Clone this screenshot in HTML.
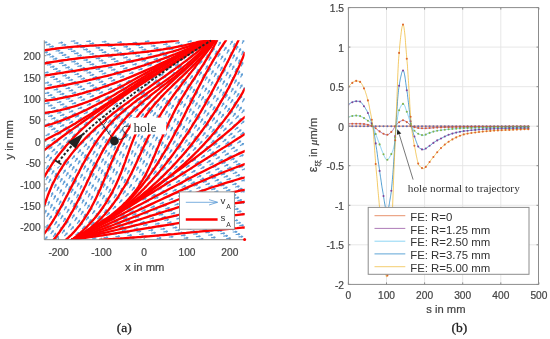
<!DOCTYPE html>
<html><head><meta charset="utf-8"><title>figure</title>
<style>html,body{margin:0;padding:0;background:#fff;}body{width:550px;height:339px;overflow:hidden;}svg{display:block;}</style>
</head><body>
<svg width="550" height="339" viewBox="0 0 550 339">
<rect width="550" height="339" fill="#fff"/>
<clipPath id="cl"><rect x="44.3" y="40.3" width="200.39999999999998" height="199.39999999999998"/></clipPath>
<g clip-path="url(#cl)">
<path d="M44.9,239.7L47,236.8M47,236.8L45.9,237.3M47,236.8L46.8,238M46,228L48,225M48,225L46.9,225.5M48,225L47.9,226.2M48.5,230.8L50.6,227.8M50.6,227.8L49.5,228.4M50.6,227.8L50.4,229M51,233.6L53.1,230.7M53.1,230.7L52.1,231.2M53.1,230.7L53,231.9M53.5,236.4L55.7,233.5M55.7,233.5L54.6,234M55.7,233.5L55.5,234.7M56,239.2L58.3,236.4M58.3,236.4L57.2,236.8M58.3,236.4L58.1,237.6M44.5,213.7L46,210.5M46,210.5L45.1,211.2M46,210.5L46.1,211.6M47,216.4L48.8,213.3M48.8,213.3L47.8,213.9M48.8,213.3L48.8,214.5M49.5,219.2L51.4,216.1M51.4,216.1L50.4,216.7M51.4,216.1L51.4,217.3M52.1,221.9L54,218.9M54,218.9L53,219.5M54,218.9L54,220.1M54.7,224.7L56.6,221.7M56.6,221.7L55.6,222.3M56.6,221.7L56.5,222.9M57.2,227.5L59.2,224.5M59.2,224.5L58.2,225.1M59.2,224.5L59.1,225.7M59.8,230.3L61.8,227.3M61.8,227.3L60.8,227.8M61.8,227.3L61.7,228.5M62.3,233L64.4,230.1M64.4,230.1L63.4,230.6M64.4,230.1L64.3,231.3M64.7,235.7L67.2,233.1M67.2,233.1L66,233.4M67.2,233.1L66.9,234.2M67.2,238.4L69.9,236M69.9,236L68.7,236.3M69.9,236L69.5,237.1M45.4,202.4L46.6,198.9M46.6,198.9L45.7,199.8M46.6,198.9L46.8,200.1M48.1,205.1L49.2,201.7M49.2,201.7L48.3,202.5M49.2,201.7L49.4,202.9M50.6,207.8L52,204.4M52,204.4L51,205.2M52,204.4L52.1,205.6M53.1,210.4L54.8,207.3M54.8,207.3L53.8,207.9M54.8,207.3L54.8,208.5M55.7,213.1L57.4,210M57.4,210L56.4,210.6M57.4,210L57.4,211.2M58.3,215.9L60.1,212.8M60.1,212.8L59,213.4M60.1,212.8L60,214M60.9,218.6L62.7,215.5M62.7,215.5L61.7,216.2M62.7,215.5L62.7,216.7M63.5,221.4L65.3,218.3M65.3,218.3L64.3,218.9M65.3,218.3L65.3,219.5M66.1,224.1L68,221.1M68,221.1L66.9,221.7M68,221.1L67.9,222.3M68.6,226.9L70.6,223.9M70.6,223.9L69.6,224.4M70.6,223.9L70.5,225.1M71,229.5L73.4,226.8M73.4,226.8L72.3,227.2M73.4,226.8L73.1,228M73.6,232.2L76,229.6M76,229.6L74.9,230M76,229.6L75.7,230.8M75.9,234.7L78.9,232.7M78.9,232.7L77.7,232.8M78.9,232.7L78.3,233.8M78.4,237.3L81.6,235.7M81.6,235.7L80.4,235.6M81.6,235.7L80.9,236.7M45.9,191L47.2,187.7M47.2,187.7L46.3,188.4M47.2,187.7L47.4,188.9M48.6,193.7L49.9,190.4M49.9,190.4L49,191.1M49.9,190.4L50.1,191.6M51.3,196.4L52.6,193M52.6,193L51.7,193.8M52.6,193L52.7,194.2M53.9,199.1L55.3,195.7M55.3,195.7L54.4,196.5M55.3,195.7L55.4,196.9M56.5,201.7L58.1,198.5M58.1,198.5L57.1,199.2M58.1,198.5L58.1,199.7M59.1,204.4L60.8,201.2M60.8,201.2L59.8,201.9M60.8,201.2L60.8,202.4M61.8,207.1L63.5,203.9M63.5,203.9L62.5,204.6M63.5,203.9L63.5,205.1M64.4,209.8L66.1,206.7M66.1,206.7L65.1,207.3M66.1,206.7L66.1,207.9M67,212.5L68.8,209.4M68.8,209.4L67.8,210M68.8,209.4L68.8,210.6M69.7,215.3L71.4,212.1M71.4,212.1L70.4,212.8M71.4,212.1L71.4,213.3M72.3,218L74.1,214.9M74.1,214.9L73.1,215.5M74.1,214.9L74.1,216.1M74.9,220.7L76.8,217.7M76.8,217.7L75.8,218.2M76.8,217.7L76.7,218.9M77.4,223.3L79.6,220.5M79.6,220.5L78.5,221M79.6,220.5L79.4,221.7M80,226.1L82.2,223.2M82.2,223.2L81.1,223.7M82.2,223.2L82,224.4M82.4,228.6L85,226.2M85,226.2L83.9,226.5M85,226.2L84.7,227.3M84.8,231.1L87.9,229.2M87.9,229.2L86.7,229.3M87.9,229.2L87.3,230.2M87.3,233.7L90.6,232.1M90.6,232.1L89.4,232.1M90.6,232.1L89.9,233.1M89.8,236.1L93.3,235.3M93.3,235.3L92.2,235M93.3,235.3L92.4,236.1M92.4,238.8L95.9,238.1M95.9,238.1L94.8,237.7M95.9,238.1L95,238.9M46.1,179.8L47.9,176.6M47.9,176.6L46.9,177.3M47.9,176.6L47.9,177.8M48.9,182.4L50.5,179.2M50.5,179.2L49.6,179.9M50.5,179.2L50.6,180.4M51.7,185.1L53.2,181.8M53.2,181.8L52.3,182.5M53.2,181.8L53.3,183M54.4,187.7L56,184.5M56,184.5L55,185.2M56,184.5L56,185.7M57.1,190.4L58.7,187.1M58.7,187.1L57.7,187.9M58.7,187.1L58.7,188.3M59.8,193L61.4,189.8M61.4,189.8L60.4,190.5M61.4,189.8L61.5,191M62.5,195.7L64.1,192.5M64.1,192.5L63.1,193.2M64.1,192.5L64.2,193.7M65.2,198.4L66.8,195.2M66.8,195.2L65.8,195.9M66.8,195.2L66.9,196.4M67.9,201.1L69.5,197.9M69.5,197.9L68.5,198.5M69.5,197.9L69.5,199.1M70.5,203.8L72.2,200.6M72.2,200.6L71.2,201.2M72.2,200.6L72.2,201.8M73.2,206.5L74.9,203.3M74.9,203.3L73.9,203.9M74.9,203.3L74.9,204.5M75.9,209.2L77.6,206M77.6,206L76.6,206.6M77.6,206L77.6,207.2M78.5,211.8L80.3,208.7M80.3,208.7L79.3,209.3M80.3,208.7L80.3,209.9M81.1,214.5L83,211.4M83,211.4L82,212M83,211.4L82.9,212.6M83.7,217.2L85.7,214.2M85.7,214.2L84.6,214.7M85.7,214.2L85.6,215.4M86.3,219.9L88.4,216.9M88.4,216.9L87.3,217.5M88.4,216.9L88.3,218.1M88.8,222.5L91.2,219.8M91.2,219.8L90.1,220.2M91.2,219.8L91,221M91.3,225L94.1,222.7M94.1,222.7L92.9,222.9M94.1,222.7L93.6,223.8M93.8,227.5L96.9,225.7M96.9,225.7L95.7,225.7M96.9,225.7L96.3,226.7M96.4,230.1L99.6,228.5M99.6,228.5L98.4,228.5M99.6,228.5L98.9,229.5M98.9,232.5L102.3,231.5M102.3,231.5L101.2,231.3M102.3,231.5L101.5,232.4M101.5,235.1L105,234.4M105,234.4L103.9,234.1M105,234.4L104.1,235.2M104.1,237.7L107.7,237.3M107.7,237.3L106.6,236.9M107.7,237.3L106.7,238M46.3,168.7L48.3,165.6M48.3,165.6L47.2,166.2M48.3,165.6L48.2,166.8M49.1,171.3L51,168.2M51,168.2L50,168.8M51,168.2L51,169.4M51.9,173.9L53.8,170.8M53.8,170.8L52.7,171.4M53.8,170.8L53.7,172M54.8,176.5L56.5,173.4M56.5,173.4L55.5,174M56.5,173.4L56.5,174.6M57.5,179.1L59.2,176M59.2,176L58.2,176.6M59.2,176L59.2,177.2M60.3,181.8L62,178.6M62,178.6L61,179.3M62,178.6L62,179.8M63,184.4L64.7,181.2M64.7,181.2L63.7,181.9M64.7,181.2L64.7,182.4M65.8,187.1L67.4,183.9M67.4,183.9L66.4,184.5M67.4,183.9L67.5,185.1M68.5,189.7L70.1,186.5M70.1,186.5L69.2,187.2M70.1,186.5L70.2,187.7M71.2,192.4L72.9,189.2M72.9,189.2L71.9,189.8M72.9,189.2L72.9,190.3M74,195L75.6,191.8M75.6,191.8L74.6,192.5M75.6,191.8L75.6,193M76.7,197.7L78.3,194.5M78.3,194.5L77.3,195.2M78.3,194.5L78.3,195.7M79.4,200.4L81,197.1M81,197.1L80,197.8M81,197.1L81,198.3M82.1,203L83.7,199.8M83.7,199.8L82.7,200.5M83.7,199.8L83.7,201M84.7,205.7L86.4,202.5M86.4,202.5L85.4,203.2M86.4,202.5L86.4,203.7M87.4,208.3L89.2,205.2M89.2,205.2L88.1,205.8M89.2,205.2L89.1,206.4M90.1,211L91.9,207.9M91.9,207.9L90.8,208.5M91.9,207.9L91.8,209.1M92.6,213.6L94.7,210.7M94.7,210.7L93.6,211.2M94.7,210.7L94.5,211.9M95.2,216.2L97.5,213.4M97.5,213.4L96.4,213.9M97.5,213.4L97.3,214.6M97.8,218.8L100.3,216.2M100.3,216.2L99.1,216.6M100.3,216.2L99.9,217.4M100.2,221.3L103.2,219.2M103.2,219.2L102,219.3M103.2,219.2L102.6,220.3M102.8,223.9L105.9,222M105.9,222L104.7,222.1M105.9,222L105.3,223M105.4,226.4L108.7,224.9M108.7,224.9L107.5,224.8M108.7,224.9L107.9,225.9M108,228.9L111.4,227.8M111.4,227.8L110.2,227.6M111.4,227.8L110.6,228.7M110.6,231.5L114.1,230.6M114.1,230.6L113,230.3M114.1,230.6L113.2,231.4M113.2,234.1L116.8,233.5M116.8,233.5L115.7,233.1M116.8,233.5L115.9,234.2M115.9,236.6L119.5,236.3M119.5,236.3L118.4,235.8M119.5,236.3L118.5,237M118.6,239.3L122.1,239.1M122.1,239.1L121.1,238.6M122.1,239.1L121.1,239.7M46.3,157.6L48.7,154.9M48.7,154.9L47.6,155.3M48.7,154.9L48.5,156.1M49.3,160.3L51.4,157.3M51.4,157.3L50.3,157.8M51.4,157.3L51.2,158.5M52.1,162.8L54.2,159.9M54.2,159.9L53.1,160.4M54.2,159.9L54.1,161.1M54.9,165.4L57,162.4M57,162.4L55.9,163M57,162.4L56.9,163.6M57.8,168L59.7,165M59.7,165L58.7,165.5M59.7,165L59.6,166.2M60.6,170.6L62.5,167.5M62.5,167.5L61.4,168.1M62.5,167.5L62.4,168.7M63.4,173.2L65.3,170.1M65.3,170.1L64.2,170.7M65.3,170.1L65.2,171.3M66.2,175.8L68,172.7M68,172.7L67,173.3M68,172.7L68,173.9M69,178.5L70.7,175.3M70.7,175.3L69.7,175.9M70.7,175.3L70.7,176.5M71.8,181.1L73.4,177.9M73.4,177.9L72.4,178.5M73.4,177.9L73.5,179.1M74.6,183.7L76.2,180.5M76.2,180.5L75.2,181.2M76.2,180.5L76.2,181.7M77.3,186.3L78.9,183.1M78.9,183.1L77.9,183.8M78.9,183.1L79,184.3M80.1,189L81.6,185.7M81.6,185.7L80.7,186.4M81.6,185.7L81.7,186.9M82.8,191.6L84.4,188.4M84.4,188.4L83.4,189.1M84.4,188.4L84.4,189.6M85.5,194.2L87.1,191M87.1,191L86.1,191.7M87.1,191L87.2,192.2M88.3,196.9L89.8,193.7M89.8,193.7L88.9,194.4M89.8,193.7L89.9,194.9M91,199.5L92.6,196.3M92.6,196.3L91.6,197M92.6,196.3L92.6,197.5M93.7,202.2L95.3,199M95.3,199L94.3,199.7M95.3,199L95.3,200.2M96.3,204.8L98.1,201.7M98.1,201.7L97.1,202.3M98.1,201.7L98.1,202.9M98.9,207.4L100.9,204.4M100.9,204.4L99.8,205M100.9,204.4L100.8,205.6M101.6,210L103.7,207.1M103.7,207.1L102.6,207.6M103.7,207.1L103.5,208.3M104.2,212.6L106.5,209.8M106.5,209.8L105.4,210.3M106.5,209.8L106.2,211M106.7,215.1L109.4,212.7M109.4,212.7L108.2,213M109.4,212.7L109,213.8M109.3,217.6L112.2,215.6M112.2,215.6L111,215.7M112.2,215.6L111.7,216.6M111.9,220.2L115,218.4M115,218.4L113.8,218.4M115,218.4L114.4,219.4M114.5,222.7L117.8,221.2M117.8,221.2L116.6,221.1M117.8,221.2L117,222.2M117.1,225.2L120.5,224M120.5,224L119.3,223.8M120.5,224L119.7,224.9M119.8,227.8L123.2,226.8M123.2,226.8L122.1,226.6M123.2,226.8L122.4,227.7M122.4,230.4L125.9,229.6M125.9,229.6L124.8,229.3M125.9,229.6L125,230.4M125.1,233L128.7,232.4M128.7,232.4L127.5,232M128.7,232.4L127.7,233.1M127.8,235.5L131.4,235.2M131.4,235.2L130.3,234.7M131.4,235.2L130.4,235.9M130.5,238.2L134,237.9M134,237.9L133,237.4M134,237.9L133,238.6M46.2,146.5L49.1,144.4M49.1,144.4L47.9,144.5M49.1,144.4L48.6,145.5M49.1,149L51.9,146.9M51.9,146.9L50.8,147M51.9,146.9L51.4,148M52,151.7L54.7,149.2M54.7,149.2L53.5,149.5M54.7,149.2L54.3,150.4M55.1,154.4L57.3,151.6M57.3,151.6L56.2,152M57.3,151.6L57.1,152.7M57.9,156.9L60.1,154.1M60.1,154.1L59,154.6M60.1,154.1L59.9,155.3M60.8,159.5L62.9,156.6M62.9,156.6L61.8,157.1M62.9,156.6L62.8,157.8M63.6,162.1L65.7,159.1M65.7,159.1L64.6,159.7M65.7,159.1L65.6,160.3M66.4,164.6L68.5,161.7M68.5,161.7L67.4,162.2M68.5,161.7L68.4,162.9M69.3,167.2L71.3,164.2M71.3,164.2L70.2,164.8M71.3,164.2L71.2,165.4M72.2,169.9L73.9,166.7M73.9,166.7L72.9,167.4M73.9,166.7L73.9,167.9M75,172.5L76.7,169.3M76.7,169.3L75.7,170M76.7,169.3L76.7,170.5M77.8,175.1L79.5,171.9M79.5,171.9L78.5,172.5M79.5,171.9L79.5,173.1M80.6,177.7L82.2,174.5M82.2,174.5L81.2,175.1M82.2,174.5L82.3,175.7M83.4,180.3L85,177.1M85,177.1L84,177.7M85,177.1L85,178.2M86.2,182.9L87.7,179.7M87.7,179.7L86.8,180.4M87.7,179.7L87.8,180.9M88.9,185.5L90.5,182.3M90.5,182.3L89.5,183M90.5,182.3L90.5,183.5M91.7,188.1L93.2,184.9M93.2,184.9L92.3,185.6M93.2,184.9L93.3,186.1M94.5,190.8L95.9,187.5M95.9,187.5L95,188.2M95.9,187.5L96,188.7M97.2,193.4L98.7,190.1M98.7,190.1L97.7,190.8M98.7,190.1L98.8,191.3M99.9,196L101.5,192.8M101.5,192.8L100.5,193.5M101.5,192.8L101.5,194M102.6,198.6L104.3,195.5M104.3,195.5L103.3,196.1M104.3,195.5L104.3,196.7M105.2,201.2L107.1,198.1M107.1,198.1L106.1,198.7M107.1,198.1L107.1,199.3M107.9,203.8L109.9,200.8M109.9,200.8L108.8,201.4M109.9,200.8L109.8,202M110.6,206.4L112.7,203.5M112.7,203.5L111.6,204M112.7,203.5L112.5,204.7M113.1,208.9L115.6,206.3M115.6,206.3L114.5,206.7M115.6,206.3L115.3,207.5M115.7,211.4L118.5,209.1M118.5,209.1L117.3,209.3M118.5,209.1L118,210.2M118.3,213.9L121.3,211.9M121.3,211.9L120.1,212M121.3,211.9L120.7,213M120.9,216.4L124.1,214.7M124.1,214.7L122.9,214.7M124.1,214.7L123.4,215.7M123.6,218.9L126.9,217.5M126.9,217.5L125.7,217.4M126.9,217.5L126.1,218.5M126.3,221.5L129.6,220.2M129.6,220.2L128.4,220.1M129.6,220.2L128.8,221.2M128.9,224.1L132.4,223M132.4,223L131.2,222.8M132.4,223L131.5,223.9M131.6,226.6L135.1,225.8M135.1,225.8L134,225.5M135.1,225.8L134.2,226.6M134.3,229.2L137.9,228.5M137.9,228.5L136.7,228.2M137.9,228.5L136.9,229.3M137,231.8L140.6,231.3M140.6,231.3L139.5,230.8M140.6,231.3L139.6,232M139.7,234.4L143.3,234M143.3,234L142.2,233.5M143.3,234L142.3,234.7M142.4,237L146,236.7M146,236.7L144.9,236.2M146,236.7L145,237.4M46,135.6L49.3,134M49.3,134L48.1,133.9M49.3,134L48.6,134.9M49,138.1L52.2,136.4M52.2,136.4L51,136.4M52.2,136.4L51.5,137.4M51.9,140.7L55,138.7M55,138.7L53.8,138.8M55,138.7L54.4,139.8M54.9,143.2L57.8,141.1M57.8,141.1L56.6,141.3M57.8,141.1L57.3,142.2M57.8,145.8L60.6,143.5M60.6,143.5L59.4,143.7M60.6,143.5L60.1,144.6M60.9,148.5L63.2,145.8M63.2,145.8L62.1,146.2M63.2,145.8L63,147M63.8,151L66.1,148.3M66.1,148.3L64.9,148.7M66.1,148.3L65.8,149.5M66.6,153.6L68.9,150.8M68.9,150.8L67.8,151.2M68.9,150.8L68.7,152M69.5,156.1L71.7,153.3M71.7,153.3L70.6,153.8M71.7,153.3L71.5,154.5M72.3,158.7L74.5,155.8M74.5,155.8L73.4,156.3M74.5,155.8L74.3,157M75.2,161.3L77.3,158.3M77.3,158.3L76.2,158.8M77.3,158.3L77.1,159.5M78.2,163.9L79.9,160.8M79.9,160.8L78.9,161.4M79.9,160.8L79.9,162M81,166.5L82.7,163.3M82.7,163.3L81.7,164M82.7,163.3L82.7,164.5M83.8,169.1L85.5,165.9M85.5,165.9L84.5,166.5M85.5,165.9L85.5,167.1M86.7,171.6L88.3,168.4M88.3,168.4L87.3,169.1M88.3,168.4L88.3,169.6M89.5,174.2L91,171M91,171L90.1,171.7M91,171L91.1,172.2M92.3,176.8L93.8,173.6M93.8,173.6L92.9,174.3M93.8,173.6L93.9,174.8M95.1,179.4L96.6,176.2M96.6,176.2L95.6,176.9M96.6,176.2L96.7,177.4M97.9,182L99.3,178.7M99.3,178.7L98.4,179.5M99.3,178.7L99.4,179.9M100.7,184.7L102.1,181.3M102.1,181.3L101.1,182.1M102.1,181.3L102.2,182.5M103.4,187.3L104.8,183.9M104.8,183.9L103.9,184.7M104.8,183.9L105,185.1M106.1,189.8L107.7,186.6M107.7,186.6L106.7,187.3M107.7,186.6L107.7,187.8M108.8,192.4L110.5,189.2M110.5,189.2L109.5,189.9M110.5,189.2L110.5,190.4M111.6,195L113.3,191.9M113.3,191.9L112.3,192.5M113.3,191.9L113.3,193.1M114.2,197.6L116.1,194.5M116.1,194.5L115.1,195.1M116.1,194.5L116.1,195.7M116.9,200.2L118.9,197.2M118.9,197.2L117.9,197.7M118.9,197.2L118.8,198.4M119.5,202.6L121.9,200M121.9,200L120.7,200.4M121.9,200L121.6,201.1M122.1,205.2L124.7,202.7M124.7,202.7L123.6,203M124.7,202.7L124.4,203.8M124.7,207.6L127.6,205.5M127.6,205.5L126.4,205.7M127.6,205.5L127.1,206.6M127.4,210.1L130.4,208.2M130.4,208.2L129.2,208.3M130.4,208.2L129.8,209.3M130,212.6L133.2,211M133.2,211L132.1,211M133.2,211L132.6,212M132.7,215.2L136,213.8M136,213.8L134.8,213.6M136,213.8L135.3,214.7M135.4,217.7L138.8,216.5M138.8,216.5L137.6,216.3M138.8,216.5L138,217.4M138.1,220.3L141.6,219.2M141.6,219.2L140.4,219M141.6,219.2L140.7,220.1M140.8,222.8L144.3,221.9M144.3,221.9L143.2,221.6M144.3,221.9L143.4,222.7M143.6,225.4L147.1,224.6M147.1,224.6L145.9,224.3M147.1,224.6L146.2,225.4M146.3,228L149.8,227.3M149.8,227.3L148.7,227M149.8,227.3L148.9,228.1M149,230.5L152.6,230M152.6,230L151.5,229.6M152.6,230L151.6,230.8M151.7,233.1L155.3,232.7M155.3,232.7L154.2,232.3M155.3,232.7L154.3,233.4M154.5,235.7L158.1,235.4M158.1,235.4L157,234.9M158.1,235.4L157.1,236.1M157.2,238.3L160.8,238M160.8,238L159.7,237.6M160.8,238L159.8,238.7M45.9,124.7L49.3,123.7M49.3,123.7L48.2,123.4M49.3,123.7L48.5,124.5M48.8,127.1L52.3,126M52.3,126L51.1,125.8M52.3,126L51.4,126.9M51.8,129.7L55.1,128.3M55.1,128.3L53.9,128.2M55.1,128.3L54.4,129.3M54.8,132.3L58,130.6M58,130.6L56.8,130.6M58,130.6L57.3,131.6M57.7,134.8L60.8,133M60.8,133L59.7,133M60.8,133L60.2,134M60.7,137.4L63.7,135.3M63.7,135.3L62.5,135.5M63.7,135.3L63.1,136.4M63.7,140L66.5,137.7M66.5,137.7L65.3,137.9M66.5,137.7L66,138.8M66.7,142.6L69.2,140M69.2,140L68,140.4M69.2,140L68.9,141.1M69.6,145.1L72,142.5M72,142.5L70.9,142.9M72,142.5L71.8,143.6M72.5,147.7L74.9,144.9M74.9,144.9L73.7,145.3M74.9,144.9L74.6,146.1M75.4,150.2L77.7,147.4M77.7,147.4L76.6,147.9M77.7,147.4L77.5,148.6M78.2,152.7L80.5,149.9M80.5,149.9L79.4,150.4M80.5,149.9L80.3,151.1M81.3,155.4L83.2,152.3M83.2,152.3L82.2,152.9M83.2,152.3L83.1,153.5M84.2,157.9L86,154.8M86,154.8L84.9,155.4M86,154.8L85.9,156M87,160.5L88.8,157.3M88.8,157.3L87.8,158M88.8,157.3L88.8,158.5M89.9,163L91.6,159.9M91.6,159.9L90.6,160.5M91.6,159.9L91.6,161.1M92.7,165.6L94.3,162.4M94.3,162.4L93.4,163.1M94.3,162.4L94.4,163.6M95.5,168.2L97.2,164.9M97.2,164.9L96.2,165.6M97.2,164.9L97.2,166.1M98.4,170.7L99.9,167.5M99.9,167.5L99,168.2M99.9,167.5L100,168.7M101.2,173.4L102.7,170M102.7,170L101.7,170.8M102.7,170L102.8,171.2M104.1,175.9L105.4,172.6M105.4,172.6L104.5,173.4M105.4,172.6L105.6,173.8M106.8,178.5L108.2,175.2M108.2,175.2L107.3,175.9M108.2,175.2L108.3,176.4M109.6,181.1L111,177.8M111,177.8L110.1,178.5M111,177.8L111.1,179M112.3,183.7L113.9,180.4M113.9,180.4L112.9,181.1M113.9,180.4L113.9,181.6M115.1,186.2L116.7,183M116.7,183L115.7,183.7M116.7,183L116.7,184.2M117.8,188.8L119.5,185.6M119.5,185.6L118.5,186.3M119.5,185.6L119.5,186.8M120.5,191.4L122.3,188.3M122.3,188.3L121.3,188.9M122.3,188.3L122.3,189.5M123.2,193.9L125.2,190.9M125.2,190.9L124.1,191.5M125.2,190.9L125.1,192.1M125.8,196.3L128.2,193.7M128.2,193.7L127,194.1M128.2,193.7L127.9,194.8M128.5,199L130.9,196.3M130.9,196.3L129.8,196.7M130.9,196.3L130.7,197.5M131.1,201.4L133.8,199M133.8,199L132.7,199.3M133.8,199L133.4,200.2M133.8,203.9L136.7,201.8M136.7,201.8L135.5,201.9M136.7,201.8L136.2,202.9M136.5,206.3L139.6,204.6M139.6,204.6L138.4,204.6M139.6,204.6L138.9,205.6M139.1,208.8L142.4,207.3M142.4,207.3L141.2,207.2M142.4,207.3L141.7,208.3M141.9,211.4L145.2,210M145.2,210L144,209.9M145.2,210L144.4,210.9M144.6,213.9L148,212.7M148,212.7L146.8,212.5M148,212.7L147.2,213.6M147.3,216.5L150.8,215.4M150.8,215.4L149.6,215.1M150.8,215.4L149.9,216.2M150.1,219L153.5,218M153.5,218L152.4,217.8M153.5,218L152.7,218.9M152.8,221.6L156.3,220.7M156.3,220.7L155.1,220.4M156.3,220.7L155.4,221.5M155.5,224.1L159.1,223.4M159.1,223.4L157.9,223.1M159.1,223.4L158.2,224.2M158.3,226.7L161.8,226.1M161.8,226.1L160.7,225.7M161.8,226.1L160.9,226.8M161,229.2L164.6,228.8M164.6,228.8L163.5,228.3M164.6,228.8L163.6,229.5M163.8,231.8L167.4,231.4M167.4,231.4L166.3,231M167.4,231.4L166.4,232.1M166.6,234.4L170.1,234M170.1,234L169,233.6M170.1,234L169.1,234.7M169.3,237L172.9,236.7M172.9,236.7L171.8,236.2M172.9,236.7L171.9,237.3M45.7,114L49.3,113.4M49.3,113.4L48.1,113M49.3,113.4L48.3,114.1M48.7,116.4L52.2,115.7M52.2,115.7L51.1,115.3M52.2,115.7L51.3,116.5M51.7,119L55.1,117.9M55.1,117.9L54,117.7M55.1,117.9L54.3,118.8M54.7,121.4L58.1,120.2M58.1,120.2L56.9,120M58.1,120.2L57.3,121.1M57.6,123.9L61,122.6M61,122.6L59.8,122.4M61,122.6L60.2,123.5M60.6,126.4L63.9,124.9M63.9,124.9L62.7,124.8M63.9,124.9L63.2,125.9M63.6,129L66.7,127.2M66.7,127.2L65.5,127.2M66.7,127.2L66.1,128.2M66.6,131.5L69.6,129.5M69.6,129.5L68.4,129.6M69.6,129.5L69,130.6M69.5,134.1L72.4,131.9M72.4,131.9L71.2,132.1M72.4,131.9L71.9,133M72.6,136.7L75.1,134.2M75.1,134.2L74,134.5M75.1,134.2L74.8,135.3M75.5,139.2L78,136.6M78,136.6L76.9,137M78,136.6L77.7,137.8M78.4,141.7L80.9,139.1M80.9,139.1L79.7,139.4M80.9,139.1L80.6,140.2M81.3,144.2L83.7,141.5M83.7,141.5L82.6,141.9M83.7,141.5L83.5,142.7M84.2,146.7L86.5,144M86.5,144L85.4,144.4M86.5,144L86.3,145.2M87.3,149.4L89.2,146.3M89.2,146.3L88.2,146.9M89.2,146.3L89.1,147.5M90.2,151.9L92,148.8M92,148.8L91,149.4M92,148.8L92,150M93,154.5L94.8,151.3M94.8,151.3L93.8,152M94.8,151.3L94.8,152.5M95.9,157L97.6,153.8M97.6,153.8L96.6,154.5M97.6,153.8L97.6,155M98.8,159.5L100.4,156.4M100.4,156.4L99.4,157M100.4,156.4L100.5,157.6M101.6,162.1L103.3,158.9M103.3,158.9L102.3,159.6M103.3,158.9L103.3,160.1M104.5,164.7L106,161.4M106,161.4L105,162.1M106,161.4L106.1,162.6M107.4,167.3L108.8,163.9M108.8,163.9L107.8,164.7M108.8,163.9L108.9,165.1M110.2,169.8L111.6,166.5M111.6,166.5L110.6,167.2M111.6,166.5L111.7,167.7M113,172.4L114.4,169M114.4,169L113.4,169.8M114.4,169L114.5,170.2M115.8,174.9L117.2,171.6M117.2,171.6L116.2,172.4M117.2,171.6L117.3,172.8M118.6,177.5L120,174.2M120,174.2L119.1,174.9M120,174.2L120.1,175.4M121.4,180.1L122.8,176.8M122.8,176.8L121.9,177.5M122.8,176.8L122.9,178M124.1,182.6L125.7,179.4M125.7,179.4L124.7,180.1M125.7,179.4L125.7,180.6M126.8,185.1L128.5,182M128.5,182L127.5,182.6M128.5,182L128.5,183.2M129.5,187.7L131.4,184.6M131.4,184.6L130.4,185.2M131.4,184.6L131.4,185.8M132.2,190.2L134.4,187.3M134.4,187.3L133.3,187.8M134.4,187.3L134.2,188.5M134.9,192.7L137.2,189.9M137.2,189.9L136.1,190.4M137.2,189.9L137,191.1M137.5,195.1L140.1,192.7M140.1,192.7L139,193M140.1,192.7L139.8,193.8M140.1,197.6L143,195.4M143,195.4L141.9,195.6M143,195.4L142.5,196.5M142.9,200.1L145.9,198.1M145.9,198.1L144.7,198.2M145.9,198.1L145.3,199.2M145.6,202.6L148.7,200.8M148.7,200.8L147.5,200.8M148.7,200.8L148.1,201.8M148.3,205.1L151.6,203.5M151.6,203.5L150.4,203.5M151.6,203.5L150.8,204.5M151,207.6L154.4,206.2M154.4,206.2L153.2,206.1M154.4,206.2L153.6,207.1M153.8,210.1L157.2,208.8M157.2,208.8L156,208.7M157.2,208.8L156.4,209.8M156.5,212.6L160,211.5M160,211.5L158.8,211.3M160,211.5L159.1,212.4M159.3,215.2L162.7,214.2M162.7,214.2L161.6,213.9M162.7,214.2L161.9,215M162.1,217.7L165.5,216.8M165.5,216.8L164.4,216.5M165.5,216.8L164.7,217.7M164.8,220.3L168.3,219.5M168.3,219.5L167.2,219.1M168.3,219.5L167.4,220.3M167.6,222.8L171.1,222.1M171.1,222.1L170,221.8M171.1,222.1L170.2,222.9M170.4,225.3L173.9,224.8M173.9,224.8L172.8,224.4M173.9,224.8L173,225.5M173.1,227.9L176.7,227.4M176.7,227.4L175.6,227M176.7,227.4L175.7,228.1M175.9,230.4L179.5,230M179.5,230L178.4,229.6M179.5,230L178.5,230.7M178.7,233L182.3,232.6M182.3,232.6L181.2,232.2M182.3,232.6L181.3,233.3M181.5,235.6L185.1,235.2M185.1,235.2L184,234.8M185.1,235.2L184.1,235.9M184.3,238.1L187.9,237.8M187.9,237.8L186.8,237.3M187.9,237.8L186.9,238.5M45.5,103.6L49.1,103M49.1,103L47.9,102.6M49.1,103L48.1,103.8M48.5,105.9L52.1,105.3M52.1,105.3L50.9,104.9M52.1,105.3L51.1,106.1M51.5,108.3L55.1,107.6M55.1,107.6L53.9,107.3M55.1,107.6L54.1,108.4M54.5,110.7L58,109.9M58,109.9L56.9,109.6M58,109.9L57.1,110.7M57.5,113.1L61,112.3M61,112.3L59.8,111.9M61,112.3L60.1,113.1M60.5,115.6L63.9,114.5M63.9,114.5L62.8,114.3M63.9,114.5L63.1,115.4M63.5,118.1L66.9,116.8M66.9,116.8L65.7,116.6M66.9,116.8L66.1,117.7M66.5,120.5L69.8,119.1M69.8,119.1L68.6,119M69.8,119.1L69,120.1M69.5,123.1L72.6,121.4M72.6,121.4L71.4,121.4M72.6,121.4L72,122.4M72.5,125.6L75.5,123.7M75.5,123.7L74.3,123.8M75.5,123.7L74.9,124.8M75.4,128.1L78.4,126.1M78.4,126.1L77.2,126.2M78.4,126.1L77.9,127.1M78.5,130.8L81.1,128.3M81.1,128.3L80,128.6M81.1,128.3L80.8,129.5M81.4,133.2L84,130.7M84,130.7L82.9,131.1M84,130.7L83.7,131.9M84.3,135.7L86.9,133.2M86.9,133.2L85.7,133.5M86.9,133.2L86.6,134.3M87.2,138.2L89.8,135.6M89.8,135.6L88.6,136M89.8,135.6L89.4,136.8M90.2,140.8L92.5,138M92.5,138L91.4,138.5M92.5,138L92.3,139.2M93.3,143.4L95.3,140.4M95.3,140.4L94.2,140.9M95.3,140.4L95.2,141.6M96.2,145.9L98.1,142.9M98.1,142.9L97.1,143.4M98.1,142.9L98,144.1M99.1,148.4L100.9,145.3M100.9,145.3L99.9,145.9M100.9,145.3L100.9,146.5M102,151L103.7,147.8M103.7,147.8L102.7,148.5M103.7,147.8L103.7,149M104.8,153.5L106.6,150.3M106.6,150.3L105.6,151M106.6,150.3L106.6,151.5M107.7,156L109.3,152.8M109.3,152.8L108.3,153.5M109.3,152.8L109.4,154M110.7,158.6L112.1,155.3M112.1,155.3L111.1,156M112.1,155.3L112.2,156.5M113.5,161.1L114.9,157.8M114.9,157.8L114,158.6M114.9,157.8L115,159M116.3,163.7L117.7,160.4M117.7,160.4L116.8,161.1M117.7,160.4L117.8,161.6M119.2,166.3L120.5,162.9M120.5,162.9L119.6,163.7M120.5,162.9L120.7,164.1M122,168.8L123.3,165.4M123.3,165.4L122.4,166.2M123.3,165.4L123.5,166.6M124.8,171.3L126.1,168M126.1,168L125.2,168.8M126.1,168L126.3,169.2M127.5,173.8L129.1,170.6M129.1,170.6L128.1,171.3M129.1,170.6L129.1,171.8M130.3,176.4L131.9,173.2M131.9,173.2L130.9,173.9M131.9,173.2L132,174.4M133.1,178.9L134.8,175.7M134.8,175.7L133.8,176.4M134.8,175.7L134.8,176.9M135.8,181.4L137.7,178.4M137.7,178.4L136.6,179M137.7,178.4L137.6,179.6M138.5,184L140.5,181M140.5,181L139.5,181.5M140.5,181L140.4,182.2M141.2,186.5L143.4,183.6M143.4,183.6L142.3,184.1M143.4,183.6L143.2,184.8M143.9,188.9L146.4,186.3M146.4,186.3L145.2,186.7M146.4,186.3L146.1,187.5M146.5,191.3L149.3,189.1M149.3,189.1L148.1,189.3M149.3,189.1L148.9,190.2M149.2,193.8L152.2,191.7M152.2,191.7L151,191.9M152.2,191.7L151.7,192.8M152,196.3L155.1,194.4M155.1,194.4L153.9,194.5M155.1,194.4L154.4,195.5M154.7,198.8L157.9,197.1M157.9,197.1L156.7,197.1M157.9,197.1L157.2,198.1M157.5,201.3L160.7,199.7M160.7,199.7L159.5,199.7M160.7,199.7L160,200.7M160.2,203.8L163.5,202.4M163.5,202.4L162.3,202.3M163.5,202.4L162.8,203.3M163,206.3L166.3,205M166.3,205L165.2,204.9M166.3,205L165.6,205.9M165.7,208.8L169.2,207.7M169.2,207.7L168,207.5M169.2,207.7L168.3,208.5M168.5,211.3L172,210.3M172,210.3L170.8,210.1M172,210.3L171.1,211.2M171.3,213.9L174.8,212.9M174.8,212.9L173.6,212.6M174.8,212.9L173.9,213.8M174.1,216.4L177.6,215.6M177.6,215.6L176.4,215.2M177.6,215.6L176.7,216.4M176.9,218.9L180.4,218.2M180.4,218.2L179.2,217.8M180.4,218.2L179.5,219M179.7,221.4L183.2,220.8M183.2,220.8L182.1,220.4M183.2,220.8L182.3,221.6M182.4,224L186,223.4M186,223.4L184.9,223M186,223.4L185.1,224.1M185.2,226.5L188.8,226M188.8,226L187.7,225.6M188.8,226L187.8,226.7M188,229L191.6,228.6M191.6,228.6L190.5,228.2M191.6,228.6L190.6,229.3M190.9,231.5L194.4,231.2M194.4,231.2L193.3,230.7M194.4,231.2L193.4,231.9M193.7,234.1L197.3,233.8M197.3,233.8L196.1,233.3M197.3,233.8L196.3,234.4M196.5,236.6L200.1,236.3M200.1,236.3L199,235.8M200.1,236.3L199.1,237M199.3,239.2L202.9,238.9M202.9,238.9L201.8,238.4M202.9,238.9L201.9,239.5M45.3,93.3L48.8,92.7M48.8,92.7L47.7,92.3M48.8,92.7L47.9,93.4M48.3,95.6L51.9,95M51.9,95L50.7,94.6M51.9,95L50.9,95.7M51.3,97.9L54.9,97.3M54.9,97.3L53.7,96.9M54.9,97.3L53.9,98M54.4,100.2L57.9,99.6M57.9,99.6L56.8,99.2M57.9,99.6L57,100.3M57.4,102.5L60.9,101.8M60.9,101.8L59.8,101.5M60.9,101.8L60,102.6M60.4,104.9L63.9,104.1M63.9,104.1L62.7,103.8M63.9,104.1L63,104.9M63.4,107.3L66.9,106.4M66.9,106.4L65.7,106.1M66.9,106.4L66,107.2M66.4,109.7L69.8,108.7M69.8,108.7L68.7,108.5M69.8,108.7L69,109.6M69.4,112.2L72.8,111M72.8,111L71.6,110.8M72.8,111L72,111.9M72.4,114.7L75.7,113.3M75.7,113.3L74.5,113.2M75.7,113.3L74.9,114.2M75.4,117.1L78.6,115.6M78.6,115.6L77.4,115.5M78.6,115.6L77.9,116.6M78.4,119.7L81.5,117.8M81.5,117.8L80.3,117.9M81.5,117.8L80.9,118.9M81.4,122.2L84.4,120.2M84.4,120.2L83.2,120.3M84.4,120.2L83.8,121.3M84.4,124.8L87.2,122.5M87.2,122.5L86,122.7M87.2,122.5L86.7,123.6M87.4,127.3L90,124.9M90,124.9L88.9,125.1M90,124.9L89.6,126M90.3,129.7L92.9,127.3M92.9,127.3L91.8,127.6M92.9,127.3L92.6,128.4M93.2,132.2L95.8,129.7M95.8,129.7L94.7,130M95.8,129.7L95.5,130.9M96.2,134.8L98.6,132M98.6,132L97.5,132.5M98.6,132L98.3,133.2M99.2,137.3L101.4,134.4M101.4,134.4L100.3,134.9M101.4,134.4L101.2,135.6M102.2,139.8L104.2,136.9M104.2,136.9L103.1,137.4M104.2,136.9L104.1,138.1M105.1,142.4L107,139.3M107,139.3L106,139.9M107,139.3L106.9,140.5M108,144.9L109.9,141.8M109.9,141.8L108.8,142.4M109.9,141.8L109.8,143M110.9,147.4L112.7,144.3M112.7,144.3L111.6,144.9M112.7,144.3L112.7,145.5M113.9,150L115.4,146.7M115.4,146.7L114.4,147.4M115.4,146.7L115.5,147.9M116.7,152.5L118.3,149.2M118.3,149.2L117.3,149.9M118.3,149.2L118.3,150.4M119.6,155L121.1,151.7M121.1,151.7L120.1,152.5M121.1,151.7L121.2,152.9M122.6,157.6L123.8,154.2M123.8,154.2L122.9,155M123.8,154.2L124,155.4M125.4,160.1L126.6,156.7M126.6,156.7L125.7,157.5M126.6,156.7L126.8,157.9M128.2,162.6L129.5,159.3M129.5,159.3L128.6,160.1M129.5,159.3L129.6,160.5M131,165.1L132.4,161.8M132.4,161.8L131.5,162.6M132.4,161.8L132.5,163M133.7,167.7L135.3,164.4M135.3,164.4L134.3,165.1M135.3,164.4L135.4,165.6M136.6,170.2L138.1,166.9M138.1,166.9L137.1,167.6M138.1,166.9L138.2,168.1M139.4,172.7L141,169.5M141,169.5L140,170.2M141,169.5L141,170.7M142.1,175.2L143.9,172.1M143.9,172.1L142.8,172.7M143.9,172.1L143.8,173.3M144.9,177.8L146.7,174.7M146.7,174.7L145.7,175.3M146.7,174.7L146.7,175.9M147.5,180.2L149.7,177.3M149.7,177.3L148.6,177.8M149.7,177.3L149.5,178.5M150.2,182.7L152.6,180M152.6,180L151.5,180.4M152.6,180L152.3,181.2M152.9,185.1L155.6,182.7M155.6,182.7L154.4,183M155.6,182.7L155.2,183.8M155.6,187.5L158.5,185.4M158.5,185.4L157.3,185.5M158.5,185.4L158,186.5M158.3,190L161.3,188M161.3,188L160.1,188.1M161.3,188L160.8,189.1M161.1,192.4L164.2,190.7M164.2,190.7L163,190.7M164.2,190.7L163.6,191.7M163.8,195L167.1,193.3M167.1,193.3L165.9,193.3M167.1,193.3L166.4,194.3M166.6,197.5L169.9,196M169.9,196L168.7,195.9M169.9,196L169.2,196.9M169.4,200L172.7,198.6M172.7,198.6L171.5,198.5M172.7,198.6L172,199.5M172.2,202.5L175.5,201.2M175.5,201.2L174.4,201M175.5,201.2L174.8,202.1M175,205L178.4,203.8M178.4,203.8L177.2,203.6M178.4,203.8L177.6,204.7M177.7,207.5L181.2,206.4M181.2,206.4L180,206.2M181.2,206.4L180.4,207.3M180.5,210L184,209M184,209L182.8,208.8M184,209L183.2,209.9M183.3,212.5L186.8,211.7M186.8,211.7L185.7,211.3M186.8,211.7L185.9,212.5M186.1,215L189.7,214.3M189.7,214.3L188.5,213.9M189.7,214.3L188.8,215M188.9,217.5L192.5,216.9M192.5,216.9L191.3,216.5M192.5,216.9L191.6,217.6M191.8,220L195.3,219.5M195.3,219.5L194.2,219.1M195.3,219.5L194.4,220.2M194.6,222.5L198.1,222M198.1,222L197,221.6M198.1,222L197.2,222.7M197.4,225L201,224.6M201,224.6L199.8,224.2M201,224.6L200,225.3M200.2,227.5L203.8,227.2M203.8,227.2L202.7,226.7M203.8,227.2L202.8,227.9M203,230.1L206.6,229.7M206.6,229.7L205.5,229.3M206.6,229.7L205.6,230.4M205.9,232.6L209.5,232.3M209.5,232.3L208.4,231.8M209.5,232.3L208.5,232.9M208.7,235.1L212.3,234.8M212.3,234.8L211.2,234.3M212.3,234.8L211.3,235.5M211.6,237.6L215.1,237.3M215.1,237.3L214,236.8M215.1,237.3L214.2,238M45,83.1L48.5,82.5M48.5,82.5L47.4,82.1M48.5,82.5L47.6,83.2M48,85.3L51.6,84.7M51.6,84.7L50.4,84.3M51.6,84.7L50.6,85.4M51.1,87.6L54.6,86.9M54.6,86.9L53.5,86.5M54.6,86.9L53.7,87.7M54.2,89.8L57.7,89.2M57.7,89.2L56.6,88.8M57.7,89.2L56.8,89.9M57.2,92.1L60.7,91.5M60.7,91.5L59.6,91.1M60.7,91.5L59.8,92.2M60.2,94.4L63.8,93.7M63.8,93.7L62.6,93.4M63.8,93.7L62.8,94.5M63.3,96.7L66.8,96M66.8,96L65.6,95.7M66.8,96L65.9,96.8M66.3,99.1L69.8,98.3M69.8,98.3L68.6,98M69.8,98.3L68.9,99.1M69.3,101.5L72.8,100.6M72.8,100.6L71.6,100.3M72.8,100.6L71.9,101.4M72.3,103.9L75.7,102.9M75.7,102.9L74.6,102.6M75.7,102.9L74.9,103.7M75.3,106.3L78.7,105.2M78.7,105.2L77.5,104.9M78.7,105.2L77.9,106M78.3,108.7L81.7,107.4M81.7,107.4L80.5,107.3M81.7,107.4L80.9,108.4M81.3,111.2L84.6,109.7M84.6,109.7L83.4,109.6M84.6,109.7L83.9,110.7M84.3,113.7L87.5,112M87.5,112L86.3,112M87.5,112L86.8,113M87.3,116.2L90.4,114.3M90.4,114.3L89.2,114.4M90.4,114.3L89.8,115.3M90.3,118.7L93.2,116.6M93.2,116.6L92,116.8M93.2,116.6L92.7,117.7M93.3,121.2L96.1,119M96.1,119L94.9,119.2M96.1,119L95.7,120.1M96.3,123.7L99,121.3M99,121.3L97.8,121.6M99,121.3L98.6,122.5M99.2,126.2L101.9,123.8M101.9,123.8L100.7,124M101.9,123.8L101.5,124.9M102.2,128.7L104.7,126.1M104.7,126.1L103.5,126.5M104.7,126.1L104.4,127.2M105.2,131.3L107.5,128.5M107.5,128.5L106.4,128.9M107.5,128.5L107.3,129.6M108.2,133.8L110.3,130.9M110.3,130.9L109.2,131.4M110.3,130.9L110.2,132.1M111.1,136.3L113.1,133.3M113.1,133.3L112.1,133.9M113.1,133.3L113,134.5M114,138.8L116,135.8M116,135.8L114.9,136.3M116,135.8L115.9,137M117,141.3L118.8,138.2M118.8,138.2L117.7,138.8M118.8,138.2L118.8,139.4M119.9,143.9L121.6,140.7M121.6,140.7L120.6,141.3M121.6,140.7L121.6,141.9M122.8,146.4L124.4,143.1M124.4,143.1L123.4,143.8M124.4,143.1L124.5,144.3M125.8,148.9L127.1,145.6M127.1,145.6L126.2,146.4M127.1,145.6L127.3,146.8M128.7,151.5L129.9,148.1M129.9,148.1L129,148.9M129.9,148.1L130.1,149.3M131.6,154L132.8,150.6M132.8,150.6L131.9,151.4M132.8,150.6L133,151.8M134.3,156.5L135.7,153.1M135.7,153.1L134.8,153.9M135.7,153.1L135.8,154.3M137.1,159L138.6,155.7M138.6,155.7L137.7,156.4M138.6,155.7L138.7,156.9M140,161.5L141.5,158.2M141.5,158.2L140.5,158.9M141.5,158.2L141.5,159.4M142.8,164L144.3,160.7M144.3,160.7L143.3,161.5M144.3,160.7L144.4,161.9M145.6,166.5L147.2,163.3M147.2,163.3L146.2,164M147.2,163.3L147.2,164.5M148.4,169.1L150,165.8M150,165.8L149,166.5M150,165.8L150.1,167M151.1,171.5L153,168.5M153,168.5L152,169M153,168.5L152.9,169.7M153.8,174L156,171.1M156,171.1L154.9,171.6M156,171.1L155.8,172.3M156.5,176.4L158.9,173.7M158.9,173.7L157.7,174.1M158.9,173.7L158.6,174.9M159.2,178.8L161.8,176.4M161.8,176.4L160.7,176.7M161.8,176.4L161.4,177.5M161.9,181.3L164.7,179M164.7,179L163.5,179.2M164.7,179L164.3,180.1M164.7,183.7L167.6,181.7M167.6,181.7L166.4,181.8M167.6,181.7L167.1,182.7M167.4,186.2L170.5,184.3M170.5,184.3L169.3,184.4M170.5,184.3L169.9,185.4M170.2,188.7L173.4,187M173.4,187L172.2,186.9M173.4,187L172.7,188M173,191.1L176.2,189.6M176.2,189.6L175,189.5M176.2,189.6L175.5,190.6M175.8,193.7L179.1,192.2M179.1,192.2L177.9,192.1M179.1,192.2L178.3,193.1M178.6,196.1L181.9,194.8M181.9,194.8L180.7,194.6M181.9,194.8L181.1,195.7M181.4,198.6L184.7,197.4M184.7,197.4L183.5,197.2M184.7,197.4L183.9,198.3M184.2,201.1L187.6,200M187.6,200L186.4,199.8M187.6,200L186.8,200.9M187,203.6L190.4,202.6M190.4,202.6L189.2,202.3M190.4,202.6L189.6,203.4M189.8,206.1L193.2,205.2M193.2,205.2L192.1,204.9M193.2,205.2L192.4,206M192.6,208.6L196.1,207.8M196.1,207.8L194.9,207.5M196.1,207.8L195.2,208.6M195.4,211.1L198.9,210.3M198.9,210.3L197.8,210M198.9,210.3L198,211.1M198.2,213.6L201.8,212.9M201.8,212.9L200.6,212.6M201.8,212.9L200.8,213.7M201,216.1L204.6,215.5M204.6,215.5L203.5,215.1M204.6,215.5L203.7,216.2M203.9,218.6L207.4,218.1M207.4,218.1L206.3,217.7M207.4,218.1L206.5,218.8M206.7,221.1L210.3,220.6M210.3,220.6L209.2,220.2M210.3,220.6L209.3,221.3M209.6,223.6L213.1,223.2M213.1,223.2L212,222.7M213.1,223.2L212.1,223.9M212.4,226.1L216,225.7M216,225.7L214.9,225.2M216,225.7L215,226.4M215.2,228.6L218.8,228.2M218.8,228.2L217.7,227.8M218.8,228.2L217.8,228.9M218.1,231.1L221.7,230.7M221.7,230.7L220.6,230.3M221.7,230.7L220.7,231.4M221,233.6L224.5,233.2M224.5,233.2L223.4,232.8M224.5,233.2L223.6,233.9M223.8,236.1L227.4,235.7M227.4,235.7L226.3,235.3M227.4,235.7L226.4,236.4M226.7,238.6L230.3,238.2M230.3,238.2L229.2,237.8M230.3,238.2L229.3,238.9M44.6,72.9L48.2,72.3M48.2,72.3L47,71.9M48.2,72.3L47.2,73.1M47.7,75.1L51.3,74.5M51.3,74.5L50.1,74.1M51.3,74.5L50.3,75.2M50.8,77.3L54.4,76.7M54.4,76.7L53.2,76.3M54.4,76.7L53.4,77.4M53.9,79.5L57.4,78.9M57.4,78.9L56.3,78.5M57.4,78.9L56.5,79.7M57,81.8L60.5,81.1M60.5,81.1L59.4,80.8M60.5,81.1L59.6,81.9M60,84L63.6,83.4M63.6,83.4L62.4,83M63.6,83.4L62.6,84.1M63.1,86.3L66.6,85.6M66.6,85.6L65.5,85.3M66.6,85.6L65.7,86.4M66.1,88.6L69.7,87.9M69.7,87.9L68.5,87.5M69.7,87.9L68.7,88.7M69.2,90.9L72.7,90.2M72.7,90.2L71.5,89.8M72.7,90.2L71.8,90.9M72.2,93.3L75.7,92.4M75.7,92.4L74.6,92.1M75.7,92.4L74.8,93.2M75.2,95.6L78.7,94.7M78.7,94.7L77.6,94.4M78.7,94.7L77.8,95.5M78.2,98L81.7,97M81.7,97L80.5,96.7M81.7,97L80.8,97.8M81.3,100.4L84.7,99.2M84.7,99.2L83.5,99M84.7,99.2L83.9,100.1M84.3,102.8L87.6,101.5M87.6,101.5L86.4,101.4M87.6,101.5L86.8,102.5M87.3,105.3L90.6,103.8M90.6,103.8L89.4,103.7M90.6,103.8L89.8,104.8M90.3,107.7L93.5,106.1M93.5,106.1L92.3,106.1M93.5,106.1L92.8,107.1M93.3,110.3L96.4,108.4M96.4,108.4L95.2,108.4M96.4,108.4L95.8,109.4M96.3,112.7L99.3,110.7M99.3,110.7L98.1,110.8M99.3,110.7L98.7,111.8M99.3,115.2L102.1,113M102.1,113L101,113.2M102.1,113L101.7,114.1M102.3,117.7L105.1,115.4M105.1,115.4L103.9,115.6M105.1,115.4L104.6,116.5M105.2,120.1L108,117.8M108,117.8L106.8,118M108,117.8L107.5,118.9M108.2,122.7L110.8,120.1M110.8,120.1L109.6,120.5M110.8,120.1L110.4,121.3M111.2,125.2L113.6,122.5M113.6,122.5L112.5,122.9M113.6,122.5L113.3,123.7M114.2,127.7L116.4,124.9M116.4,124.9L115.3,125.3M116.4,124.9L116.2,126.1M117.1,130.2L119.3,127.3M119.3,127.3L118.2,127.8M119.3,127.3L119.1,128.5M120.1,132.7L122.1,129.7M122.1,129.7L121,130.3M122.1,129.7L122,130.9M123.1,135.2L124.9,132.1M124.9,132.1L123.9,132.7M124.9,132.1L124.9,133.3M126,137.7L127.8,134.6M127.8,134.6L126.7,135.2M127.8,134.6L127.7,135.8M129,140.3L130.5,137M130.5,137L129.5,137.7M130.5,137L130.6,138.2M132,142.8L133.3,139.5M133.3,139.5L132.4,140.2M133.3,139.5L133.4,140.7M134.8,145.3L136.1,142M136.1,142L135.2,142.7M136.1,142L136.3,143.2M137.6,147.8L139.1,144.5M139.1,144.5L138.1,145.2M139.1,144.5L139.2,145.7M140.4,150.3L141.9,147M141.9,147L141,147.7M141.9,147L142,148.2M143.3,152.8L144.8,149.5M144.8,149.5L143.8,150.2M144.8,149.5L144.9,150.7M146.2,155.3L147.6,152M147.6,152L146.7,152.7M147.6,152L147.7,153.2M149,157.8L150.5,154.5M150.5,154.5L149.5,155.3M150.5,154.5L150.6,155.7M151.9,160.3L153.3,157.1M153.3,157.1L152.4,157.8M153.3,157.1L153.4,158.3M154.6,162.8L156.3,159.6M156.3,159.6L155.3,160.3M156.3,159.6L156.3,160.8M157.3,165.3L159.3,162.2M159.3,162.2L158.2,162.8M159.3,162.2L159.2,163.4M160,167.7L162.2,164.9M162.2,164.9L161.1,165.3M162.2,164.9L162,166M162.8,170.2L165.1,167.4M165.1,167.4L164,167.9M165.1,167.4L164.9,168.6M165.5,172.6L168,170.1M168,170.1L166.9,170.4M168,170.1L167.7,171.2M168.2,175.1L171,172.7M171,172.7L169.8,173M171,172.7L170.5,173.8M171,177.5L173.9,175.3M173.9,175.3L172.7,175.5M173.9,175.3L173.4,176.4M173.8,180L176.8,178M176.8,178L175.6,178.1M176.8,178L176.2,179M176.5,182.4L179.6,180.6M179.6,180.6L178.4,180.6M179.6,180.6L179,181.6M179.3,184.9L182.5,183.2M182.5,183.2L181.3,183.2M182.5,183.2L181.8,184.2M182.1,187.3L185.4,185.8M185.4,185.8L184.2,185.7M185.4,185.8L184.7,186.8M184.9,189.8L188.2,188.4M188.2,188.4L187,188.3M188.2,188.4L187.5,189.3M187.7,192.3L191.1,191M191.1,191L189.9,190.8M191.1,191L190.3,191.9M190.5,194.8L193.9,193.6M193.9,193.6L192.7,193.4M193.9,193.6L193.1,194.5M193.4,197.3L196.8,196.2M196.8,196.2L195.6,195.9M196.8,196.2L195.9,197M196.2,199.8L199.6,198.7M199.6,198.7L198.4,198.5M199.6,198.7L198.8,199.6M199,202.3L202.5,201.3M202.5,201.3L201.3,201M202.5,201.3L201.6,202.1M201.8,204.8L205.3,203.9M205.3,203.9L204.1,203.6M205.3,203.9L204.4,204.7M204.6,207.2L208.2,206.5M208.2,206.5L207,206.1M208.2,206.5L207.3,207.2M207.5,209.7L211,209M211,209L209.9,208.7M211,209L210.1,209.8M210.3,212.2L213.9,211.6M213.9,211.6L212.7,211.2M213.9,211.6L212.9,212.3M213.2,214.7L216.7,214.1M216.7,214.1L215.6,213.7M216.7,214.1L215.8,214.9M216,217.2L219.6,216.7M219.6,216.7L218.5,216.2M219.6,216.7L218.6,217.4M218.9,219.6L222.4,219.2M222.4,219.2L221.3,218.8M222.4,219.2L221.5,219.9M221.7,222.1L225.3,221.7M225.3,221.7L224.2,221.3M225.3,221.7L224.3,222.4M224.6,224.6L228.2,224.2M228.2,224.2L227.1,223.8M228.2,224.2L227.2,224.9M227.5,227.1L231,226.7M231,226.7L229.9,226.3M231,226.7L230,227.4M230.3,229.5L233.9,229.2M233.9,229.2L232.8,228.7M233.9,229.2L232.9,229.9M233.2,232L236.8,231.7M236.8,231.7L235.7,231.2M236.8,231.7L235.8,232.4M236.1,234.5L239.7,234.2M239.7,234.2L238.6,233.7M239.7,234.2L238.7,234.8M239,236.9L242.6,236.6M242.6,236.6L241.5,236.1M242.6,236.6L241.6,237.3M44.2,62.9L47.8,62.2M47.8,62.2L46.6,61.8M47.8,62.2L46.8,62.9M47.4,65L50.9,64.3M50.9,64.3L49.8,64M50.9,64.3L50,65.1M50.5,67.1L54,66.5M54,66.5L52.9,66.1M54,66.5L53.1,67.3M53.6,69.3L57.2,68.7M57.2,68.7L56,68.3M57.2,68.7L56.2,69.4M56.7,71.5L60.3,70.9M60.3,70.9L59.1,70.5M60.3,70.9L59.3,71.6M59.8,73.7L63.4,73.1M63.4,73.1L62.2,72.7M63.4,73.1L62.4,73.8M62.9,75.9L66.4,75.3M66.4,75.3L65.3,74.9M66.4,75.3L65.5,76.1M66,78.2L69.5,77.5M69.5,77.5L68.4,77.2M69.5,77.5L68.6,78.3M69,80.4L72.6,79.8M72.6,79.8L71.4,79.4M72.6,79.8L71.6,80.5M72.1,82.7L75.6,82M75.6,82L74.5,81.7M75.6,82L74.7,82.8M75.1,85L78.7,84.3M78.7,84.3L77.5,83.9M78.7,84.3L77.7,85.1M78.2,87.3L81.7,86.5M81.7,86.5L80.5,86.2M81.7,86.5L80.8,87.3M81.2,89.7L84.7,88.8M84.7,88.8L83.5,88.5M84.7,88.8L83.8,89.6M84.2,92L87.7,91.1M87.7,91.1L86.5,90.8M87.7,91.1L86.8,91.9M87.2,94.4L90.7,93.4M90.7,93.4L89.5,93.1M90.7,93.4L89.8,94.2M90.3,96.9L93.6,95.6M93.6,95.6L92.4,95.4M93.6,95.6L92.8,96.5M93.3,99.3L96.6,97.9M96.6,97.9L95.4,97.8M96.6,97.9L95.8,98.8M96.3,101.7L99.5,100.2M99.5,100.2L98.3,100.1M99.5,100.2L98.8,101.1M99.3,104.2L102.4,102.4M102.4,102.4L101.2,102.5M102.4,102.4L101.8,103.5M102.3,106.7L105.3,104.7M105.3,104.7L104.1,104.8M105.3,104.7L104.8,105.8M105.3,109.2L108.2,107M108.2,107L107,107.2M108.2,107L107.7,108.1M108.3,111.6L111.1,109.4M111.1,109.4L110,109.6M111.1,109.4L110.7,110.5M111.3,114.1L114.1,111.8M114.1,111.8L112.9,112M114.1,111.8L113.6,112.9M114.2,116.5L116.9,114.2M116.9,114.2L115.8,114.4M116.9,114.2L116.5,115.3M117.2,119L119.8,116.5M119.8,116.5L118.6,116.9M119.8,116.5L119.4,117.7M120.2,121.6L122.6,118.9M122.6,118.9L121.5,119.3M122.6,118.9L122.3,120M123.2,124.1L125.5,121.3M125.5,121.3L124.4,121.7M125.5,121.3L125.2,122.5M126.2,126.6L128.3,123.7M128.3,123.7L127.2,124.2M128.3,123.7L128.1,124.9M129.1,129.1L131.1,126.1M131.1,126.1L130,126.7M131.1,126.1L131,127.3M132.1,131.6L133.9,128.5M133.9,128.5L132.9,129.1M133.9,128.5L133.9,129.7M135.1,134.2L136.6,130.9M136.6,130.9L135.7,131.6M136.6,130.9L136.7,132.1M138,136.7L139.5,133.4M139.5,133.4L138.5,134.1M139.5,133.4L139.6,134.6M140.9,139.1L142.4,135.9M142.4,135.9L141.4,136.6M142.4,135.9L142.5,137.1M143.7,141.6L145.3,138.4M145.3,138.4L144.3,139.1M145.3,138.4L145.3,139.6M146.6,144.1L148.1,140.9M148.1,140.9L147.2,141.6M148.1,140.9L148.2,142.1M149.5,146.6L151,143.4M151,143.4L150,144.1M151,143.4L151.1,144.6M152.4,149.1L153.8,145.8M153.8,145.8L152.9,146.6M153.8,145.8L153.9,147M155.2,151.7L156.6,148.3M156.6,148.3L155.7,149.1M156.6,148.3L156.8,149.5M158,154.1L159.6,150.9M159.6,150.9L158.6,151.6M159.6,150.9L159.6,152.1M160.7,156.6L162.6,153.5M162.6,153.5L161.5,154.1M162.6,153.5L162.5,154.7M163.5,159L165.5,156M165.5,156L164.4,156.6M165.5,156L165.4,157.2M166.3,161.5L168.4,158.6M168.4,158.6L167.3,159.1M168.4,158.6L168.3,159.8M169,164L171.3,161.2M171.3,161.2L170.2,161.6M171.3,161.2L171.1,162.4M171.8,166.4L174.3,163.8M174.3,163.8L173.1,164.2M174.3,163.8L174,165M174.5,168.9L177.2,166.4M177.2,166.4L176,166.7M177.2,166.4L176.8,167.5M177.3,171.3L180.1,169.1M180.1,169.1L178.9,169.2M180.1,169.1L179.6,170.2M180.1,173.7L183,171.7M183,171.7L181.8,171.8M183,171.7L182.5,172.7M182.8,176.2L185.9,174.3M185.9,174.3L184.7,174.3M185.9,174.3L185.3,175.3M185.6,178.6L188.8,176.9M188.8,176.9L187.6,176.9M188.8,176.9L188.1,177.9M188.4,181.1L191.6,179.5M191.6,179.5L190.4,179.4M191.6,179.5L191,180.5M191.2,183.6L194.5,182.1M194.5,182.1L193.3,182M194.5,182.1L193.8,183M194.1,186L197.4,184.6M197.4,184.6L196.2,184.5M197.4,184.6L196.6,185.6M196.9,188.5L200.2,187.2M200.2,187.2L199,187.1M200.2,187.2L199.5,188.1M199.7,191L203.1,189.8M203.1,189.8L201.9,189.6M203.1,189.8L202.3,190.7M202.5,193.5L205.9,192.3M205.9,192.3L204.8,192.1M205.9,192.3L205.1,193.2M205.4,195.9L208.8,194.9M208.8,194.9L207.6,194.7M208.8,194.9L208,195.8M208.2,198.4L211.7,197.5M211.7,197.5L210.5,197.2M211.7,197.5L210.8,198.3M211,200.9L214.5,200M214.5,200L213.4,199.7M214.5,200L213.6,200.8M213.9,203.4L217.4,202.6M217.4,202.6L216.2,202.3M217.4,202.6L216.5,203.4M216.7,205.8L220.2,205.1M220.2,205.1L219.1,204.8M220.2,205.1L219.3,205.9M219.6,208.3L223.1,207.7M223.1,207.7L222,207.3M223.1,207.7L222.2,208.4M222.4,210.8L226,210.2M226,210.2L224.8,209.8M226,210.2L225,210.9M225.3,213.2L228.8,212.8M228.8,212.8L227.7,212.3M228.8,212.8L227.9,213.5M228.1,215.7L231.7,215.3M231.7,215.3L230.6,214.8M231.7,215.3L230.7,216M231,218.2L234.6,217.8M234.6,217.8L233.5,217.3M234.6,217.8L233.6,218.5M233.9,220.6L237.5,220.3M237.5,220.3L236.4,219.8M237.5,220.3L236.5,220.9M236.8,223.1L240.4,222.8M240.4,222.8L239.3,222.3M240.4,222.8L239.4,223.4M239.7,225.5L243.2,225.2M243.2,225.2L242.2,224.8M243.2,225.2L242.3,225.9M43.8,52.8L47.4,52.2M47.4,52.2L46.2,51.8M47.4,52.2L46.4,52.9M47,54.9L50.5,54.3M50.5,54.3L49.4,53.9M50.5,54.3L49.6,55M50.1,57L53.7,56.4M53.7,56.4L52.6,56M53.7,56.4L52.7,57.1M53.3,59.1L56.8,58.5M56.8,58.5L55.7,58.1M56.8,58.5L55.9,59.3M56.4,61.3L60,60.7M60,60.7L58.8,60.3M60,60.7L59,61.4M59.5,63.4L63.1,62.9M63.1,62.9L62,62.5M63.1,62.9L62.1,63.6M62.6,65.6L66.2,65.1M66.2,65.1L65.1,64.6M66.2,65.1L65.3,65.8M65.8,67.8L69.3,67.2M69.3,67.2L68.2,66.8M69.3,67.2L68.4,68M68.8,70L72.4,69.4M72.4,69.4L71.3,69M72.4,69.4L71.4,70.2M71.9,72.2L75.5,71.7M75.5,71.7L74.4,71.3M75.5,71.7L74.5,72.4M75,74.5L78.6,73.9M78.6,73.9L77.4,73.5M78.6,73.9L77.6,74.6M78.1,76.8L81.6,76.1M81.6,76.1L80.5,75.7M81.6,76.1L80.7,76.9M81.1,79.1L84.6,78.3M84.6,78.3L83.5,78M84.6,78.3L83.7,79.1M84.2,81.4L87.7,80.6M87.7,80.6L86.5,80.3M87.7,80.6L86.8,81.4M87.2,83.7L90.7,82.9M90.7,82.9L89.5,82.6M90.7,82.9L89.8,83.7M90.2,86.1L93.7,85.1M93.7,85.1L92.5,84.8M93.7,85.1L92.8,86M93.3,88.4L96.7,87.4M96.7,87.4L95.5,87.1M96.7,87.4L95.9,88.2M96.3,90.8L99.7,89.7M99.7,89.7L98.5,89.5M99.7,89.7L98.9,90.6M99.3,93.3L102.6,91.9M102.6,91.9L101.4,91.8M102.6,91.9L101.9,92.9M102.3,95.7L105.6,94.2M105.6,94.2L104.4,94.1M105.6,94.2L104.9,95.2M105.3,98.2L108.5,96.5M108.5,96.5L107.3,96.5M108.5,96.5L107.9,97.5M108.4,100.6L111.4,98.7M111.4,98.7L110.2,98.8M111.4,98.7L110.8,99.8M111.4,103.1L114.3,101.1M114.3,101.1L113.1,101.2M114.3,101.1L113.8,102.1M114.3,105.5L117.3,103.4M117.3,103.4L116.1,103.6M117.3,103.4L116.7,104.5M117.3,108L120.2,105.8M120.2,105.8L119,106M120.2,105.8L119.7,106.9M120.3,110.4L123.1,108.2M123.1,108.2L121.9,108.4M123.1,108.2L122.6,109.3M123.2,112.9L126,110.5M126,110.5L124.8,110.8M126,110.5L125.5,111.7M126.2,115.4L128.8,112.9M128.8,112.9L127.6,113.2M128.8,112.9L128.5,114M129.2,117.9L131.7,115.3M131.7,115.3L130.5,115.7M131.7,115.3L131.4,116.4M132.2,120.5L134.4,117.6M134.4,117.6L133.3,118.1M134.4,117.6L134.2,118.8M135.2,123L137.3,120M137.3,120L136.2,120.5M137.3,120L137.1,121.2M138.2,125.5L140,122.4M140,122.4L139,123M140,122.4L140,123.6M141.2,128L142.9,124.8M142.9,124.8L141.9,125.5M142.9,124.8L142.9,126M144.1,130.5L145.7,127.3M145.7,127.3L144.7,128M145.7,127.3L145.8,128.5M147,133L148.6,129.8M148.6,129.8L147.6,130.4M148.6,129.8L148.6,131M149.9,135.5L151.5,132.2M151.5,132.2L150.5,132.9M151.5,132.2L151.5,133.4M152.7,138L154.3,134.7M154.3,134.7L153.3,135.4M154.3,134.7L154.4,135.9M155.7,140.5L157.1,137.2M157.1,137.2L156.2,137.9M157.1,137.2L157.2,138.4M158.6,143L160,139.7M160,139.7L159,140.4M160,139.7L160.1,140.9M161.4,145.5L162.9,142.2M162.9,142.2L161.9,142.9M162.9,142.2L163,143.4M164.1,147.9L165.9,144.8M165.9,144.8L164.9,145.4M165.9,144.8L165.9,146M166.9,150.4L168.8,147.3M168.8,147.3L167.7,147.9M168.8,147.3L168.7,148.5M169.7,152.8L171.7,149.9M171.7,149.9L170.7,150.4M171.7,149.9L171.6,151M172.5,155.3L174.6,152.4M174.6,152.4L173.5,152.9M174.6,152.4L174.5,153.6M175.3,157.8L177.5,155M177.5,155L176.4,155.4M177.5,155L177.3,156.2M178.1,160.2L180.5,157.5M180.5,157.5L179.3,157.9M180.5,157.5L180.2,158.7M180.8,162.7L183.4,160.1M183.4,160.1L182.2,160.5M183.4,160.1L183,161.3M183.6,165.1L186.3,162.7M186.3,162.7L185.1,163M186.3,162.7L185.9,163.9M186.4,167.5L189.2,165.3M189.2,165.3L188,165.5M189.2,165.3L188.7,166.4M189.1,169.9L192.1,168M192.1,168L190.9,168.1M192.1,168L191.6,169M191.9,172.4L195,170.6M195,170.6L193.8,170.6M195,170.6L194.4,171.6M194.7,174.8L197.9,173.2M197.9,173.2L196.7,173.2M197.9,173.2L197.2,174.2M197.5,177.3L200.8,175.7M200.8,175.7L199.6,175.7M200.8,175.7L200.1,176.7M200.4,179.8L203.6,178.3M203.6,178.3L202.5,178.2M203.6,178.3L202.9,179.3M203.2,182.3L206.5,180.9M206.5,180.9L205.3,180.8M206.5,180.9L205.8,181.8M206,184.7L209.4,183.5M209.4,183.5L208.2,183.3M209.4,183.5L208.6,184.4M208.8,187.2L212.2,186M212.2,186L211.1,185.8M212.2,186L211.4,186.9M211.7,189.7L215.1,188.6M215.1,188.6L213.9,188.3M215.1,188.6L214.3,189.4M214.5,192.1L218,191.1M218,191.1L216.8,190.9M218,191.1L217.1,192M217.4,194.6L220.8,193.7M220.8,193.7L219.7,193.4M220.8,193.7L220,194.5M220.2,197.1L223.7,196.2M223.7,196.2L222.5,195.9M223.7,196.2L222.8,197M223.1,199.5L226.6,198.8M226.6,198.8L225.4,198.4M226.6,198.8L225.7,199.6M225.9,202L229.4,201.3M229.4,201.3L228.3,200.9M229.4,201.3L228.5,202.1M228.8,204.5L232.3,203.8M232.3,203.8L231.2,203.4M232.3,203.8L231.4,204.6M231.6,206.9L235.2,206.3M235.2,206.3L234.1,205.9M235.2,206.3L234.2,207.1M234.5,209.4L238.1,208.9M238.1,208.9L237,208.4M238.1,208.9L237.1,209.6M237.4,211.8L241,211.4M241,211.4L239.8,210.9M241,211.4L240,212.1M240.3,214.3L243.8,213.9M243.8,213.9L242.7,213.4M243.8,213.9L242.9,214.6M43.4,42.8L46.9,42.3M46.9,42.3L45.8,41.8M46.9,42.3L46,43M46.6,44.8L50.1,44.3M50.1,44.3L49,43.9M50.1,44.3L49.2,45M49.7,46.9L53.3,46.4M53.3,46.4L52.2,46M53.3,46.4L52.3,47.1M52.9,49L56.5,48.5M56.5,48.5L55.4,48M56.5,48.5L55.5,49.2M56.1,51L59.7,50.6M59.7,50.6L58.5,50.2M59.7,50.6L58.7,51.3M59.2,53.2L62.8,52.7M62.8,52.7L61.7,52.3M62.8,52.7L61.8,53.4M62.4,55.3L65.9,54.8M65.9,54.8L64.8,54.4M65.9,54.8L65,55.5M65.5,57.5L69.1,57M69.1,57L68,56.6M69.1,57L68.1,57.7M68.6,59.6L72.2,59.2M72.2,59.2L71.1,58.7M72.2,59.2L71.2,59.9M71.7,61.8L75.3,61.4M75.3,61.4L74.2,60.9M75.3,61.4L74.3,62.1M74.8,64L78.4,63.6M78.4,63.6L77.3,63.1M78.4,63.6L77.4,64.3M77.9,66.3L81.5,65.7M81.5,65.7L80.4,65.3M81.5,65.7L80.5,66.5M81,68.5L84.6,68M84.6,68L83.4,67.5M84.6,68L83.6,68.7M84.1,70.8L87.6,70.2M87.6,70.2L86.5,69.8M87.6,70.2L86.7,70.9M87.1,73L90.7,72.4M90.7,72.4L89.5,72M90.7,72.4L89.7,73.2M90.2,75.4L93.7,74.6M93.7,74.6L92.6,74.3M93.7,74.6L92.8,75.4M93.2,77.7L96.7,76.9M96.7,76.9L95.6,76.6M96.7,76.9L95.8,77.7M96.3,80L99.8,79.2M99.8,79.2L98.6,78.9M99.8,79.2L98.9,80M99.3,82.4L102.8,81.4M102.8,81.4L101.6,81.2M102.8,81.4L101.9,82.3M102.3,84.8L105.7,83.7M105.7,83.7L104.6,83.5M105.7,83.7L104.9,84.5M105.3,87.2L108.7,86M108.7,86L107.5,85.8M108.7,86L107.9,86.9M108.4,89.6L111.7,88.2M111.7,88.2L110.5,88.1M111.7,88.2L110.9,89.2M111.4,92.1L114.6,90.5M114.6,90.5L113.4,90.4M114.6,90.5L113.9,91.5M114.4,94.6L117.5,92.7M117.5,92.7L116.3,92.8M117.5,92.7L116.9,93.8M117.4,97L120.4,95M120.4,95L119.2,95.1M120.4,95L119.9,96.1M120.4,99.4L123.4,97.4M123.4,97.4L122.2,97.5M123.4,97.4L122.8,98.5M123.4,101.9L126.3,99.8M126.3,99.8L125.1,99.9M126.3,99.8L125.8,100.8M126.3,104.3L129.2,102.1M129.2,102.1L128,102.3M129.2,102.1L128.7,103.2M129.3,106.7L132.1,104.5M132.1,104.5L130.9,104.7M132.1,104.5L131.6,105.6M132.3,109.3L135,106.9M135,106.9L133.8,107.1M135,106.9L134.6,108M135.3,111.8L137.8,109.2M137.8,109.2L136.7,109.6M137.8,109.2L137.5,110.4M138.3,114.3L140.6,111.6M140.6,111.6L139.5,112M140.6,111.6L140.4,112.7M141.3,116.8L143.5,113.9M143.5,113.9L142.4,114.4M143.5,113.9L143.3,115.1M144.3,119.3L146.3,116.3M146.3,116.3L145.2,116.9M146.3,116.3L146.2,117.5M147.2,121.8L149.1,118.8M149.1,118.8L148.1,119.4M149.1,118.8L149.1,120M150.2,124.3L151.9,121.2M151.9,121.2L150.9,121.8M151.9,121.2L151.9,122.4M153.1,126.8L154.8,123.7M154.8,123.7L153.8,124.3M154.8,123.7L154.8,124.9M156,129.3L157.7,126.1M157.7,126.1L156.7,126.8M157.7,126.1L157.7,127.3M158.9,131.8L160.5,128.6M160.5,128.6L159.5,129.3M160.5,128.6L160.5,129.8M161.8,134.3L163.3,131M163.3,131L162.4,131.8M163.3,131L163.4,132.2M164.7,136.8L166.2,133.5M166.2,133.5L165.2,134.2M166.2,133.5L166.3,134.7M167.5,139.3L169.1,136.1M169.1,136.1L168.2,136.7M169.1,136.1L169.2,137.3M170.3,141.7L172.1,138.6M172.1,138.6L171,139.2M172.1,138.6L172,139.8M173.1,144.2L175,141.1M175,141.1L173.9,141.7M175,141.1L174.9,142.3M175.9,146.6L177.9,143.7M177.9,143.7L176.9,144.2M177.9,143.7L177.8,144.9M178.7,149.1L180.8,146.2M180.8,146.2L179.7,146.7M180.8,146.2L180.7,147.4M181.5,151.6L183.8,148.8M183.8,148.8L182.6,149.2M183.8,148.8L183.5,150M184.3,154L186.6,151.3M186.6,151.3L185.5,151.7M186.6,151.3L186.4,152.5M187.1,156.5L189.6,153.9M189.6,153.9L188.4,154.3M189.6,153.9L189.3,155.1M189.9,158.9L192.5,156.5M192.5,156.5L191.3,156.8M192.5,156.5L192.1,157.6M192.6,161.3L195.4,159.1M195.4,159.1L194.2,159.3M195.4,159.1L195,160.2M195.4,163.8L198.3,161.7M198.3,161.7L197.2,161.8M198.3,161.7L197.8,162.8M198.2,166.2L201.2,164.3M201.2,164.3L200,164.4M201.2,164.3L200.7,165.3M201,168.6L204.1,166.9M204.1,166.9L202.9,166.9M204.1,166.9L203.5,167.9M203.8,171.1L207,169.5M207,169.5L205.8,169.4M207,169.5L206.3,170.5M206.6,173.6L209.9,172M209.9,172L208.7,172M209.9,172L209.2,173M209.5,176L212.8,174.6M212.8,174.6L211.6,174.5M212.8,174.6L212,175.6M212.3,178.5L215.6,177.2M215.6,177.2L214.4,177M215.6,177.2L214.9,178.1M215.1,181L218.5,179.7M218.5,179.7L217.3,179.5M218.5,179.7L217.7,180.6M218,183.4L221.4,182.3M221.4,182.3L220.2,182.1M221.4,182.3L220.6,183.2M220.8,185.9L224.2,184.8M224.2,184.8L223.1,184.6M224.2,184.8L223.4,185.7M223.6,188.4L227.1,187.4M227.1,187.4L225.9,187.1M227.1,187.4L226.3,188.2M226.5,190.8L230,189.9M230,189.9L228.8,189.6M230,189.9L229.1,190.7M229.4,193.3L232.9,192.4M232.9,192.4L231.7,192.1M232.9,192.4L232,193.2M232.2,195.7L235.7,195M235.7,195L234.6,194.6M235.7,195L234.8,195.8M235.1,198.2L238.6,197.5M238.6,197.5L237.5,197.1M238.6,197.5L237.7,198.3M237.9,200.6L241.5,200M241.5,200L240.4,199.6M241.5,200L240.6,200.8M240.8,203.1L244.4,202.5M244.4,202.5L243.3,202.1M244.4,202.5L243.4,203.3M58.9,43L62.5,42.6M62.5,42.6L61.4,42.1M62.5,42.6L61.5,43.3M62.1,45.1L65.7,44.7M65.7,44.7L64.6,44.2M65.7,44.7L64.7,45.4M65.2,47.2L68.8,46.8M68.8,46.8L67.7,46.3M68.8,46.8L67.8,47.5M68.4,49.3L72,49M72,49L70.9,48.5M72,49L71,49.6M71.5,51.4L75.1,51.1M75.1,51.1L74,50.6M75.1,51.1L74.1,51.8M74.7,53.6L78.2,53.2M78.2,53.2L77.1,52.8M78.2,53.2L77.2,53.9M77.8,55.8L81.3,55.4M81.3,55.4L80.2,54.9M81.3,55.4L80.4,56.1M80.9,58L84.5,57.6M84.5,57.6L83.3,57.1M84.5,57.6L83.5,58.3M84,60.2L87.5,59.8M87.5,59.8L86.4,59.4M87.5,59.8L86.6,60.5M87,62.4L90.6,62M90.6,62L89.5,61.6M90.6,62L89.6,62.7M90.1,64.7L93.7,64.2M93.7,64.2L92.6,63.8M93.7,64.2L92.7,64.9M93.2,67L96.7,66.4M96.7,66.4L95.6,66M96.7,66.4L95.8,67.2M96.2,69.3L99.8,68.7M99.8,68.7L98.7,68.3M99.8,68.7L98.8,69.4M99.3,71.6L102.8,70.9M102.8,70.9L101.7,70.6M102.8,70.9L101.9,71.7M102.3,74L105.8,73.1M105.8,73.1L104.7,72.8M105.8,73.1L104.9,73.9M105.4,76.3L108.9,75.4M108.9,75.4L107.7,75.1M108.9,75.4L108,76.2M108.4,78.7L111.9,77.7M111.9,77.7L110.7,77.4M111.9,77.7L111,78.5M111.4,81.1L114.8,79.9M114.8,79.9L113.6,79.7M114.8,79.9L114,80.8M114.4,83.5L117.8,82.2M117.8,82.2L116.6,82.1M117.8,82.2L117,83.1M117.5,86L120.7,84.4M120.7,84.4L119.5,84.4M120.7,84.4L120,85.4M120.5,88.4L123.6,86.7M123.6,86.7L122.4,86.7M123.6,86.7L123,87.7M123.5,90.9L126.6,89M126.6,89L125.4,89.1M126.6,89L126,90M126.5,93.3L129.5,91.3M129.5,91.3L128.3,91.4M129.5,91.3L128.9,92.4M129.5,95.7L132.4,93.7M132.4,93.7L131.2,93.8M132.4,93.7L131.9,94.8M132.4,98.2L135.4,96.1M135.4,96.1L134.2,96.2M135.4,96.1L134.8,97.2M135.4,100.6L138.3,98.5M138.3,98.5L137.1,98.6M138.3,98.5L137.8,99.6M138.4,103.1L141.2,100.8M141.2,100.8L140,101M141.2,100.8L140.7,101.9M141.4,105.6L144,103.2M144,103.2L142.8,103.5M144,103.2L143.6,104.3M144.4,108.1L146.8,105.5M146.8,105.5L145.7,105.9M146.8,105.5L146.5,106.7M147.4,110.7L149.6,107.9M149.6,107.9L148.5,108.3M149.6,107.9L149.4,109M150.3,113.1L152.5,110.3M152.5,110.3L151.4,110.8M152.5,110.3L152.3,111.5M153.3,115.7L155.3,112.7M155.3,112.7L154.3,113.2M155.3,112.7L155.2,113.9M156.3,118.2L158.1,115.1M158.1,115.1L157.1,115.7M158.1,115.1L158.1,116.3M159.2,120.6L161,117.5M161,117.5L160,118.2M161,117.5L161,118.7M162.1,123.2L163.8,120M163.8,120L162.8,120.6M163.8,120L163.8,121.2M165.1,125.7L166.6,122.4M166.6,122.4L165.7,123.1M166.6,122.4L166.7,123.6M168,128.2L169.5,124.9M169.5,124.9L168.5,125.6M169.5,124.9L169.6,126.1M170.8,130.6L172.4,127.4M172.4,127.4L171.4,128.1M172.4,127.4L172.5,128.6M173.7,133.1L175.3,129.9M175.3,129.9L174.3,130.6M175.3,129.9L175.4,131.1M176.5,135.6L178.2,132.4M178.2,132.4L177.2,133.1M178.2,132.4L178.2,133.6M179.3,138L181.2,135M181.2,135L180.1,135.5M181.2,135L181.1,136.2M182.1,140.5L184.1,137.5M184.1,137.5L183,138M184.1,137.5L184,138.7M184.9,143L187,140M187,140L185.9,140.5M187,140L186.9,141.2M187.7,145.4L189.9,142.6M189.9,142.6L188.8,143M189.9,142.6L189.7,143.8M190.5,147.9L192.8,145.1M192.8,145.1L191.7,145.6M192.8,145.1L192.6,146.3M193.3,150.3L195.8,147.7M195.8,147.7L194.6,148.1M195.8,147.7L195.5,148.9M196.1,152.8L198.7,150.2M198.7,150.2L197.5,150.6M198.7,150.2L198.3,151.4M198.8,155.2L201.6,152.9M201.6,152.9L200.4,153.1M201.6,152.9L201.2,154M201.6,157.6L204.5,155.5M204.5,155.5L203.3,155.6M204.5,155.5L204,156.6M204.4,160L207.4,158.1M207.4,158.1L206.2,158.2M207.4,158.1L206.9,159.1M207.2,162.5L210.3,160.6M210.3,160.6L209.1,160.7M210.3,160.6L209.7,161.7M210,164.9L213.2,163.2M213.2,163.2L212,163.2M213.2,163.2L212.6,164.2M212.9,167.4L216.1,165.8M216.1,165.8L214.9,165.7M216.1,165.8L215.4,166.8M215.7,169.8L219,168.4M219,168.4L217.8,168.3M219,168.4L218.3,169.3M218.5,172.3L221.9,170.9M221.9,170.9L220.7,170.8M221.9,170.9L221.1,171.9M221.4,174.8L224.7,173.5M224.7,173.5L223.5,173.3M224.7,173.5L224,174.4M224.2,177.2L227.6,176M227.6,176L226.4,175.8M227.6,176L226.8,176.9M227,179.7L230.5,178.6M230.5,178.6L229.3,178.3M230.5,178.6L229.6,179.4M229.9,182.1L233.4,181.1M233.4,181.1L232.2,180.9M233.4,181.1L232.5,182M232.8,184.6L236.2,183.6M236.2,183.6L235.1,183.4M236.2,183.6L235.4,184.5M235.6,187L239.1,186.2M239.1,186.2L237.9,185.9M239.1,186.2L238.2,187M238.5,189.5L242,188.7M242,188.7L240.8,188.4M242,188.7L241.1,189.5M241.3,192L244.9,191.2M244.9,191.2L243.7,190.9M244.9,191.2L244,192M71.3,41.1L74.9,40.8M74.9,40.8L73.8,40.3M74.9,40.8L73.9,41.5M74.5,43.2L78,43M78,43L77,42.5M78,43L77,43.6M77.6,45.4L81.2,45.1M81.2,45.1L80.1,44.6M81.2,45.1L80.2,45.8M80.7,47.5L84.3,47.3M84.3,47.3L83.2,46.8M84.3,47.3L83.3,47.9M83.8,49.7L87.4,49.5M87.4,49.5L86.3,48.9M87.4,49.5L86.4,50.1M87,51.9L90.5,51.6M90.5,51.6L89.4,51.1M90.5,51.6L89.5,52.3M90,54.1L93.6,53.8M93.6,53.8L92.5,53.3M93.6,53.8L92.6,54.5M93.1,56.3L96.7,56M96.7,56L95.6,55.5M96.7,56L95.7,56.7M96.2,58.6L99.8,58.2M99.8,58.2L98.7,57.8M99.8,58.2L98.8,58.9M99.3,60.9L102.9,60.5M102.9,60.5L101.7,60M102.9,60.5L101.9,61.1M102.3,63.2L105.9,62.7M105.9,62.7L104.8,62.2M105.9,62.7L104.9,63.4M105.4,65.5L108.9,64.9M108.9,64.9L107.8,64.5M108.9,64.9L108,65.6M108.4,67.8L112,67.2M112,67.2L110.8,66.8M112,67.2L111,67.9M111.5,70.2L115,69.4M115,69.4L113.8,69.1M115,69.4L114.1,70.2M114.5,72.6L118,71.6M118,71.6L116.8,71.4M118,71.6L117.1,72.5M117.5,74.9L121,73.9M121,73.9L119.8,73.7M121,73.9L120.1,74.8M120.5,77.4L123.9,76.2M123.9,76.2L122.7,76M123.9,76.2L123.1,77.1M123.5,79.8L126.9,78.4M126.9,78.4L125.7,78.3M126.9,78.4L126.1,79.4M126.6,82.3L129.8,80.7M129.8,80.7L128.6,80.6M129.8,80.7L129.1,81.6M129.6,84.8L132.7,82.9M132.7,82.9L131.5,83M132.7,82.9L132.1,84M132.6,87.2L135.6,85.2M135.6,85.2L134.4,85.3M135.6,85.2L135.1,86.3M135.6,89.6L138.6,87.6M138.6,87.6L137.4,87.7M138.6,87.6L138,88.7M138.6,92L141.5,90M141.5,90L140.3,90.1M141.5,90L141,91.1M141.5,94.5L144.4,92.4M144.4,92.4L143.2,92.5M144.4,92.4L143.9,93.5M144.5,96.9L147.4,94.8M147.4,94.8L146.2,94.9M147.4,94.8L146.8,95.9M147.5,99.4L150.2,97.1M150.2,97.1L149,97.3M150.2,97.1L149.8,98.2M150.5,102L153,99.4M153,99.4L151.9,99.8M153,99.4L152.7,100.6M153.5,104.5L155.9,101.8M155.9,101.8L154.7,102.2M155.9,101.8L155.6,103M156.4,107L158.7,104.2M158.7,104.2L157.6,104.6M158.7,104.2L158.5,105.4M159.5,109.5L161.5,106.5M161.5,106.5L160.4,107.1M161.5,106.5L161.4,107.7M162.4,112L164.3,109M164.3,109L163.3,109.6M164.3,109L164.3,110.2M165.3,114.5L167.2,111.4M167.2,111.4L166.2,112M167.2,111.4L167.1,112.6M168.3,117L170,113.8M170,113.8L169,114.5M170,113.8L170,115M171.2,119.5L172.8,116.3M172.8,116.3L171.8,117M172.8,116.3L172.9,117.5M174.1,122L175.7,118.8M175.7,118.8L174.7,119.5M175.7,118.8L175.8,120M177,124.5L178.6,121.3M178.6,121.3L177.6,121.9M178.6,121.3L178.6,122.5M179.8,126.9L181.5,123.7M181.5,123.7L180.5,124.4M181.5,123.7L181.5,124.9M182.6,129.4L184.4,126.3M184.4,126.3L183.4,126.9M184.4,126.3L184.4,127.5M185.4,131.8L187.4,128.8M187.4,128.8L186.3,129.4M187.4,128.8L187.3,130M188.3,134.3L190.2,131.3M190.2,131.3L189.2,131.9M190.2,131.3L190.2,132.5M191.1,136.8L193.2,133.9M193.2,133.9L192.1,134.4M193.2,133.9L193,135M193.9,139.3L196.1,136.4M196.1,136.4L195,136.9M196.1,136.4L195.9,137.6M196.7,141.7L199,138.9M199,138.9L197.9,139.4M199,138.9L198.8,140.1M199.5,144.2L201.9,141.5M201.9,141.5L200.8,141.9M201.9,141.5L201.6,142.7M202.3,146.6L204.8,144M204.8,144L203.7,144.4M204.8,144L204.5,145.2M205.1,149.1L207.8,146.6M207.8,146.6L206.6,146.9M207.8,146.6L207.4,147.8M207.8,151.5L210.7,149.3M210.7,149.3L209.5,149.5M210.7,149.3L210.2,150.4M210.6,153.9L213.6,151.9M213.6,151.9L212.4,152M213.6,151.9L213.1,152.9M213.4,156.3L216.5,154.4M216.5,154.4L215.3,154.5M216.5,154.4L215.9,155.5M216.3,158.8L219.4,157M219.4,157L218.2,157M219.4,157L218.8,158M219.1,161.2L222.3,159.6M222.3,159.6L221.1,159.6M222.3,159.6L221.6,160.6M221.9,163.7L225.2,162.1M225.2,162.1L224,162.1M225.2,162.1L224.5,163.1M224.7,166.1L228,164.7M228,164.7L226.8,164.6M228,164.7L227.3,165.6M227.6,168.6L230.9,167.3M230.9,167.3L229.7,167.1M230.9,167.3L230.2,168.2M230.4,171.1L233.8,169.8M233.8,169.8L232.6,169.6M233.8,169.8L233,170.7M233.3,173.5L236.7,172.3M236.7,172.3L235.5,172.1M236.7,172.3L235.9,173.2M236.1,176L239.5,174.9M239.5,174.9L238.4,174.7M239.5,174.9L238.7,175.8M239,178.4L242.4,177.4M242.4,177.4L241.3,177.2M242.4,177.4L241.6,178.3M241.8,180.9L245.3,179.9M245.3,179.9L244.1,179.7M245.3,179.9L244.4,180.8M86.8,41.4L90.4,41.2M90.4,41.2L89.4,40.7M90.4,41.2L89.4,41.8M90,43.6L93.6,43.4M93.6,43.4L92.5,42.9M93.6,43.4L92.5,44M93.1,45.7L96.7,45.6M96.7,45.6L95.6,45.1M96.7,45.6L95.6,46.2M96.2,47.9L99.8,47.8M99.8,47.8L98.7,47.3M99.8,47.8L98.7,48.4M99.3,50.2L102.8,50M102.8,50L101.8,49.5M102.8,50L101.8,50.6M102.3,52.5L105.9,52.2M105.9,52.2L104.8,51.7M105.9,52.2L104.9,52.8M105.4,54.7L109,54.4M109,54.4L107.9,53.9M109,54.4L108,55.1M108.5,57L112,56.6M112,56.6L110.9,56.2M112,56.6L111,57.3M111.5,59.3L115.1,58.9M115.1,58.9L114,58.4M115.1,58.9L114.1,59.6M114.6,61.7L118.1,61.1M118.1,61.1L117,60.7M118.1,61.1L117.2,61.8M117.6,64L121.1,63.4M121.1,63.4L120,63M121.1,63.4L120.2,64.1M120.6,66.3L124.1,65.6M124.1,65.6L123,65.3M124.1,65.6L123.2,66.4M123.6,68.8L127.1,67.8M127.1,67.8L126,67.6M127.1,67.8L126.2,68.7M126.6,71.2L130.1,70.1M130.1,70.1L128.9,69.9M130.1,70.1L129.3,71M129.7,73.6L133.1,72.4M133.1,72.4L131.9,72.2M133.1,72.4L132.3,73.3M132.7,76L136,74.6M136,74.6L134.8,74.5M136,74.6L135.3,75.6M135.7,78.6L138.9,76.8M138.9,76.8L137.7,76.9M138.9,76.8L138.2,77.9M138.8,81.1L141.8,79.1M141.8,79.1L140.6,79.2M141.8,79.1L141.2,80.2M141.7,83.5L144.7,81.5M144.7,81.5L143.6,81.6M144.7,81.5L144.2,82.6M144.7,85.9L147.7,83.9M147.7,83.9L146.5,84M147.7,83.9L147.1,84.9M147.6,88.3L150.6,86.3M150.6,86.3L149.4,86.4M150.6,86.3L150.1,87.3M150.6,90.7L153.5,88.7M153.5,88.7L152.3,88.8M153.5,88.7L153,89.7M153.6,93.2L156.4,91M156.4,91L155.2,91.2M156.4,91L155.9,92.1M156.6,95.8L159.2,93.3M159.2,93.3L158,93.6M159.2,93.3L158.8,94.5M159.6,98.3L162.1,95.7M162.1,95.7L160.9,96.1M162.1,95.7L161.8,96.9M162.5,100.8L164.9,98.1M164.9,98.1L163.8,98.5M164.9,98.1L164.7,99.3M165.6,103.4L167.7,100.4M167.7,100.4L166.6,101M167.7,100.4L167.5,101.6M168.5,105.8L170.5,102.9M170.5,102.9L169.5,103.4M170.5,102.9L170.4,104.1M171.5,108.4L173.3,105.3M173.3,105.3L172.3,105.9M173.3,105.3L173.3,106.5M174.5,110.9L176.2,107.7M176.2,107.7L175.2,108.4M176.2,107.7L176.2,108.9M177.4,113.4L179,110.2M179,110.2L178,110.8M179,110.2L179.1,111.4M180.3,115.8L181.9,112.6M181.9,112.6L180.9,113.3M181.9,112.6L181.9,113.8M183.1,118.3L184.8,115.1M184.8,115.1L183.8,115.8M184.8,115.1L184.8,116.3M186,120.8L187.7,117.6M187.7,117.6L186.7,118.3M187.7,117.6L187.7,118.8M188.8,123.2L190.6,120.1M190.6,120.1L189.6,120.8M190.6,120.1L190.6,121.3M191.6,125.7L193.5,122.7M193.5,122.7L192.5,123.2M193.5,122.7L193.5,123.9M194.5,128.2L196.4,125.2M196.4,125.2L195.3,125.7M196.4,125.2L196.3,126.4M197.3,130.6L199.3,127.7M199.3,127.7L198.3,128.2M199.3,127.7L199.2,128.9M200.1,133.1L202.2,130.2M202.2,130.2L201.1,130.7M202.2,130.2L202.1,131.4M202.9,135.6L205.1,132.8M205.1,132.8L204,133.2M205.1,132.8L204.9,133.9M205.7,138L208.1,135.3M208.1,135.3L206.9,135.7M208.1,135.3L207.8,136.5M208.5,140.5L210.9,137.9M210.9,137.9L209.8,138.3M210.9,137.9L210.7,139M211.3,142.9L213.9,140.5M213.9,140.5L212.7,140.8M213.9,140.5L213.5,141.6M214,145.4L216.8,143.1M216.8,143.1L215.6,143.3M216.8,143.1L216.4,144.2M216.8,147.8L219.8,145.7M219.8,145.7L218.6,145.8M219.8,145.7L219.2,146.8M219.6,150.2L222.7,148.3M222.7,148.3L221.5,148.4M222.7,148.3L222.1,149.3M222.4,152.7L225.5,150.8M225.5,150.8L224.3,150.9M225.5,150.8L224.9,151.9M225.3,155.1L228.4,153.4M228.4,153.4L227.2,153.4M228.4,153.4L227.8,154.4M228.1,157.6L231.3,156M231.3,156L230.1,155.9M231.3,156L230.6,157M230.9,160L234.2,158.5M234.2,158.5L233,158.4M234.2,158.5L233.5,159.5M233.8,162.5L237.1,161.1M237.1,161.1L235.9,161M237.1,161.1L236.3,162M236.6,164.9L239.9,163.6M239.9,163.6L238.8,163.5M239.9,163.6L239.2,164.6M239.4,167.4L242.8,166.2M242.8,166.2L241.6,166M242.8,166.2L242,167.1M242.3,169.9L245.7,168.7M245.7,168.7L244.5,168.5M245.7,168.7L244.9,169.6M102.3,41.8L105.9,41.6M105.9,41.6L104.9,41.1M105.9,41.6L104.9,42.3M105.4,44L109,43.9M109,43.9L107.9,43.3M109,43.9L108,44.5M108.5,46.2L112.1,46.1M112.1,46.1L111,45.6M112.1,46.1L111.1,46.7M111.6,48.5L115.2,48.3M115.2,48.3L114.1,47.8M115.2,48.3L114.1,48.9M114.6,50.8L118.2,50.5M118.2,50.5L117.1,50M118.2,50.5L117.2,51.2M117.7,53.1L121.3,52.8M121.3,52.8L120.2,52.3M121.3,52.8L120.3,53.4M120.7,55.4L124.3,55M124.3,55L123.2,54.6M124.3,55L123.3,55.7M123.7,57.8L127.3,57.3M127.3,57.3L126.2,56.9M127.3,57.3L126.3,58M126.8,60.2L130.3,59.5M130.3,59.5L129.2,59.1M130.3,59.5L129.4,60.3M129.8,62.5L133.3,61.8M133.3,61.8L132.2,61.4M133.3,61.8L132.4,62.6M132.8,64.9L136.3,64M136.3,64L135.1,63.7M136.3,64L135.4,64.9M135.8,67.4L139.3,66.3M139.3,66.3L138.1,66.1M139.3,66.3L138.4,67.2M138.8,69.8L142.2,68.6M142.2,68.6L141,68.4M142.2,68.6L141.4,69.5M141.8,72.3L145.1,70.8M145.1,70.8L143.9,70.7M145.1,70.8L144.4,71.8M144.9,74.9L148,73M148,73L146.8,73.1M148,73L147.4,74.1M147.9,77.3L150.9,75.4M150.9,75.4L149.7,75.4M150.9,75.4L150.3,76.4M150.8,79.7L153.9,77.8M153.9,77.8L152.7,77.8M153.9,77.8L153.3,78.8M153.8,82.2L156.8,80.1M156.8,80.1L155.6,80.2M156.8,80.1L156.2,81.2M156.8,84.6L159.7,82.5M159.7,82.5L158.5,82.7M159.7,82.5L159.2,83.6M159.7,87.1L162.6,84.9M162.6,84.9L161.4,85.1M162.6,84.9L162.1,86M162.7,89.6L165.4,87.2M165.4,87.2L164.2,87.5M165.4,87.2L165,88.3M165.7,92.1L168.3,89.6M168.3,89.6L167.1,89.9M168.3,89.6L167.9,90.7M168.7,94.7L171.1,91.9M171.1,91.9L169.9,92.4M171.1,91.9L170.8,93.1M171.7,97.2L173.9,94.3M173.9,94.3L172.8,94.8M173.9,94.3L173.7,95.5M174.7,99.7L176.7,96.7M176.7,96.7L175.6,97.3M176.7,96.7L176.6,97.9M177.7,102.2L179.5,99.1M179.5,99.1L178.5,99.7M179.5,99.1L179.5,100.3M180.6,104.7L182.4,101.6M182.4,101.6L181.3,102.2M182.4,101.6L182.3,102.8M183.5,107.2L185.2,104M185.2,104L184.2,104.7M185.2,104L185.2,105.2M186.4,109.7L188.1,106.5M188.1,106.5L187.1,107.2M188.1,106.5L188.1,107.7M189.3,112.2L190.9,109M190.9,109L189.9,109.7M190.9,109L191,110.2M192.1,114.6L193.9,111.5M193.9,111.5L192.8,112.1M193.9,111.5L193.9,112.7M194.9,117.1L196.8,114M196.8,114L195.7,114.6M196.8,114L196.7,115.2M197.8,119.6L199.7,116.5M199.7,116.5L198.6,117.1M199.7,116.5L199.6,117.7M200.6,122.1L202.6,119M202.6,119L201.5,119.6M202.6,119L202.5,120.2M203.4,124.5L205.5,121.6M205.5,121.6L204.4,122.1M205.5,121.6L205.3,122.8M206.3,127L208.3,124.1M208.3,124.1L207.3,124.6M208.3,124.1L208.2,125.3M209.1,129.5L211.2,126.6M211.2,126.6L210.1,127.1M211.2,126.6L211.1,127.8M211.9,131.9L214.2,129.2M214.2,129.2L213.1,129.6M214.2,129.2L213.9,130.4M214.7,134.4L217,131.7M217,131.7L215.9,132.1M217,131.7L216.8,132.9M217.4,136.8L220,134.3M220,134.3L218.9,134.7M220,134.3L219.7,135.5M220.2,139.2L223,136.9M223,136.9L221.8,137.2M223,136.9L222.5,138.1M223,141.7L225.9,139.5M225.9,139.5L224.7,139.7M225.9,139.5L225.4,140.6M225.8,144.1L228.8,142.1M228.8,142.1L227.6,142.2M228.8,142.1L228.2,143.2M228.6,146.6L231.7,144.7M231.7,144.7L230.5,144.7M231.7,144.7L231.1,145.7M231.4,149L234.5,147.3M234.5,147.3L233.3,147.3M234.5,147.3L233.9,148.3M234.2,151.5L237.4,149.8M237.4,149.8L236.2,149.8M237.4,149.8L236.8,150.8M237.1,153.9L240.3,152.4M240.3,152.4L239.1,152.3M240.3,152.4L239.6,153.4M239.9,156.4L243.2,154.9M243.2,154.9L242,154.8M243.2,154.9L242.5,155.9M117.8,42.3L121.4,42.1M121.4,42.1L120.3,41.6M121.4,42.1L120.3,42.8M120.8,44.5L124.4,44.4M124.4,44.4L123.3,43.9M124.4,44.4L123.4,45M123.9,46.8L127.5,46.7M127.5,46.7L126.4,46.1M127.5,46.7L126.4,47.3M126.9,49.2L130.5,48.9M130.5,48.9L129.4,48.4M130.5,48.9L129.5,49.6M129.9,51.5L133.5,51.2M133.5,51.2L132.4,50.7M133.5,51.2L132.5,51.8M133,53.8L136.5,53.5M136.5,53.5L135.4,53M136.5,53.5L135.5,54.1M136,56.2L139.5,55.7M139.5,55.7L138.4,55.3M139.5,55.7L138.6,56.4M139,58.7L142.5,57.9M142.5,57.9L141.4,57.6M142.5,57.9L141.6,58.7M142,61.1L145.5,60.2M145.5,60.2L144.3,59.9M145.5,60.2L144.6,61M145,63.6L148.4,62.5M148.4,62.5L147.2,62.2M148.4,62.5L147.6,63.3M148,66L151.4,64.7M151.4,64.7L150.2,64.6M151.4,64.7L150.6,65.7M151,68.6L154.2,67M154.2,67L153,66.9M154.2,67L153.6,67.9M154.1,71.1L157.1,69.2M157.1,69.2L155.9,69.3M157.1,69.2L156.5,70.3M157,73.5L160.1,71.6M160.1,71.6L158.9,71.7M160.1,71.6L159.5,72.6M160,76L163,74M163,74L161.8,74.1M163,74L162.4,75M162.9,78.4L165.9,76.4M165.9,76.4L164.7,76.5M165.9,76.4L165.3,77.4M165.9,80.9L168.8,78.8M168.8,78.8L167.6,78.9M168.8,78.8L168.3,79.8M168.9,83.4L171.6,81.1M171.6,81.1L170.4,81.3M171.6,81.1L171.2,82.2M171.9,85.9L174.5,83.5M174.5,83.5L173.3,83.8M174.5,83.5L174.1,84.6M174.9,88.5L177.2,85.8M177.2,85.8L176.1,86.2M177.2,85.8L177,87M177.9,91L180,88.2M180,88.2L178.9,88.7M180,88.2L179.9,89.3M180.9,93.6L182.8,90.6M182.8,90.6L181.8,91.1M182.8,90.6L182.7,91.7M183.8,96.1L185.7,93M185.7,93L184.6,93.6M185.7,93L185.6,94.2M186.7,98.6L188.5,95.4M188.5,95.4L187.5,96.1M188.5,95.4L188.5,96.6M189.7,101.1L191.3,97.9M191.3,97.9L190.3,98.6M191.3,97.9L191.4,99.1M192.6,103.6L194.2,100.4M194.2,100.4L193.2,101M194.2,100.4L194.2,101.6M195.4,106L197.1,102.9M197.1,102.9L196.1,103.5M197.1,102.9L197.1,104.1M198.2,108.5L200,105.4M200,105.4L199,106M200,105.4L200,106.6M201.1,111L202.9,107.9M202.9,107.9L201.9,108.5M202.9,107.9L202.9,109.1M204,113.5L205.8,110.4M205.8,110.4L204.8,111M205.8,110.4L205.7,111.6M206.8,115.9L208.7,112.9M208.7,112.9L207.6,113.5M208.7,112.9L208.6,114.1M209.6,118.4L211.6,115.4M211.6,115.4L210.5,116M211.6,115.4L211.5,116.6M212.5,120.9L214.4,117.9M214.4,117.9L213.4,118.5M214.4,117.9L214.3,119.1M215.2,123.4L217.4,120.5M217.4,120.5L216.3,121M217.4,120.5L217.2,121.7M218,125.9L220.3,123M220.3,123L219.2,123.5M220.3,123L220.1,124.2M220.9,128.4L223.1,125.6M223.1,125.6L222,126M223.1,125.6L222.9,126.8M223.6,130.8L226.1,128.2M226.1,128.2L225,128.6M226.1,128.2L225.8,129.4M226.3,133.2L229.1,130.8M229.1,130.8L227.9,131.1M229.1,130.8L228.6,131.9M229.1,135.6L232,133.4M232,133.4L230.8,133.6M232,133.4L231.5,134.5M231.9,138.1L234.9,136M234.9,136L233.7,136.1M234.9,136L234.3,137.1M234.7,140.5L237.7,138.6M237.7,138.6L236.6,138.7M237.7,138.6L237.2,139.6M237.6,143L240.6,141.1M240.6,141.1L239.4,141.2M240.6,141.1L240,142.2M240.4,145.5L243.5,143.7M243.5,143.7L242.3,143.7M243.5,143.7L242.9,144.7M133.1,42.9L136.7,42.7M136.7,42.7L135.7,42.2M136.7,42.7L135.7,43.3M136.2,45.2L139.8,45M139.8,45L138.7,44.5M139.8,45L138.7,45.6M139.2,47.6L142.8,47.3M142.8,47.3L141.7,46.8M142.8,47.3L141.8,47.9M142.2,49.9L145.8,49.6M145.8,49.6L144.7,49.1M145.8,49.6L144.8,50.2M145.2,52.3L148.7,51.9M148.7,51.9L147.6,51.4M148.7,51.9L147.8,52.6M148.2,54.8L151.7,54.1M151.7,54.1L150.6,53.7M151.7,54.1L150.8,54.9M151.2,57.2L154.7,56.4M154.7,56.4L153.5,56.1M154.7,56.4L153.8,57.2M154.2,59.7L157.6,58.6M157.6,58.6L156.4,58.4M157.6,58.6L156.8,59.5M157.2,62.3L160.5,60.9M160.5,60.9L159.3,60.8M160.5,60.9L159.8,61.8M160.2,64.8L163.4,63.1M163.4,63.1L162.2,63.1M163.4,63.1L162.7,64.1M163.2,67.3L166.3,65.4M166.3,65.4L165.1,65.5M166.3,65.4L165.7,66.5M166.1,69.7L169.2,67.8M169.2,67.8L168,67.9M169.2,67.8L168.6,68.9M169.1,72.3L172.1,70.2M172.1,70.2L170.9,70.3M172.1,70.2L171.5,71.2M172.1,74.7L175,72.6M175,72.6L173.8,72.7M175,72.6L174.5,73.7M175,77.2L177.8,74.9M177.8,74.9L176.6,75.2M177.8,74.9L177.4,76M178,79.8L180.7,77.3M180.7,77.3L179.5,77.6M180.7,77.3L180.3,78.4M181.1,82.4L183.4,79.6M183.4,79.6L182.3,80M183.4,79.6L183.2,80.8M184.1,84.9L186.2,82M186.2,82L185.1,82.5M186.2,82L186,83.2M187,87.4L189,84.4M189,84.4L188,85M189,84.4L188.9,85.6M190,89.9L191.9,86.8M191.9,86.8L190.8,87.4M191.9,86.8L191.8,88M192.9,92.4L194.6,89.3M194.6,89.3L193.6,89.9M194.6,89.3L194.7,90.5M195.9,94.9L197.5,91.7M197.5,91.7L196.5,92.4M197.5,91.7L197.5,92.9M198.7,97.4L200.4,94.2M200.4,94.2L199.4,94.9M200.4,94.2L200.4,95.4M201.5,99.9L203.3,96.7M203.3,96.7L202.3,97.4M203.3,96.7L203.3,97.9M204.4,102.4L206.2,99.2M206.2,99.2L205.1,99.9M206.2,99.2L206.2,100.4M207.3,104.9L209,101.7M209,101.7L208,102.4M209,101.7L209,102.9M210.1,107.4L211.9,104.3M211.9,104.3L210.9,104.9M211.9,104.3L211.9,105.5M212.9,109.8L214.8,106.8M214.8,106.8L213.8,107.4M214.8,106.8L214.7,108M215.8,112.4L217.7,109.3M217.7,109.3L216.6,109.9M217.7,109.3L217.6,110.5M218.6,114.8L220.5,111.8M220.5,111.8L219.5,112.4M220.5,111.8L220.5,113M221.4,117.3L223.5,114.4M223.5,114.4L222.4,114.9M223.5,114.4L223.3,115.6M224.2,119.8L226.3,116.9M226.3,116.9L225.2,117.4M226.3,116.9L226.2,118.1M227,122.3L229.2,119.5M229.2,119.5L228.1,119.9M229.2,119.5L229,120.7M229.7,124.7L232.2,122.1M232.2,122.1L231,122.5M232.2,122.1L231.9,123.3M232.4,127.1L235.1,124.7M235.1,124.7L234,125M235.1,124.7L234.7,125.9M235.2,129.6L238,127.3M238,127.3L236.8,127.5M238,127.3L237.6,128.4M238,132.1L240.9,129.9M240.9,129.9L239.7,130.1M240.9,129.9L240.4,131M240.8,134.5L243.8,132.5M243.8,132.5L242.6,132.6M243.8,132.5L243.3,133.6M145.4,41.3L149,41.1M149,41.1L147.9,40.5M149,41.1L148,41.7M148.4,43.6L152,43.4M152,43.4L150.9,42.9M152,43.4L151,44M151.4,46L155,45.7M155,45.7L153.9,45.2M155,45.7L154,46.4M154.4,48.4L158,48M158,48L156.9,47.5M158,48L157,48.7M157.4,50.9L160.9,50.3M160.9,50.3L159.8,49.9M160.9,50.3L160,51M160.4,53.4L163.9,52.5M163.9,52.5L162.7,52.2M163.9,52.5L163,53.3M163.4,55.9L166.8,54.8M166.8,54.8L165.6,54.6M166.8,54.8L166,55.7M166.4,58.5L169.7,57M169.7,57L168.5,56.9M169.7,57L168.9,58M169.4,61.1L172.5,59.3M172.5,59.3L171.3,59.3M172.5,59.3L171.9,60.3M172.4,63.5L175.4,61.6M175.4,61.6L174.2,61.7M175.4,61.6L174.8,62.7M175.3,66L178.3,64M178.3,64L177.1,64.1M178.3,64L177.7,65.1M178.3,68.5L181.2,66.4M181.2,66.4L180,66.5M181.2,66.4L180.7,67.5M181.2,71L184,68.7M184,68.7L182.8,69M184,68.7L183.6,69.9M184.2,73.6L186.8,71.1M186.8,71.1L185.7,71.4M186.8,71.1L186.5,72.3M187.3,76.2L189.6,73.4M189.6,73.4L188.5,73.9M189.6,73.4L189.3,74.6M190.3,78.7L192.4,75.8M192.4,75.8L191.3,76.3M192.4,75.8L192.2,77M193.2,81.3L195.2,78.2M195.2,78.2L194.1,78.8M195.2,78.2L195.1,79.4M196.2,83.8L198,80.7M198,80.7L197,81.3M198,80.7L198,81.9M199.1,86.3L200.8,83.1M200.8,83.1L199.8,83.8M200.8,83.1L200.8,84.3M202,88.8L203.7,85.6M203.7,85.6L202.7,86.3M203.7,85.6L203.7,86.8M204.8,91.3L206.5,88.1M206.5,88.1L205.5,88.8M206.5,88.1L206.6,89.3M207.7,93.8L209.4,90.6M209.4,90.6L208.4,91.3M209.4,90.6L209.4,91.8M210.6,96.3L212.3,93.1M212.3,93.1L211.3,93.8M212.3,93.1L212.3,94.3M213.4,98.8L215.2,95.6M215.2,95.6L214.1,96.3M215.2,95.6L215.1,96.8M216.2,101.3L218,98.2M218,98.2L217,98.8M218,98.2L218,99.4M219.1,103.8L220.9,100.7M220.9,100.7L219.9,101.3M220.9,100.7L220.9,101.9M221.9,106.3L223.7,103.2M223.7,103.2L222.7,103.8M223.7,103.2L223.7,104.4M224.7,108.8L226.6,105.7M226.6,105.7L225.6,106.3M226.6,105.7L226.6,106.9M227.5,111.3L229.5,108.3M229.5,108.3L228.5,108.8M229.5,108.3L229.4,109.5M230.3,113.8L232.4,110.8M232.4,110.8L231.3,111.4M232.4,110.8L232.3,112M233.1,116.3L235.3,113.4M235.3,113.4L234.2,113.9M235.3,113.4L235.1,114.6M235.8,118.7L238.3,116M238.3,116L237.1,116.4M238.3,116L238,117.2M238.5,121.1L241.2,118.7M241.2,118.7L240,119M241.2,118.7L240.8,119.8M241.4,123.6L244,121.2M244,121.2L242.9,121.5M244,121.2L243.6,122.3M160.7,42.1L164.3,41.8M164.3,41.8L163.1,41.3M164.3,41.8L163.3,42.4M163.6,44.5L167.2,44.1M167.2,44.1L166.1,43.7M167.2,44.1L166.2,44.8M166.6,47L170.2,46.4M170.2,46.4L169,46M170.2,46.4L169.2,47.1M169.6,49.5L173.1,48.7M173.1,48.7L171.9,48.4M173.1,48.7L172.2,49.5M172.5,52L176,51M176,51L174.8,50.7M176,51L175.1,51.8M175.6,54.7L178.8,53.2M178.8,53.2L177.6,53.1M178.8,53.2L178.1,54.1M178.6,57.3L181.7,55.5M181.7,55.5L180.5,55.5M181.7,55.5L181,56.5M181.5,59.8L184.5,57.8M184.5,57.8L183.4,57.9M184.5,57.8L184,58.9M184.5,62.3L187.4,60.2M187.4,60.2L186.2,60.3M187.4,60.2L186.9,61.2M187.5,64.9L190.2,62.5M190.2,62.5L189,62.8M190.2,62.5L189.8,63.6M190.5,67.4L193,64.9M193,64.9L191.9,65.2M193,64.9L192.7,66M193.5,70L195.8,67.2M195.8,67.2L194.6,67.7M195.8,67.2L195.5,68.4M196.5,72.6L198.5,69.6M198.5,69.6L197.4,70.2M198.5,69.6L198.4,70.8M199.4,75.1L201.3,72.1M201.3,72.1L200.3,72.7M201.3,72.1L201.3,73.3M202.4,77.7L204.1,74.5M204.1,74.5L203.1,75.2M204.1,74.5L204.1,75.7M205.3,80.2L207,77M207,77L206,77.6M207,77L207,78.2M208.1,82.7L209.8,79.5M209.8,79.5L208.8,80.1M209.8,79.5L209.8,80.7M211,85.2L212.7,82M212.7,82L211.7,82.6M212.7,82L212.7,83.2M213.8,87.7L215.5,84.5M215.5,84.5L214.5,85.1M215.5,84.5L215.6,85.7M216.7,90.2L218.4,87M218.4,87L217.4,87.7M218.4,87L218.4,88.2M219.5,92.7L221.3,89.5M221.3,89.5L220.3,90.2M221.3,89.5L221.3,90.7M222.4,95.2L224.1,92M224.1,92L223.1,92.7M224.1,92L224.1,93.2M225.2,97.7L227,94.6M227,94.6L225.9,95.2M227,94.6L227,95.8M228,100.2L229.8,97.1M229.8,97.1L228.8,97.7M229.8,97.1L229.8,98.3M230.8,102.7L232.7,99.7M232.7,99.7L231.7,100.3M232.7,99.7L232.7,100.9M233.6,105.2L235.6,102.2M235.6,102.2L234.5,102.8M235.6,102.2L235.5,103.4M236.4,107.8L238.4,104.8M238.4,104.8L237.4,105.3M238.4,104.8L238.3,106M239.2,110.3L241.3,107.3M241.3,107.3L240.2,107.9M241.3,107.3L241.2,108.5M242,112.7L244.2,109.9M244.2,109.9L243.1,110.4M244.2,109.9L244,111.1M175.8,43.1L179.4,42.5M179.4,42.5L178.2,42.1M179.4,42.5L178.4,43.3M178.8,45.7L182.3,44.8M182.3,44.8L181.1,44.5M182.3,44.8L181.4,45.6M181.7,48.2L185.2,47.1M185.2,47.1L184,46.9M185.2,47.1L184.3,48M184.7,50.9L188,49.3M188,49.3L186.8,49.3M188,49.3L187.3,50.3M187.7,53.5L190.8,51.6M190.8,51.6L189.6,51.7M190.8,51.6L190.2,52.7M190.7,56.1L193.6,53.9M193.6,53.9L192.4,54.1M193.6,53.9L193.1,55M193.7,58.7L196.4,56.3M196.4,56.3L195.2,56.6M196.4,56.3L196,57.4M196.7,61.3L199.2,58.7M199.2,58.7L198,59M199.2,58.7L198.9,59.8M199.7,63.9L201.9,61M201.9,61L200.8,61.5M201.9,61L201.7,62.2M202.7,66.4L204.7,63.4M204.7,63.4L203.6,64M204.7,63.4L204.6,64.6M205.7,69L207.5,65.9M207.5,65.9L206.4,66.5M207.5,65.9L207.4,67.1M208.5,71.5L210.3,68.4M210.3,68.4L209.3,69M210.3,68.4L210.3,69.6M211.4,74L213.1,70.9M213.1,70.9L212.1,71.5M213.1,70.9L213.1,72.1M214.3,76.5L216,73.3M216,73.3L215,74M216,73.3L216,74.5M217.1,79L218.8,75.9M218.8,75.9L217.8,76.5M218.8,75.9L218.8,77.1M220,81.6L221.7,78.4M221.7,78.4L220.7,79M221.7,78.4L221.7,79.6M222.8,84.1L224.5,80.9M224.5,80.9L223.5,81.6M224.5,80.9L224.5,82.1M225.7,86.6L227.3,83.4M227.3,83.4L226.4,84.1M227.3,83.4L227.4,84.6M228.5,89.1L230.2,86M230.2,86L229.2,86.6M230.2,86L230.2,87.2M231.3,91.7L233,88.5M233,88.5L232,89.1M233,88.5L233,89.7M234.1,94.2L235.9,91.1M235.9,91.1L234.9,91.7M235.9,91.1L235.9,92.3M236.9,96.7L238.8,93.6M238.8,93.6L237.7,94.2M238.8,93.6L238.7,94.8M239.7,99.2L241.6,96.2M241.6,96.2L240.6,96.8M241.6,96.2L241.5,97.4M242.5,101.8L244.4,98.7M244.4,98.7L243.4,99.3M244.4,98.7L244.4,99.9M188,41.9L191.4,40.9M191.4,40.9L190.3,40.7M191.4,40.9L190.6,41.8M190.9,44.4L194.3,43.3M194.3,43.3L193.1,43.1M194.3,43.3L193.5,44.2M193.9,47.2L197.1,45.5M197.1,45.5L195.9,45.5M197.1,45.5L196.4,46.5M196.9,49.8L199.9,47.8M199.9,47.8L198.7,47.9M199.9,47.8L199.3,48.9M200,52.5L202.6,50M202.6,50L201.4,50.3M202.6,50L202.2,51.2M203,55.1L205.3,52.4M205.3,52.4L204.2,52.8M205.3,52.4L205.1,53.6M206,57.8L208,54.8M208,54.8L207,55.3M208,54.8L207.9,56M209,60.3L210.8,57.2M210.8,57.2L209.8,57.8M210.8,57.2L210.8,58.4M211.8,62.8L213.7,59.7M213.7,59.7L212.6,60.3M213.7,59.7L213.6,60.9M214.7,65.3L216.5,62.2M216.5,62.2L215.5,62.8M216.5,62.2L216.5,63.4M217.6,67.9L219.3,64.7M219.3,64.7L218.3,65.4M219.3,64.7L219.3,65.9M220.5,70.4L222.1,67.2M222.1,67.2L221.1,67.9M222.1,67.2L222.1,68.4M223.3,72.9L225,69.7M225,69.7L224,70.4M225,69.7L225,70.9M226.1,75.5L227.8,72.3M227.8,72.3L226.8,72.9M227.8,72.3L227.8,73.5M229,78L230.6,74.8M230.6,74.8L229.6,75.5M230.6,74.8L230.6,76M231.8,80.5L233.4,77.3M233.4,77.3L232.4,78M233.4,77.3L233.5,78.5M234.6,83.1L236.2,79.9M236.2,79.9L235.3,80.6M236.2,79.9L236.3,81.1M237.4,85.6L239.1,82.4M239.1,82.4L238.1,83.1M239.1,82.4L239.1,83.6M240.2,88.1L242,85M242,85L240.9,85.6M242,85L242,86.2M243,90.7L244.8,87.6M244.8,87.6L243.8,88.2M244.8,87.6L244.8,88.8M203.1,43.4L206.2,41.7M206.2,41.7L205,41.7M206.2,41.7L205.6,42.7M206.3,46.3L208.8,43.8M208.8,43.8L207.6,44.1M208.8,43.8L208.5,44.9M209.3,49L211.5,46.1M211.5,46.1L210.4,46.6M211.5,46.1L211.3,47.3M212.3,51.6L214.2,48.5M214.2,48.5L213.1,49.1M214.2,48.5L214.1,49.7M215.2,54.1L217,51M217,51L216,51.6M217,51L217,52.2M218,56.6L219.9,53.6M219.9,53.6L218.8,54.2M219.9,53.6L219.8,54.8M220.9,59.2L222.7,56.1M222.7,56.1L221.6,56.7M222.7,56.1L222.6,57.3M223.8,61.8L225.4,58.5M225.4,58.5L224.4,59.2M225.4,58.5L225.5,59.7M226.6,64.3L228.2,61.1M228.2,61.1L227.3,61.8M228.2,61.1L228.3,62.3M229.5,66.8L231.1,63.6M231.1,63.6L230.1,64.3M231.1,63.6L231.1,64.8M232.3,69.4L233.9,66.1M233.9,66.1L232.9,66.8M233.9,66.1L233.9,67.3M235.1,71.9L236.7,68.7M236.7,68.7L235.7,69.4M236.7,68.7L236.7,69.9M238,74.5L239.5,71.2M239.5,71.2L238.5,71.9M239.5,71.2L239.6,72.4M240.8,77L242.3,73.8M242.3,73.8L241.3,74.5M242.3,73.8L242.4,75M215.8,42.9L217.5,39.7M217.5,39.7L216.5,40.4M217.5,39.7L217.5,40.9M218.5,45.4L220.4,42.3M220.4,42.3L219.3,42.9M220.4,42.3L220.3,43.5M221.3,47.9L223.3,44.9M223.3,44.9L222.2,45.4M223.3,44.9L223.2,46.1M224.2,50.4L226.1,47.4M226.1,47.4L225,48M226.1,47.4L226,48.6M227.1,53.1L228.8,49.9M228.8,49.9L227.8,50.5M228.8,49.9L228.8,51.1M230,55.6L231.6,52.4M231.6,52.4L230.6,53.1M231.6,52.4L231.6,53.6M232.8,58.2L234.4,54.9M234.4,54.9L233.4,55.6M234.4,54.9L234.4,56.1M235.7,60.8L237.1,57.5M237.1,57.5L236.2,58.2M237.1,57.5L237.2,58.7M238.5,63.3L239.9,60M239.9,60L239,60.8M239.9,60L240,61.2M241.3,65.9L242.7,62.6M242.7,62.6L241.8,63.3M242.7,62.6L242.8,63.8M230.4,44.3L232.2,41.2M232.2,41.2L231.2,41.8M232.2,41.2L232.2,42.4M233.3,46.9L234.9,43.7M234.9,43.7L233.9,44.4M234.9,43.7L235,44.9M236.1,49.5L237.7,46.3M237.7,46.3L236.7,46.9M237.7,46.3L237.8,47.5M239,52.1L240.5,48.8M240.5,48.8L239.5,49.5M240.5,48.8L240.6,50M241.8,54.7L243.2,51.3M243.2,51.3L242.3,52.1M243.2,51.3L243.3,52.5M242.3,43.3L243.9,40.1M243.9,40.1L242.9,40.8M243.9,40.1L243.9,41.3" fill="none" stroke="#4f93d2" stroke-width="1.25" stroke-opacity="0.9" stroke-linecap="round"/>
<path d="M57.5,163.2L70,149L84.4,132.6L96,121" stroke="#fff" stroke-width="7" fill="none" stroke-linecap="round"/>
<g fill="none" stroke="#ff0000" stroke-width="2.3" stroke-linejoin="round" stroke-linecap="round">
<polyline points="44.3,50.4 46.8,50 49.3,49.6 51.9,49.2 54.4,48.8 56.9,48.5 59.5,48.2 62,47.9 64.6,47.6 67.1,47.3 69.7,47.1 72.2,46.9 74.8,46.7 77.4,46.5 79.9,46.3 82.5,46.1 85.1,46 87.7,45.8 90.2,45.7 92.8,45.6 95.4,45.4 98,45.3 100.6,45.2 103.2,45.1 105.8,45 108.3,45 110.9,44.9 113.5,44.8 116.1,44.7 118.7,44.6 121.3,44.5 123.9,44.4 126.5,44.3 129.1,44.2 131.7,44.1 134.2,44 136.8,43.9 139.4,43.8 142,43.6 144.6,43.5 147.2,43.3 149.8,43.2 152.3,43 154.9,42.8 157.5,42.6 160.1,42.4 162.6,42.1 165.2,41.9 167.8,41.6 170.3,41.3 172.9,41 175.4,40.7 178,40.3"/>
<polyline points="44.3,63.5 46.8,63 49.3,62.5 51.8,62.1 54.3,61.7 56.8,61.3 59.4,60.9 61.9,60.5 64.4,60.1 66.9,59.8 69.4,59.4 72,59.1 74.5,58.8 77,58.5 79.6,58.2 82.1,57.9 84.6,57.7 87.2,57.4 89.7,57.1 92.2,56.9 94.8,56.6 97.3,56.4 99.8,56.2 102.4,55.9 104.9,55.7 107.5,55.5 110,55.3 112.5,55 115.1,54.8 117.6,54.6 120.2,54.4 122.7,54.1 125.2,53.9 127.8,53.7 130.3,53.4 132.8,53.2 135.4,52.9 137.9,52.6 140.4,52.4 143,52.1 145.5,51.8 148,51.5 150.6,51.2 153.1,50.8 155.6,50.5 158.1,50.1 160.6,49.7 163.1,49.4 165.7,48.9 168.2,48.5 170.7,48.1 173.2,47.6 175.7,47.1 178.2,46.6 180.7,46.1 183.2,45.6 185.7,45 188.2,44.4 190.6,43.8 193.1,43.1 195.6,42.5 198.1,41.8 200.5,41.1 203,40.3"/>
<polyline points="44.3,75.6 46.8,75.2 49.4,74.8 51.9,74.4 54.5,74 57,73.5 59.6,73.2 62.1,72.8 64.7,72.4 67.2,72 69.8,71.6 72.3,71.2 74.9,70.8 77.4,70.4 80,70 82.5,69.6 85.1,69.2 87.6,68.8 90.2,68.4 92.7,68 95.3,67.6 97.8,67.2 100.3,66.8 102.9,66.4 105.4,66 108,65.6 110.5,65.1 113,64.7 115.6,64.3 118.1,63.8 120.6,63.3 123.2,62.9 125.7,62.4 128.2,61.9 130.8,61.4 133.3,60.9 135.8,60.4 138.3,59.9 140.8,59.4 143.3,58.8 145.8,58.3 148.4,57.7 150.9,57.1 153.4,56.5 155.9,55.9 158.4,55.3 160.8,54.7 163.3,54 165.8,53.4 168.3,52.7 170.8,52 173.2,51.3 175.7,50.5 178.2,49.8 180.6,49 183.1,48.2 185.5,47.4 188,46.6 190.4,45.8 192.9,44.9 195.3,44 197.7,43.1 200.2,42.2 202.6,41.3 205,40.3"/>
<polyline points="44.3,88.7 46.8,88.3 49.4,87.8 51.9,87.4 54.4,86.9 57,86.5 59.5,86 62,85.6 64.6,85.1 67.1,84.6 69.6,84.1 72.1,83.6 74.7,83.1 77.2,82.6 79.7,82.1 82.2,81.6 84.7,81 87.2,80.5 89.7,79.9 92.2,79.4 94.7,78.8 97.2,78.2 99.7,77.6 102.2,77 104.7,76.4 107.2,75.8 109.7,75.2 112.2,74.5 114.6,73.9 117.1,73.2 119.6,72.5 122.1,71.9 124.5,71.2 127,70.5 129.5,69.8 131.9,69 134.4,68.3 136.8,67.6 139.3,66.8 141.7,66 144.1,65.3 146.6,64.5 149,63.7 151.4,62.8 153.9,62 156.3,61.2 158.7,60.3 161.1,59.4 163.5,58.6 165.9,57.7 168.3,56.8 170.7,55.8 173.1,54.9 175.5,54 177.8,53 180.2,52 182.6,51 184.9,50 187.3,49 189.7,48 192,46.9 194.4,45.9 196.7,44.8 199,43.7 201.4,42.6 203.7,41.4 206,40.3"/>
<polyline points="44.3,100.9 46.9,100.5 49.5,100.2 52,99.8 54.6,99.3 57.1,98.9 59.7,98.4 62.2,97.9 64.7,97.4 67.2,96.9 69.8,96.3 72.3,95.8 74.8,95.2 77.3,94.6 79.8,93.9 82.2,93.3 84.7,92.6 87.2,91.9 89.6,91.2 92.1,90.5 94.6,89.8 97,89 99.4,88.3 101.9,87.5 104.3,86.7 106.7,85.9 109.1,85 111.6,84.2 114,83.3 116.4,82.4 118.8,81.5 121.2,80.6 123.5,79.7 125.9,78.8 128.3,77.8 130.7,76.9 133.1,75.9 135.4,74.9 137.8,73.9 140.1,72.9 142.5,71.9 144.8,70.9 147.2,69.8 149.5,68.8 151.9,67.7 154.2,66.7 156.5,65.6 158.8,64.5 161.2,63.4 163.5,62.3 165.8,61.2 168.1,60.1 170.4,59 172.7,57.8 175,56.7 177.3,55.6 179.6,54.4 181.9,53.3 184.2,52.1 186.5,50.9 188.8,49.8 191.1,48.6 193.3,47.4 195.6,46.2 197.9,45.1 200.2,43.9 202.5,42.7 204.7,41.5 207,40.3"/>
<polyline points="44.3,113 46.9,112.6 49.5,112.2 52,111.8 54.6,111.3 57.1,110.8 59.7,110.3 62.2,109.7 64.7,109.1 67.1,108.4 69.6,107.7 72.1,107 74.5,106.3 77,105.5 79.4,104.7 81.8,103.9 84.2,103 86.6,102.2 89,101.2 91.4,100.3 93.7,99.4 96.1,98.4 98.4,97.4 100.8,96.3 103.1,95.3 105.4,94.2 107.8,93.2 110.1,92.1 112.4,91 114.7,89.8 117,88.7 119.2,87.5 121.5,86.3 123.8,85.2 126.1,84 128.3,82.7 130.6,81.5 132.9,80.3 135.1,79.1 137.4,77.8 139.6,76.6 141.9,75.3 144.1,74.1 146.4,72.8 148.6,71.5 150.8,70.2 153.1,69 155.3,67.7 157.6,66.4 159.8,65.2 162,63.9 164.3,62.6 166.5,61.4 168.8,60.1 171,58.9 173.3,57.6 175.5,56.4 177.8,55.2 180,53.9 182.3,52.7 184.6,51.5 186.8,50.3 189.1,49.2 191.4,48 193.7,46.8 196,45.7 198.3,44.6 200.6,43.5 202.9,42.4 205.2,41.3 207.5,40.3"/>
<polyline points="44.3,126.2 46.8,125.5 49.2,124.7 51.7,124 54.1,123.2 56.5,122.3 58.9,121.5 61.3,120.6 63.7,119.7 66,118.8 68.4,117.9 70.7,116.9 73.1,115.9 75.4,114.9 77.7,113.9 80,112.8 82.3,111.7 84.6,110.7 86.9,109.6 89.1,108.4 91.4,107.3 93.7,106.1 95.9,105 98.1,103.8 100.4,102.6 102.6,101.4 104.8,100.2 107,98.9 109.2,97.7 111.5,96.4 113.7,95.2 115.8,93.9 118,92.6 120.2,91.3 122.4,90 124.6,88.7 126.8,87.4 128.9,86.1 131.1,84.8 133.3,83.4 135.4,82.1 137.6,80.8 139.8,79.4 141.9,78.1 144.1,76.8 146.3,75.4 148.4,74.1 150.6,72.7 152.8,71.4 154.9,70.1 157.1,68.7 159.3,67.4 161.4,66.1 163.6,64.8 165.8,63.4 167.9,62.1 170.1,60.8 172.3,59.5 174.5,58.2 176.7,57 178.9,55.7 181.1,54.4 183.3,53.2 185.5,51.9 187.7,50.7 190,49.5 192.2,48.3 194.4,47.1 196.7,45.9 198.9,44.8 201.2,43.6 203.4,42.5 205.7,41.4 208,40.3"/>
<polyline points="44.3,140.4 46.6,139.3 48.8,138.1 51.1,136.9 53.3,135.8 55.6,134.6 57.8,133.4 60,132.2 62.2,130.9 64.4,129.7 66.6,128.5 68.8,127.2 71,125.9 73.2,124.6 75.4,123.4 77.5,122.1 79.7,120.8 81.9,119.4 84,118.1 86.2,116.8 88.3,115.5 90.5,114.1 92.6,112.8 94.7,111.4 96.9,110 99,108.7 101.1,107.3 103.2,105.9 105.4,104.5 107.5,103.2 109.6,101.8 111.7,100.4 113.8,99 115.9,97.6 118.1,96.2 120.2,94.8 122.3,93.4 124.4,92 126.5,90.6 128.6,89.2 130.7,87.8 132.8,86.4 134.9,84.9 137,83.5 139.1,82.1 141.3,80.7 143.4,79.3 145.5,78 147.6,76.6 149.7,75.2 151.8,73.8 154,72.4 156.1,71 158.2,69.7 160.4,68.3 162.5,66.9 164.6,65.6 166.8,64.2 168.9,62.9 171.1,61.6 173.2,60.2 175.4,58.9 177.5,57.6 179.7,56.3 181.9,55 184.1,53.7 186.3,52.4 188.5,51.2 190.7,49.9 192.9,48.7 195.1,47.4 197.3,46.2 199.5,45 201.8,43.8 204,42.6 206.2,41.5 208.5,40.3"/>
<polyline points="44.3,150.2 46.3,148.7 48.3,147.1 50.3,145.6 52.3,144.1 54.3,142.5 56.4,141 58.4,139.5 60.4,138 62.4,136.5 64.5,135 66.5,133.5 68.6,132 70.6,130.5 72.7,129.1 74.7,127.6 76.8,126.1 78.9,124.6 80.9,123.2 83,121.7 85.1,120.3 87.2,118.8 89.2,117.3 91.3,115.9 93.4,114.5 95.5,113 97.6,111.6 99.7,110.1 101.8,108.7 103.9,107.3 106,105.9 108.1,104.4 110.2,103 112.4,101.6 114.5,100.2 116.6,98.8 118.7,97.4 120.8,96 123,94.6 125.1,93.2 127.2,91.8 129.4,90.4 131.5,89 133.6,87.6 135.8,86.2 137.9,84.9 140.1,83.5 142.2,82.1 144.3,80.7 146.5,79.4 148.6,78 150.8,76.6 152.9,75.3 155.1,73.9 157.2,72.5 159.4,71.2 161.5,69.8 163.7,68.5 165.8,67.1 168,65.8 170.2,64.4 172.3,63.1 174.5,61.7 176.6,60.4 178.8,59 181,57.7 183.1,56.3 185.3,55 187.4,53.6 189.6,52.3 191.7,51 193.9,49.6 196.1,48.3 198.2,47 200.4,45.6 202.5,44.3 204.7,43 206.8,41.6 209,40.3"/>
<polyline points="44.3,176.9 45.6,174.6 46.9,172.4 48.2,170.2 49.6,168 51,165.9 52.4,163.7 53.9,161.6 55.3,159.5 56.8,157.5 58.3,155.5 59.9,153.4 61.5,151.5 63.1,149.5 64.7,147.5 66.3,145.6 68,143.7 69.7,141.8 71.4,140 73.1,138.1 74.9,136.3 76.6,134.5 78.4,132.7 80.2,131 82,129.2 83.9,127.5 85.7,125.8 87.6,124.1 89.5,122.4 91.4,120.7 93.3,119.1 95.3,117.4 97.2,115.8 99.2,114.2 101.2,112.6 103.2,111.1 105.2,109.5 107.2,107.9 109.2,106.4 111.3,104.9 113.3,103.3 115.4,101.8 117.5,100.3 119.6,98.9 121.7,97.4 123.8,95.9 125.9,94.5 128,93 130.1,91.6 132.3,90.1 134.4,88.7 136.5,87.3 138.7,85.9 140.8,84.5 143,83.1 145.2,81.7 147.3,80.3 149.5,78.9 151.7,77.5 153.8,76.1 156,74.8 158.2,73.4 160.4,72 162.5,70.7 164.7,69.3 166.9,67.9 169.1,66.6 171.2,65.2 173.4,63.8 175.6,62.5 177.7,61.1 179.9,59.7 182.1,58.4 184.2,57 186.4,55.6 188.5,54.3 190.6,52.9 192.8,51.5 194.9,50.1 197,48.7 199.1,47.3 201.2,46 203.3,44.5 205.4,43.1 207.4,41.7 209.5,40.3"/>
<polyline points="44.3,206 45.1,203.4 45.9,200.8 46.8,198.3 47.7,195.8 48.7,193.3 49.7,190.9 50.7,188.5 51.7,186.1 52.8,183.8 54,181.5 55.1,179.2 56.3,176.9 57.6,174.7 58.8,172.5 60.1,170.3 61.5,168.2 62.8,166.1 64.2,164 65.6,161.9 67.1,159.9 68.6,157.9 70.1,155.9 71.6,153.9 73.2,151.9 74.7,150 76.4,148.1 78,146.2 79.6,144.4 81.3,142.5 83,140.7 84.8,138.9 86.5,137.1 88.3,135.3 90.1,133.6 91.9,131.8 93.7,130.1 95.5,128.4 97.4,126.7 99.3,125.1 101.2,123.4 103.1,121.8 105,120.1 107,118.5 108.9,116.9 110.9,115.3 112.9,113.7 114.9,112.1 116.9,110.6 118.9,109 120.9,107.5 123,105.9 125,104.4 127.1,102.9 129.1,101.4 131.2,99.9 133.3,98.4 135.4,96.9 137.5,95.4 139.6,93.9 141.6,92.4 143.7,90.9 145.9,89.4 148,88 150.1,86.5 152.2,85 154.3,83.5 156.4,82.1 158.5,80.6 160.6,79.1 162.7,77.6 164.8,76.1 166.9,74.7 169,73.2 171.1,71.7 173.2,70.2 175.3,68.7 177.3,67.2 179.4,65.7 181.5,64.2 183.5,62.6 185.6,61.1 187.6,59.6 189.6,58 191.6,56.5 193.6,54.9 195.6,53.3 197.6,51.7 199.5,50.1 201.5,48.5 203.4,46.9 205.3,45.3 207.2,43.6 209.1,42 211,40.3"/>
<polyline points="44.3,233.6 45.8,231.6 47.2,229.5 48.7,227.5 50,225.4 51.4,223.3 52.8,221.1 54.1,219 55.4,216.8 56.7,214.6 57.9,212.4 59.2,210.2 60.4,208 61.6,205.8 62.8,203.6 64,201.3 65.2,199 66.4,196.8 67.6,194.5 68.7,192.2 69.9,190 71,187.7 72.2,185.4 73.3,183.1 74.4,180.9 75.6,178.6 76.7,176.3 77.9,174 79.1,171.8 80.2,169.5 81.4,167.3 82.6,165 83.8,162.8 85,160.6 86.2,158.4 87.4,156.2 88.7,154 90,151.8 91.2,149.7 92.5,147.6 93.9,145.4 95.2,143.3 96.6,141.3 98,139.2 99.4,137.2 100.9,135.2 102.4,133.2 103.9,131.2 105.4,129.3 107,127.4 108.6,125.5 110.3,123.7 111.9,121.9 113.7,120.1 115.4,118.4 117.2,116.6 119,115 120.9,113.3 122.8,111.6 124.7,110 126.6,108.4 128.6,106.8 130.6,105.3 132.6,103.7 134.6,102.2 136.7,100.7 138.7,99.2 140.8,97.7 142.9,96.2 145,94.8 147.1,93.3 149.2,91.8 151.3,90.4 153.4,88.9 155.5,87.4 157.7,86 159.8,84.5 161.9,83.1 164,81.6 166.1,80.1 168.2,78.6 170.3,77.1 172.4,75.6 174.4,74.1 176.5,72.6 178.5,71 180.5,69.4 182.5,67.8 184.4,66.2 186.4,64.6 188.3,63 190.3,61.3 192.2,59.7 194,58 195.9,56.3 197.8,54.6 199.6,52.8 201.4,51.1 203.2,49.3 205,47.5 206.8,45.8 208.5,43.9 210.3,42.1 212,40.3"/>
<polyline points="53.6,239.7 55.2,237.7 56.7,235.8 58.2,233.7 59.7,231.7 61.1,229.7 62.5,227.6 63.9,225.5 65.3,223.4 66.6,221.2 67.9,219.1 69.2,216.9 70.5,214.7 71.7,212.5 73,210.3 74.2,208.1 75.4,205.8 76.5,203.6 77.7,201.3 78.8,199.1 80,196.8 81.1,194.5 82.2,192.2 83.4,189.9 84.5,187.6 85.6,185.4 86.7,183.1 87.8,180.8 88.9,178.5 90,176.2 91.1,173.9 92.2,171.6 93.3,169.3 94.4,167.1 95.6,164.8 96.7,162.6 97.8,160.3 99,158.1 100.2,155.8 101.3,153.6 102.5,151.4 103.8,149.3 105,147.1 106.2,144.9 107.5,142.8 108.8,140.7 110.1,138.6 111.5,136.5 112.9,134.5 114.2,132.4 115.7,130.4 117.1,128.5 118.6,126.5 120.1,124.6 121.7,122.7 123.3,120.8 124.9,119 126.6,117.1 128.3,115.4 130,113.6 131.7,111.9 133.5,110.1 135.3,108.4 137.1,106.8 139,105.1 140.9,103.5 142.8,101.9 144.7,100.2 146.6,98.6 148.5,97.1 150.5,95.5 152.5,93.9 154.5,92.4 156.5,90.8 158.5,89.3 160.5,87.7 162.5,86.2 164.5,84.6 166.5,83.1 168.5,81.5 170.5,80 172.6,78.4 174.6,76.9 176.6,75.3 178.6,73.7 180.5,72.1 182.5,70.5 184.5,68.9 186.4,67.3 188.4,65.7 190.3,64 192.2,62.3 194.1,60.6 195.9,58.9 197.8,57.2 199.6,55.4 201.4,53.6 203.1,51.8 204.8,50 206.5,48.1 208.2,46.2 209.8,44.3 211.4,42.3 213,40.3"/>
<polyline points="66,239.7 68,237.9 69.9,236.1 71.8,234.3 73.6,232.4 75.3,230.5 77,228.5 78.6,226.6 80.2,224.5 81.7,222.5 83.2,220.4 84.6,218.3 86,216.2 87.4,214.1 88.7,211.9 90,209.7 91.2,207.5 92.4,205.2 93.6,203 94.8,200.7 95.9,198.4 97,196.1 98.1,193.8 99.1,191.5 100.2,189.2 101.2,186.8 102.2,184.5 103.2,182.1 104.2,179.8 105.2,177.4 106.2,175 107.2,172.7 108.1,170.3 109.1,168 110.1,165.6 111.1,163.3 112.1,160.9 113.1,158.6 114.1,156.3 115.1,153.9 116.2,151.6 117.2,149.4 118.3,147.1 119.4,144.8 120.6,142.6 121.7,140.4 122.9,138.2 124.1,136 125.4,133.8 126.6,131.7 128,129.6 129.3,127.5 130.7,125.4 132.2,123.4 133.6,121.4 135.1,119.4 136.7,117.5 138.2,115.5 139.8,113.6 141.5,111.7 143.1,109.8 144.8,108 146.5,106.1 148.2,104.3 149.9,102.5 151.7,100.7 153.5,98.9 155.3,97.1 157.1,95.3 158.9,93.5 160.8,91.8 162.6,90 164.5,88.3 166.4,86.6 168.3,84.8 170.2,83.1 172.1,81.4 174,79.7 175.9,78 177.8,76.2 179.7,74.5 181.6,72.8 183.5,71.1 185.4,69.3 187.3,67.6 189.1,65.9 191,64.1 192.9,62.3 194.7,60.6 196.6,58.8 198.4,57 200.2,55.2 202,53.4 203.8,51.6 205.5,49.7 207.3,47.9 209,46 210.7,44.1 212.4,42.2 214,40.3"/>
<polyline points="72,239.7 74.1,238.1 76.1,236.5 78.1,234.8 80.1,233.1 82,231.4 83.9,229.6 85.8,227.9 87.6,226.1 89.3,224.2 91,222.4 92.7,220.5 94.4,218.6 96,216.7 97.5,214.7 99,212.7 100.5,210.7 102,208.7 103.4,206.6 104.8,204.6 106.2,202.5 107.5,200.4 108.7,198.2 110,196.1 111.2,193.9 112.4,191.7 113.5,189.5 114.7,187.3 115.8,185 116.8,182.8 117.8,180.5 118.8,178.2 119.8,175.9 120.8,173.5 121.7,171.2 122.6,168.9 123.5,166.5 124.3,164.1 125.2,161.8 126,159.4 126.8,157 127.7,154.6 128.5,152.3 129.4,149.9 130.2,147.6 131.1,145.2 132,142.9 132.9,140.6 133.8,138.3 134.8,136 135.8,133.7 136.8,131.5 137.9,129.3 139,127.1 140.1,124.9 141.3,122.8 142.6,120.7 143.9,118.6 145.2,116.6 146.6,114.5 148.1,112.6 149.6,110.6 151.1,108.6 152.6,106.7 154.2,104.8 155.8,103 157.5,101.1 159.2,99.3 160.9,97.4 162.6,95.6 164.3,93.8 166.1,92 167.9,90.2 169.7,88.5 171.5,86.7 173.3,84.9 175.1,83.2 177,81.4 178.8,79.6 180.7,77.9 182.5,76.1 184.3,74.4 186.2,72.6 188,70.8 189.8,69 191.6,67.2 193.4,65.4 195.2,63.6 196.9,61.8 198.7,59.9 200.4,58.1 202.1,56.2 203.8,54.3 205.4,52.4 207,50.4 208.6,48.4 210.1,46.4 211.6,44.4 213.1,42.4 214.5,40.3"/>
<polyline points="72,239.7 74.4,238.4 76.8,237.1 79.1,235.7 81.4,234.3 83.6,232.9 85.8,231.4 87.9,229.8 89.9,228.3 91.9,226.7 93.9,225 95.8,223.3 97.7,221.6 99.5,219.9 101.3,218.1 103,216.3 104.7,214.4 106.3,212.5 108,210.6 109.5,208.7 111.1,206.7 112.6,204.8 114.1,202.7 115.5,200.7 116.9,198.7 118.3,196.6 119.6,194.5 120.9,192.3 122.2,190.2 123.5,188 124.8,185.9 126,183.7 127.2,181.5 128.3,179.2 129.5,177 130.6,174.8 131.8,172.5 132.9,170.2 134,167.9 135.1,165.7 136.1,163.4 137.2,161.1 138.3,158.7 139.3,156.4 140.4,154.1 141.4,151.8 142.5,149.5 143.5,147.2 144.6,144.9 145.7,142.6 146.7,140.3 147.8,138 148.9,135.7 150.1,133.5 151.2,131.2 152.4,129 153.5,126.7 154.7,124.5 156,122.3 157.2,120.1 158.5,117.9 159.8,115.8 161.1,113.6 162.4,111.5 163.8,109.4 165.2,107.2 166.6,105.1 168,103.1 169.4,101 170.9,98.9 172.3,96.9 173.8,94.8 175.3,92.8 176.8,90.7 178.3,88.7 179.9,86.7 181.4,84.7 182.9,82.6 184.5,80.6 186,78.6 187.6,76.6 189.2,74.6 190.7,72.6 192.3,70.6 193.9,68.6 195.4,66.6 197,64.6 198.6,62.6 200.1,60.6 201.7,58.6 203.3,56.6 204.8,54.6 206.4,52.6 207.9,50.5 209.5,48.5 211,46.5 212.5,44.4 214,42.4 215.5,40.3"/>
<polyline points="72,239.7 74.3,238.5 76.6,237.2 78.9,236 81.1,234.7 83.4,233.4 85.7,232.1 87.9,230.8 90.1,229.5 92.3,228.1 94.5,226.8 96.7,225.4 98.8,224 100.9,222.5 103.1,221.1 105.1,219.6 107.2,218.1 109.2,216.6 111.2,215.1 113.2,213.5 115.1,211.9 117,210.3 118.9,208.6 120.8,207 122.6,205.3 124.3,203.5 126.1,201.8 127.8,200 129.4,198.2 131.1,196.3 132.6,194.5 134.2,192.5 135.6,190.6 137.1,188.6 138.5,186.6 139.8,184.6 141.1,182.5 142.4,180.4 143.6,178.2 144.8,176.1 146,173.9 147.1,171.7 148.2,169.4 149.3,167.2 150.3,164.9 151.4,162.6 152.4,160.4 153.4,158 154.4,155.7 155.4,153.4 156.4,151.1 157.3,148.7 158.3,146.4 159.3,144.1 160.3,141.7 161.3,139.4 162.3,137.1 163.3,134.8 164.3,132.5 165.4,130.1 166.4,127.8 167.5,125.6 168.6,123.3 169.7,121 170.8,118.7 171.9,116.4 173,114.2 174.2,111.9 175.3,109.7 176.5,107.5 177.7,105.3 179,103.1 180.2,100.9 181.5,98.7 182.8,96.5 184.1,94.4 185.4,92.2 186.8,90.1 188.1,87.9 189.5,85.8 190.9,83.7 192.2,81.5 193.6,79.4 195,77.3 196.4,75.2 197.8,73.1 199.2,70.9 200.5,68.8 201.9,66.7 203.3,64.5 204.6,62.4 205.9,60.2 207.3,58.1 208.6,55.9 209.8,53.7 211.1,51.5 212.3,49.3 213.5,47.1 214.7,44.8 215.9,42.6 217,40.3"/>
<polyline points="72,239.7 74.5,238.6 77.1,237.5 79.5,236.4 82,235.2 84.4,234 86.8,232.8 89.1,231.5 91.4,230.2 93.6,228.9 95.9,227.5 98.1,226.1 100.2,224.7 102.4,223.3 104.5,221.8 106.5,220.3 108.6,218.8 110.6,217.2 112.6,215.6 114.5,214 116.4,212.4 118.3,210.8 120.2,209.1 122,207.4 123.8,205.6 125.6,203.9 127.4,202.1 129.1,200.3 130.8,198.5 132.5,196.7 134.2,194.8 135.8,192.9 137.4,191 139,189.1 140.6,187.2 142.1,185.2 143.7,183.2 145.2,181.3 146.7,179.3 148.2,177.2 149.6,175.2 151.1,173.1 152.5,171.1 153.9,169 155.3,166.9 156.6,164.8 158,162.7 159.3,160.5 160.7,158.4 162,156.2 163.3,154 164.6,151.9 165.9,149.7 167.1,147.5 168.4,145.3 169.6,143 170.9,140.8 172.1,138.6 173.3,136.3 174.5,134.1 175.7,131.8 176.9,129.6 178.1,127.3 179.3,125 180.5,122.8 181.6,120.5 182.8,118.2 184,115.9 185.1,113.6 186.3,111.3 187.4,109.1 188.6,106.8 189.8,104.5 190.9,102.2 192.1,99.9 193.2,97.6 194.4,95.3 195.6,93 196.7,90.8 197.9,88.5 199.1,86.2 200.3,83.9 201.5,81.7 202.7,79.4 203.9,77.2 205.1,74.9 206.3,72.7 207.5,70.5 208.7,68.2 210,66 211.3,63.8 212.5,61.6 213.8,59.4 215.1,57.3 216.4,55.1 217.7,52.9 219.1,50.8 220.4,48.7 221.8,46.6 223.2,44.5 224.6,42.4 226,40.3"/>
<polyline points="72,239.7 74.4,238.6 76.8,237.5 79.1,236.3 81.5,235.2 83.8,234 86.1,232.8 88.4,231.5 90.6,230.3 92.9,229 95.1,227.7 97.3,226.4 99.4,225 101.6,223.6 103.7,222.2 105.8,220.8 107.9,219.4 110,217.9 112,216.5 114,215 116.1,213.5 118,211.9 120,210.4 122,208.8 123.9,207.2 125.8,205.6 127.7,204 129.6,202.3 131.5,200.7 133.3,199 135.2,197.3 137,195.6 138.8,193.9 140.6,192.1 142.3,190.3 144.1,188.6 145.8,186.8 147.5,185 149.2,183.1 150.9,181.3 152.6,179.4 154.3,177.6 155.9,175.7 157.5,173.8 159.2,171.9 160.8,170 162.4,168 163.9,166.1 165.5,164.1 167,162.2 168.6,160.2 170.1,158.2 171.6,156.2 173.1,154.2 174.6,152.1 176,150.1 177.5,148 179,146 180.4,143.9 181.8,141.8 183.2,139.7 184.6,137.6 186,135.5 187.4,133.4 188.8,131.3 190.1,129.2 191.5,127 192.8,124.9 194.2,122.7 195.5,120.6 196.8,118.4 198.1,116.2 199.4,114 200.7,111.8 202,109.7 203.2,107.5 204.5,105.3 205.8,103 207,100.8 208.2,98.6 209.5,96.4 210.7,94.2 211.9,91.9 213.1,89.7 214.3,87.5 215.5,85.2 216.7,83 217.9,80.8 219.1,78.5 220.3,76.3 221.4,74 222.6,71.8 223.8,69.5 224.9,67.3 226.1,65 227.2,62.8 228.4,60.5 229.5,58.3 230.6,56 231.8,53.8 232.9,51.5 234,49.3 235.1,47 236.3,44.8 237.4,42.5 238.5,40.3"/>
<polyline points="72,239.7 74.3,238.6 76.6,237.5 78.9,236.3 81.2,235.1 83.4,234 85.7,232.8 87.9,231.6 90.2,230.3 92.4,229.1 94.6,227.8 96.8,226.5 99,225.3 101.2,223.9 103.3,222.6 105.5,221.3 107.6,219.9 109.8,218.6 111.9,217.2 114,215.8 116.1,214.4 118.2,212.9 120.2,211.5 122.3,210 124.4,208.6 126.4,207.1 128.4,205.6 130.4,204 132.5,202.5 134.4,201 136.4,199.4 138.4,197.8 140.4,196.2 142.3,194.6 144.2,193 146.1,191.4 148.1,189.8 149.9,188.1 151.8,186.4 153.7,184.7 155.6,183 157.4,181.3 159.2,179.6 161.1,177.9 162.9,176.1 164.6,174.4 166.4,172.6 168.2,170.8 170,169 171.7,167.2 173.4,165.4 175.1,163.5 176.8,161.7 178.5,159.8 180.2,157.9 181.9,156.1 183.5,154.2 185.1,152.2 186.8,150.3 188.4,148.4 190,146.4 191.5,144.5 193.1,142.5 194.7,140.5 196.2,138.5 197.7,136.5 199.2,134.5 200.7,132.5 202.2,130.5 203.7,128.4 205.1,126.4 206.6,124.3 208,122.2 209.4,120.1 210.8,118 212.2,115.9 213.5,113.8 214.9,111.7 216.2,109.5 217.6,107.4 218.9,105.2 220.1,103.1 221.4,100.9 222.7,98.7 223.9,96.5 225.2,94.3 226.4,92.1 227.6,89.8 228.8,87.6 229.9,85.3 231.1,83.1 232.2,80.8 233.4,78.6 234.5,76.3 235.6,74 236.6,71.7 237.7,69.4 238.8,67.1 239.8,64.7 240.8,62.4 241.8,60.1 242.8,57.7 243.7,55.4 244.7,53"/>
<polyline points="72,239.7 74.2,238.5 76.4,237.4 78.6,236.2 80.9,235 83.1,233.8 85.3,232.6 87.5,231.4 89.7,230.2 91.9,229 94.1,227.7 96.3,226.5 98.5,225.2 100.7,224 102.8,222.7 105,221.4 107.2,220.1 109.4,218.8 111.5,217.5 113.7,216.2 115.9,214.8 118,213.5 120.2,212.1 122.3,210.8 124.4,209.4 126.6,208 128.7,206.6 130.8,205.2 132.9,203.8 135,202.4 137.1,201 139.2,199.5 141.3,198.1 143.4,196.6 145.4,195.1 147.5,193.6 149.5,192.1 151.6,190.6 153.6,189.1 155.6,187.6 157.6,186 159.6,184.5 161.6,182.9 163.6,181.3 165.6,179.8 167.6,178.2 169.5,176.6 171.5,174.9 173.4,173.3 175.3,171.7 177.2,170 179.1,168.3 181,166.7 182.9,165 184.8,163.3 186.6,161.5 188.5,159.8 190.3,158.1 192.1,156.3 193.9,154.6 195.7,152.8 197.5,151 199.2,149.2 201,147.4 202.7,145.6 204.4,143.7 206.1,141.9 207.8,140 209.5,138.1 211.2,136.2 212.8,134.3 214.4,132.4 216,130.5 217.6,128.5 219.2,126.6 220.8,124.6 222.3,122.6 223.9,120.6 225.4,118.6 226.9,116.6 228.4,114.6 229.8,112.5 231.3,110.4 232.7,108.4 234.1,106.3 235.5,104.2 236.9,102 238.2,99.9 239.6,97.7 240.9,95.6 242.2,93.4 243.4,91.2 244.7,89"/>
<polyline points="100,239.7 102.5,239.6 105.1,239.4 107.6,239.3 110.2,239.1 112.7,239 115.3,238.8 117.8,238.6 120.3,238.5 122.9,238.3 125.4,238.1 128,237.9 130.5,237.7 133,237.5 135.6,237.4 138.1,237.2 140.7,237 143.2,236.7 145.7,236.5 148.3,236.3 150.8,236.1 153.4,235.9 155.9,235.7 158.4,235.5 161,235.2 163.5,235 166.1,234.8 168.6,234.5 171.1,234.3 173.7,234.1 176.2,233.8 178.7,233.6 181.3,233.4 183.8,233.1 186.3,232.9 188.9,232.6 191.4,232.4 194,232.2 196.5,231.9 199,231.7 201.6,231.4 204.1,231.2 206.6,231 209.2,230.7 211.7,230.5 214.3,230.2 216.8,230 219.3,229.8 221.9,229.5 224.4,229.3 226.9,229.1 229.5,228.8 232,228.6 234.5,228.4 237.1,228.2 239.6,227.9 242.2,227.7 244.7,227.5"/>
<polyline points="72,239.7 76.7,236.9 81.3,234.1 86,231.3 90.6,228.4 95.2,225.6 99.9,222.7 104.5,219.8 109.1,216.9 113.7,214 118.3,211.1 122.9,208.2 127.5,205.2 132,202.2 136.6,199.2 141.1,196.2 145.6,193.2 150.1,190.1 154.6,187.1 159.1,184 163.6,180.9 168.1,177.7 172.5,174.6 176.9,171.4 181.3,168.2 185.7,165 190.1,161.7 194.4,158.5 198.7,155.2 203,151.8 207.3,148.5 211.6,145.1 215.8,141.7 220,138.2 224.2,134.8 228.3,131.3 232.5,127.8 236.6,124.2 240.6,120.6 244.7,117"/>
<polyline points="72,239.7 76.5,237.2 81.1,234.6 85.6,232.1 90.1,229.5 94.6,226.9 99.1,224.3 103.6,221.7 108.1,219.1 112.5,216.5 117,213.9 121.5,211.2 125.9,208.5 130.4,205.9 134.8,203.2 139.2,200.5 143.7,197.8 148.1,195.1 152.5,192.4 156.9,189.6 161.3,186.9 165.8,184.2 170.2,181.4 174.6,178.7 179,175.9 183.4,173.2 187.8,170.4 192.1,167.6 196.5,164.8 200.9,162.1 205.3,159.3 209.7,156.5 214.1,153.7 218.4,150.9 222.8,148.1 227.2,145.4 231.6,142.6 235.9,139.8 240.3,137 244.7,134.2"/>
<polyline points="72,239.7 76.5,237.5 80.9,235.3 85.4,233.1 89.8,230.8 94.3,228.6 98.7,226.3 103.1,224 107.5,221.7 112,219.4 116.4,217.1 120.8,214.8 125.2,212.5 129.6,210.2 134,207.8 138.4,205.5 142.8,203.2 147.2,200.8 151.6,198.5 156,196.1 160.4,193.8 164.8,191.5 169.2,189.1 173.6,186.8 178,184.5 182.4,182.2 186.8,179.8 191.2,177.5 195.6,175.3 200,173 204.5,170.7 208.9,168.5 213.4,166.2 217.8,164 222.3,161.8 226.7,159.6 231.2,157.4 235.7,155.3 240.2,153.1 244.7,151"/>
<polyline points="72,239.7 76.5,237.9 80.9,236 85.4,234.1 89.8,232.2 94.3,230.3 98.7,228.4 103.1,226.4 107.5,224.4 111.9,222.4 116.3,220.4 120.7,218.4 125.1,216.4 129.5,214.3 133.9,212.3 138.3,210.2 142.7,208.2 147,206.1 151.4,204.1 155.8,202 160.2,200 164.6,197.9 169,195.9 173.3,193.9 177.7,191.9 182.1,189.9 186.5,187.9 191,185.9 195.4,183.9 199.8,182 204.3,180.1 208.7,178.2 213.2,176.4 217.6,174.5 222.1,172.7 226.6,171 231.1,169.2 235.6,167.5 240.2,165.8 244.7,164.2"/>
<polyline points="72,239.7 76.5,238.2 80.9,236.7 85.4,235.2 89.8,233.6 94.3,232 98.7,230.4 103.1,228.8 107.5,227.2 111.9,225.5 116.3,223.8 120.7,222.1 125.1,220.4 129.5,218.7 133.9,217 138.3,215.2 142.7,213.5 147,211.8 151.4,210 155.8,208.3 160.2,206.6 164.6,204.9 169,203.2 173.4,201.5 177.8,199.8 182.2,198.1 186.6,196.5 191,194.8 195.4,193.2 199.9,191.6 204.3,190.1 208.7,188.5 213.2,187 217.7,185.6 222.1,184.1 226.6,182.7 231.1,181.4 235.6,180 240.2,178.7 244.7,177.5"/>
<polyline points="72,239.7 76.5,238.5 80.9,237.3 85.4,236.1 89.8,234.9 94.2,233.6 98.6,232.3 103.1,231 107.5,229.6 111.9,228.3 116.3,226.9 120.7,225.5 125.1,224.1 129.5,222.7 133.9,221.3 138.3,219.9 142.7,218.5 147.1,217.1 151.5,215.7 155.9,214.3 160.3,212.9 164.7,211.5 169.1,210.1 173.5,208.8 177.9,207.4 182.3,206 186.7,204.7 191.1,203.4 195.6,202.1 200,200.8 204.4,199.6 208.9,198.4 213.3,197.2 217.8,196 222.2,194.9 226.7,193.8 231.2,192.7 235.7,191.7 240.2,190.7 244.7,189.8"/>
<polyline points="72,239.7 76.4,238.8 80.9,237.9 85.3,237 89.8,236 94.2,235.1 98.6,234.1 103,233.1 107.5,232.1 111.9,231 116.3,230 120.7,228.9 125.1,227.9 129.5,226.8 133.9,225.7 138.4,224.7 142.8,223.6 147.2,222.5 151.6,221.4 156,220.3 160.4,219.3 164.8,218.2 169.2,217.1 173.6,216.1 178,215 182.5,214 186.9,213 191.3,212 195.7,211 200.2,210.1 204.6,209.1 209,208.2 213.5,207.3 217.9,206.4 222.4,205.6 226.8,204.8 231.3,204 235.7,203.2 240.2,202.5 244.7,201.8"/>
<polyline points="72,239.7 76.4,239.1 80.9,238.5 85.3,237.9 89.7,237.2 94.2,236.6 98.6,235.9 103,235.3 107.4,234.6 111.9,233.9 116.3,233.2 120.7,232.5 125.1,231.8 129.6,231.1 134,230.3 138.4,229.6 142.8,228.9 147.2,228.2 151.7,227.5 156.1,226.7 160.5,226 164.9,225.3 169.3,224.6 173.8,223.9 178.2,223.2 182.6,222.5 187,221.8 191.5,221.2 195.9,220.5 200.3,219.8 204.7,219.2 209.2,218.6 213.6,218 218,217.4 222.5,216.8 226.9,216.2 231.4,215.7 235.8,215.2 240.2,214.7 244.7,214.2"/>
</g></g>
<path d="M44.3,40.3V239.7H244.7" fill="none" stroke="#8c8c8c" stroke-width="1"/>
<path d="M44.3,226.9h2M44.3,205.5h2M44.3,184.1h2M44.3,162.7h2M44.3,141.3h2M44.3,119.9h2M44.3,98.5h2M44.3,77.1h2M44.3,55.7h2M58.6,239.7v-2M101.4,239.7v-2M144.2,239.7v-2M187,239.7v-2M229.8,239.7v-2" stroke="#8c8c8c" stroke-width="1"/>
<g style="font-family:&quot;Liberation Sans&quot;,Arial,Helvetica,sans-serif;font-size:10.2px" fill="#454545" stroke="#454545" stroke-width="0.22" text-anchor="end">
<text x="40.6" y="231.3">-200</text>
<text x="40.6" y="209.9">-150</text>
<text x="40.6" y="188.5">-100</text>
<text x="40.6" y="167.1">-50</text>
<text x="40.6" y="145.7">0</text>
<text x="40.6" y="124.3">50</text>
<text x="40.6" y="102.9">100</text>
<text x="40.6" y="81.5">150</text>
<text x="40.6" y="60.1">200</text>
</g>
<g style="font-family:&quot;Liberation Sans&quot;,Arial,Helvetica,sans-serif;font-size:10.2px" fill="#454545" stroke="#454545" stroke-width="0.22" text-anchor="middle">
<text x="58.6" y="255.9">-200</text>
<text x="101.4" y="255.9">-100</text>
<text x="144.2" y="255.9">0</text>
<text x="187" y="255.9">100</text>
<text x="229.8" y="255.9">200</text>
</g>
<text x="144.7" y="271.4" style="font-family:&quot;Liberation Sans&quot;,Arial,Helvetica,sans-serif;font-size:11.2px" fill="#454545" stroke="#454545" stroke-width="0.22" text-anchor="middle">x in mm</text>
<text transform="translate(13,139.8) rotate(-90)" style="font-family:&quot;Liberation Sans&quot;,Arial,Helvetica,sans-serif;font-size:11.2px" fill="#454545" stroke="#454545" stroke-width="0.22" text-anchor="middle">y in mm</text>
<text x="124.2" y="331.8" style="font-family:&quot;Liberation Serif&quot;,&quot;Times New Roman&quot;,serif;font-size:13.5px" fill="#222" stroke="#222" stroke-width="0.3" text-anchor="middle">(a)</text>
<circle cx="244.6" cy="239.6" r="1.5" fill="#ff0000"/>
<polyline points="58.3,162.4 59.8,160.3 61.4,158.2 63,156.2 64.6,154.2 66.2,152.2 67.9,150.3 69.5,148.3 71.2,146.4 73,144.6 74.7,142.7 76.5,140.9 78.2,139.1 80,137.3 81.9,135.5 83.7,133.7 85.6,132" fill="none" stroke="#262626" stroke-width="2.1" stroke-dasharray="2.6 2"/>
<polyline points="85.6,132 87.4,130.3 89.3,128.6 91.2,126.9 93.1,125.2 95,123.6 97,122 98.9,120.3 100.9,118.7 102.9,117.1 104.9,115.5 106.8,113.9 108.8,112.4 110.8,110.8 112.9,109.2 114.9,107.7 116.9,106.1 118.9,104.6 121,103 123,101.5 125,100 127.1,98.4 129.1,96.9 131.2,95.4 133.2,93.9 135.3,92.3 137.3,90.8" fill="none" stroke="#fff" stroke-width="3"/>
<polyline points="85.6,132 87.4,130.3 89.3,128.6 91.2,126.9 93.1,125.2 95,123.6 97,122 98.9,120.3 100.9,118.7 102.9,117.1 104.9,115.5 106.8,113.9 108.8,112.4 110.8,110.8 112.9,109.2 114.9,107.7 116.9,106.1 118.9,104.6 121,103 123,101.5 125,100 127.1,98.4 129.1,96.9 131.2,95.4 133.2,93.9 135.3,92.3 137.3,90.8 139.4,89.3 141.4,87.8 143.5,86.3 145.5,84.8 147.6,83.3 149.7,81.8 151.7,80.3 153.8,78.8 155.9,77.3 157.9,75.8 160,74.3 162.1,72.9 164.2,71.4 166.3,69.9 168.4,68.5 170.5,67 172.6,65.6 174.7,64.1 176.8,62.7 178.9,61.2 181,59.8 183.1,58.4 185.2,57 187.3,55.6 189.5,54.2 191.6,52.8 193.7,51.4 195.8,50 198,48.6 200.1,47.2 202.3,45.9 204.4,44.5 206.6,43.2 208.7,41.8 210.9,40.5" fill="none" stroke="#262626" stroke-width="1.9" stroke-dasharray="2.6 1.8"/>
<path d="M55,160.3L61.5,164.6" stroke="#262626" stroke-width="1.8"/>
<path d="M84.4,132.6L68,141.9L75.6,148.4Z" fill="#222"/>
<circle cx="114.4" cy="141" r="4.4" fill="#222"/>
<path d="M97.8,118.3L112.5,138.2" stroke="#222" stroke-width="0.85" fill="none"/>
<path d="M104.6,115.4L106.4,121.3L103.4,125" stroke="#222" stroke-width="0.8" fill="none"/>
<rect x="130.6" y="117.6" width="35.6" height="16.8" fill="#fff"/>
<text x="133.4" y="131.5" style="font-family:&quot;Liberation Serif&quot;,&quot;Times New Roman&quot;,serif;font-size:13.4px" fill="#333">hole</text>
<path d="M129.9,126.2H125.4C123.2,126.4 122,128.6 123.2,130.8C124.3,132.4 126.3,133.4 126,135.4C125.7,137.6 123,139 119.2,139.6" stroke="#222" stroke-width="0.85" fill="none"/>
<rect x="179.5" y="191.9" width="54.9" height="37.3" fill="#fff" stroke="#8c8c8c" stroke-width="0.9"/>
<path d="M185.8,202.3H217.4M209,199.6L217.6,202.3L209,205" stroke="#5b9bd5" stroke-width="0.8" fill="none"/>
<path d="M185.8,219.5H217.6" stroke="#ff0000" stroke-width="2.5"/>
<text x="220.6" y="204.2" style="font-family:&quot;Liberation Sans&quot;,Arial,Helvetica,sans-serif;font-size:9.8px" fill="#333">v<tspan x="226.2" y="209.4" font-size="6.8px">A</tspan></text>
<text x="220.6" y="221.3" style="font-family:&quot;Liberation Sans&quot;,Arial,Helvetica,sans-serif;font-size:9.8px" fill="#333">s<tspan x="226.2" y="226.6" font-size="6.8px">A</tspan></text>
<path d="M386.5,7.6V284.4M424.6,7.6V284.4M462.7,7.6V284.4M500.8,7.6V284.4M348.4,47.1H538.5M348.4,86.7H538.5M348.4,126.2H538.5M348.4,165.7H538.5M348.4,205.3H538.5M348.4,244.8H538.5" stroke="#e4e4e4" stroke-width="0.9" fill="none"/>
<clipPath id="cr"><rect x="348.4" y="7.6" width="190.10000000000002" height="276.79999999999995"/></clipPath>
<g clip-path="url(#cr)">
<polyline points="348.4,126.2 348.6,126.2 348.8,126.2 349,126.2 349.2,126.2 349.4,126.2 349.5,126.2 349.7,126.2 349.9,126.2 350.1,126.2 350.3,126.2 350.5,126.2 350.7,126.2 350.9,126.2 351.1,126.2 351.3,126.2 351.4,126.2 351.6,126.2 351.8,126.2 352,126.2 352.2,126.2 352.4,126.2 352.6,126.2 352.8,126.2 353,126.2 353.2,126.2 353.4,126.2 353.5,126.2 353.7,126.2 353.9,126.2 354.1,126.2 354.3,126.2 354.5,126.2 354.7,126.2 354.9,126.2 355.1,126.2 355.3,126.2 355.4,126.2 355.6,126.2 355.8,126.2 356,126.2 356.2,126.2 356.4,126.2 356.6,126.2 356.8,126.2 357,126.2 357.2,126.2 357.4,126.2 357.5,126.2 357.7,126.2 357.9,126.2 358.1,126.2 358.3,126.2 358.5,126.2 358.7,126.2 358.9,126.2 359.1,126.2 359.3,126.2 359.4,126.2 359.6,126.2 359.8,126.2 360,126.2 360.2,126.2 360.4,126.2 360.6,126.2 360.8,126.2 361,126.2 361.2,126.2 361.4,126.2 361.5,126.2 361.7,126.2 361.9,126.2 362.1,126.2 362.3,126.2 362.5,126.2 362.7,126.2 362.9,126.2 363.1,126.2 363.3,126.2 363.4,126.2 363.6,126.2 363.8,126.2 364,126.2 364.2,126.2 364.4,126.2 364.6,126.2 364.8,126.2 365,126.2 365.2,126.2 365.4,126.2 365.5,126.2 365.7,126.2 365.9,126.2 366.1,126.2 366.3,126.2 366.5,126.2 366.7,126.2 366.9,126.2 367.1,126.2 367.3,126.2 367.4,126.2 367.6,126.2 367.8,126.2 368,126.2 368.2,126.2 368.4,126.2 368.6,126.2 368.8,126.2 369,126.2 369.2,126.2 369.4,126.2 369.5,126.2 369.7,126.2 369.9,126.2 370.1,126.2 370.3,126.2 370.5,126.2 370.7,126.2 370.9,126.2 371.1,126.2 371.3,126.2 371.5,126.2 371.6,126.2 371.8,126.2 372,126.2 372.2,126.2 372.4,126.2 372.6,126.2 372.8,126.2 373,126.2 373.2,126.2 373.4,126.2 373.5,126.2 373.7,126.2 373.9,126.2 374.1,126.2 374.3,126.2 374.5,126.2 374.7,126.2 374.9,126.2 375.1,126.2 375.3,126.2 375.5,126.2 375.6,126.2 375.8,126.2 376,126.2 376.2,126.2 376.4,126.2 376.6,126.2 376.8,126.2 377,126.2 377.2,126.2 377.4,126.2 377.5,126.2 377.7,126.2 377.9,126.2 378.1,126.2 378.3,126.2 378.5,126.2 378.7,126.2 378.9,126.2 379.1,126.2 379.3,126.2 379.5,126.2 379.6,126.2 379.8,126.2 380,126.2 380.2,126.2 380.4,126.2 380.6,126.2 380.8,126.2 381,126.2 381.2,126.2 381.4,126.2 381.5,126.2 381.7,126.2 381.9,126.2 382.1,126.2 382.3,126.2 382.5,126.2 382.7,126.2 382.9,126.2 383.1,126.2 383.3,126.2 383.5,126.2 383.6,126.2 383.8,126.2 384,126.2 384.2,126.2 384.4,126.2 384.6,126.2 384.8,126.2 385,126.2 385.2,126.2 385.4,126.2 385.5,126.2 385.7,126.2 385.9,126.2 386.1,126.2 386.3,126.2 386.5,126.2 386.7,126.2 386.9,126.2 387.1,126.2 387.3,126.2 387.5,126.2 387.6,126.2 387.8,126.2 388,126.2 388.2,126.2 388.4,126.2 388.6,126.2 388.8,126.2 389,126.2 389.2,126.2 389.4,126.2 389.5,126.2 389.7,126.2 389.9,126.2 390.1,126.2 390.3,126.2 390.5,126.2 390.7,126.2 390.9,126.2 391.1,126.2 391.3,126.2 391.5,126.2 391.6,126.2 391.8,126.2 392,126.2 392.2,126.2 392.4,126.2 392.6,126.2 392.8,126.2 393,126.2 393.2,126.2 393.4,126.2 393.5,126.2 393.7,126.2 393.9,126.2 394.1,126.2 394.3,126.2 394.5,126.2 394.7,126.2 394.9,126.2 395.1,126.2 395.3,126.2 395.5,126.2 395.6,126.2 395.8,126.2 396,126.2 396.2,126.2 396.4,126.2 396.6,126.2 396.8,126.2 397,126.2 397.2,126.2 397.4,126.2 397.5,126.2 397.7,126.2 397.9,126.2 398.1,126.2 398.3,126.2 398.5,126.2 398.7,126.2 398.9,126.2 399.1,126.2 399.3,126.2 399.5,126.2 399.6,126.2 399.8,126.2 400,126.2 400.2,126.2 400.4,126.2 400.6,126.2 400.8,126.2 401,126.2 401.2,126.2 401.4,126.2 401.5,126.2 401.7,126.2 401.9,126.2 402.1,126.2 402.3,126.2 402.5,126.2 402.7,126.2 402.9,126.2 403.1,126.2 403.3,126.2 403.5,126.2 403.6,126.2 403.8,126.2 404,126.2 404.2,126.2 404.4,126.2 404.6,126.2 404.8,126.2 405,126.2 405.2,126.2 405.4,126.2 405.5,126.2 405.7,126.2 405.9,126.2 406.1,126.2 406.3,126.2 406.5,126.2 406.7,126.2 406.9,126.2 407.1,126.2 407.3,126.2 407.5,126.2 407.6,126.2 407.8,126.2 408,126.2 408.2,126.2 408.4,126.2 408.6,126.2 408.8,126.2 409,126.2 409.2,126.2 409.4,126.2 409.6,126.2 409.7,126.2 409.9,126.2 410.1,126.2 410.3,126.2 410.5,126.2 410.7,126.2 410.9,126.2 411.1,126.2 411.3,126.2 411.5,126.2 411.6,126.2 411.8,126.2 412,126.2 412.2,126.2 412.4,126.2 412.6,126.2 412.8,126.2 413,126.2 413.2,126.2 413.4,126.2 413.6,126.2 413.7,126.2 413.9,126.2 414.1,126.2 414.3,126.2 414.5,126.2 414.7,126.2 414.9,126.2 415.1,126.2 415.3,126.2 415.5,126.2 415.6,126.2 415.8,126.2 416,126.2 416.2,126.2 416.4,126.2 416.6,126.2 416.8,126.2 417,126.2 417.2,126.2 417.4,126.2 417.6,126.2 417.7,126.2 417.9,126.2 418.1,126.2 418.3,126.2 418.5,126.2 418.7,126.2 418.9,126.2 419.1,126.2 419.3,126.2 419.5,126.2 419.6,126.2 419.8,126.2 420,126.2 420.2,126.2 420.4,126.2 420.6,126.2 420.8,126.2 421,126.2 421.2,126.2 421.4,126.2 421.6,126.2 421.7,126.2 421.9,126.2 422.1,126.2 422.3,126.2 422.5,126.2 422.7,126.2 422.9,126.2 423.1,126.2 423.3,126.2 423.5,126.2 423.6,126.2 423.8,126.2 424,126.2 424.2,126.2 424.4,126.2 424.6,126.2 424.8,126.2 425,126.2 425.2,126.2 425.4,126.2 425.6,126.2 425.7,126.2 425.9,126.2 426.1,126.2 426.3,126.2 426.5,126.2 426.7,126.2 426.9,126.2 427.1,126.2 427.3,126.2 427.5,126.2 427.6,126.2 427.8,126.2 428,126.2 428.2,126.2 428.4,126.2 428.6,126.2 428.8,126.2 429,126.2 429.2,126.2 429.4,126.2 429.6,126.2 429.7,126.2 429.9,126.2 430.1,126.2 430.3,126.2 430.5,126.2 430.7,126.2 430.9,126.2 431.1,126.2 431.3,126.2 431.5,126.2 431.6,126.2 431.8,126.2 432,126.2 432.2,126.2 432.4,126.2 432.6,126.2 432.8,126.2 433,126.2 433.2,126.2 433.4,126.2 433.6,126.2 433.7,126.2 433.9,126.2 434.1,126.2 434.3,126.2 434.5,126.2 434.7,126.2 434.9,126.2 435.1,126.2 435.3,126.2 435.5,126.2 435.6,126.2 435.8,126.2 436,126.2 436.2,126.2 436.4,126.2 436.6,126.2 436.8,126.2 437,126.2 437.2,126.2 437.4,126.2 437.6,126.2 437.7,126.2 437.9,126.2 438.1,126.2 438.3,126.2 438.5,126.2 438.7,126.2 438.9,126.2 439.1,126.2 439.3,126.2 439.5,126.2 439.6,126.2 439.8,126.2 440,126.2 440.2,126.2 440.4,126.2 440.6,126.2 440.8,126.2 441,126.2 441.2,126.2 441.4,126.2 441.6,126.2 441.7,126.2 441.9,126.2 442.1,126.2 442.3,126.2 442.5,126.2 442.7,126.2 442.9,126.2 443.1,126.2 443.3,126.2 443.5,126.2 443.6,126.2 443.8,126.2 444,126.2 444.2,126.2 444.4,126.2 444.6,126.2 444.8,126.2 445,126.2 445.2,126.2 445.4,126.2 445.6,126.2 445.7,126.2 445.9,126.2 446.1,126.2 446.3,126.2 446.5,126.2 446.7,126.2 446.9,126.2 447.1,126.2 447.3,126.2 447.5,126.2 447.7,126.2 447.8,126.2 448,126.2 448.2,126.2 448.4,126.2 448.6,126.2 448.8,126.2 449,126.2 449.2,126.2 449.4,126.2 449.6,126.2 449.7,126.2 449.9,126.2 450.1,126.2 450.3,126.2 450.5,126.2 450.7,126.2 450.9,126.2 451.1,126.2 451.3,126.2 451.5,126.2 451.7,126.2 451.8,126.2 452,126.2 452.2,126.2 452.4,126.2 452.6,126.2 452.8,126.2 453,126.2 453.2,126.2 453.4,126.2 453.6,126.2 453.7,126.2 453.9,126.2 454.1,126.2 454.3,126.2 454.5,126.2 454.7,126.2 454.9,126.2 455.1,126.2 455.3,126.2 455.5,126.2 455.7,126.2 455.8,126.2 456,126.2 456.2,126.2 456.4,126.2 456.6,126.2 456.8,126.2 457,126.2 457.2,126.2 457.4,126.2 457.6,126.2 457.7,126.2 457.9,126.2 458.1,126.2 458.3,126.2 458.5,126.2 458.7,126.2 458.9,126.2 459.1,126.2 459.3,126.2 459.5,126.2 459.7,126.2 459.8,126.2 460,126.2 460.2,126.2 460.4,126.2 460.6,126.2 460.8,126.2 461,126.2 461.2,126.2 461.4,126.2 461.6,126.2 461.7,126.2 461.9,126.2 462.1,126.2 462.3,126.2 462.5,126.2 462.7,126.2 462.9,126.2 463.1,126.2 463.3,126.2 463.5,126.2 463.7,126.2 463.8,126.2 464,126.2 464.2,126.2 464.4,126.2 464.6,126.2 464.8,126.2 465,126.2 465.2,126.2 465.4,126.2 465.6,126.2 465.7,126.2 465.9,126.2 466.1,126.2 466.3,126.2 466.5,126.2 466.7,126.2 466.9,126.2 467.1,126.2 467.3,126.2 467.5,126.2 467.7,126.2 467.8,126.2 468,126.2 468.2,126.2 468.4,126.2 468.6,126.2 468.8,126.2 469,126.2 469.2,126.2 469.4,126.2 469.6,126.2 469.7,126.2 469.9,126.2 470.1,126.2 470.3,126.2 470.5,126.2 470.7,126.2 470.9,126.2 471.1,126.2 471.3,126.2 471.5,126.2 471.7,126.2 471.8,126.2 472,126.2 472.2,126.2 472.4,126.2 472.6,126.2 472.8,126.2 473,126.2 473.2,126.2 473.4,126.2 473.6,126.2 473.7,126.2 473.9,126.2 474.1,126.2 474.3,126.2 474.5,126.2 474.7,126.2 474.9,126.2 475.1,126.2 475.3,126.2 475.5,126.2 475.7,126.2 475.8,126.2 476,126.2 476.2,126.2 476.4,126.2 476.6,126.2 476.8,126.2 477,126.2 477.2,126.2 477.4,126.2 477.6,126.2 477.7,126.2 477.9,126.2 478.1,126.2 478.3,126.2 478.5,126.2 478.7,126.2 478.9,126.2 479.1,126.2 479.3,126.2 479.5,126.2 479.7,126.2 479.8,126.2 480,126.2 480.2,126.2 480.4,126.2 480.6,126.2 480.8,126.2 481,126.2 481.2,126.2 481.4,126.2 481.6,126.2 481.8,126.2 481.9,126.2 482.1,126.2 482.3,126.2 482.5,126.2 482.7,126.2 482.9,126.2 483.1,126.2 483.3,126.2 483.5,126.2 483.7,126.2 483.8,126.2 484,126.2 484.2,126.2 484.4,126.2 484.6,126.2 484.8,126.2 485,126.2 485.2,126.2 485.4,126.2 485.6,126.2 485.8,126.2 485.9,126.2 486.1,126.2 486.3,126.2 486.5,126.2 486.7,126.2 486.9,126.2 487.1,126.2 487.3,126.2 487.5,126.2 487.7,126.2 487.8,126.2 488,126.2 488.2,126.2 488.4,126.2 488.6,126.2 488.8,126.2 489,126.2 489.2,126.2 489.4,126.2 489.6,126.2 489.8,126.2 489.9,126.2 490.1,126.2 490.3,126.2 490.5,126.2 490.7,126.2 490.9,126.2 491.1,126.2 491.3,126.2 491.5,126.2 491.7,126.2 491.8,126.2 492,126.2 492.2,126.2 492.4,126.2 492.6,126.2 492.8,126.2 493,126.2 493.2,126.2 493.4,126.2 493.6,126.2 493.8,126.2 493.9,126.2 494.1,126.2 494.3,126.2 494.5,126.2 494.7,126.2 494.9,126.2 495.1,126.2 495.3,126.2 495.5,126.2 495.7,126.2 495.8,126.2 496,126.2 496.2,126.2 496.4,126.2 496.6,126.2 496.8,126.2 497,126.2 497.2,126.2 497.4,126.2 497.6,126.2 497.8,126.2 497.9,126.2 498.1,126.2 498.3,126.2 498.5,126.2 498.7,126.2 498.9,126.2 499.1,126.2 499.3,126.2 499.5,126.2 499.7,126.2 499.8,126.2 500,126.2 500.2,126.2 500.4,126.2 500.6,126.2 500.8,126.2 501,126.2 501.2,126.2 501.4,126.2 501.6,126.2 501.8,126.2 501.9,126.2 502.1,126.2 502.3,126.2 502.5,126.2 502.7,126.2 502.9,126.2 503.1,126.2 503.3,126.2 503.5,126.2 503.7,126.2 503.8,126.2 504,126.2 504.2,126.2 504.4,126.2 504.6,126.2 504.8,126.2 505,126.2 505.2,126.2 505.4,126.2 505.6,126.2 505.8,126.2 505.9,126.2 506.1,126.2 506.3,126.2 506.5,126.2 506.7,126.2 506.9,126.2 507.1,126.2 507.3,126.2 507.5,126.2 507.7,126.2 507.8,126.2 508,126.2 508.2,126.2 508.4,126.2 508.6,126.2 508.8,126.2 509,126.2 509.2,126.2 509.4,126.2 509.6,126.2 509.8,126.2 509.9,126.2 510.1,126.2 510.3,126.2 510.5,126.2 510.7,126.2 510.9,126.2 511.1,126.2 511.3,126.2 511.5,126.2 511.7,126.2 511.8,126.2 512,126.2 512.2,126.2 512.4,126.2 512.6,126.2 512.8,126.2 513,126.2 513.2,126.2 513.4,126.2 513.6,126.2 513.8,126.2 513.9,126.2 514.1,126.2 514.3,126.2 514.5,126.2 514.7,126.2 514.9,126.2 515.1,126.2 515.3,126.2 515.5,126.2 515.7,126.2 515.8,126.2 516,126.2 516.2,126.2 516.4,126.2 516.6,126.2 516.8,126.2 517,126.2 517.2,126.2 517.4,126.2 517.6,126.2 517.8,126.2 517.9,126.2 518.1,126.2 518.3,126.2 518.5,126.2 518.7,126.2 518.9,126.2 519.1,126.2 519.3,126.2 519.5,126.2 519.7,126.2 519.8,126.2 520,126.2 520.2,126.2 520.4,126.2 520.6,126.2 520.8,126.2 521,126.2 521.2,126.2 521.4,126.2 521.6,126.2 521.8,126.2 521.9,126.2 522.1,126.2 522.3,126.2 522.5,126.2 522.7,126.2 522.9,126.2 523.1,126.2 523.3,126.2 523.5,126.2 523.7,126.2 523.9,126.2 524,126.2 524.2,126.2 524.4,126.2 524.6,126.2 524.8,126.2 525,126.2 525.2,126.2 525.4,126.2 525.6,126.2 525.8,126.2 525.9,126.2 526.1,126.2 526.3,126.2 526.5,126.2 526.7,126.2 526.9,126.2 527.1,126.2 527.3,126.2 527.5,126.2 527.7,126.2 527.9,126.2 528,126.2 528.2,126.2 528.4,126.2 528.6,126.2 528.8,126.2 529,126.2 529.2,126.2 529.4,126.2" fill="none" stroke="#D95319" stroke-width="0.9" stroke-opacity="0.75"/>
<path d="M348.4,126.2h0M352.3,126.2h0M356.2,126.2h0M360.1,126.2h0M364,126.2h0M367.9,126.2h0M371.8,126.2h0M375.7,126.2h0M379.6,126.2h0M383.5,126.2h0M387.4,126.2h0M391.3,126.2h0M395.2,126.2h0M399.1,126.2h0M403,126.2h0M406.8,126.2h0M410.6,126.2h0M414.4,126.2h0M418.2,126.2h0M422,126.2h0M425.8,126.2h0M429.6,126.2h0M433.4,126.2h0M437.2,126.2h0M441,126.2h0M444.8,126.2h0M448.6,126.2h0M452.4,126.2h0M456.2,126.2h0M460,126.2h0M463.8,126.2h0M467.6,126.2h0M471.4,126.2h0M475.2,126.2h0M479,126.2h0M482.8,126.2h0M486.6,126.2h0M490.3,126.2h0M494.1,126.2h0M497.9,126.2h0M501.7,126.2h0M505.5,126.2h0M509.3,126.2h0M513.1,126.2h0M516.9,126.2h0M520.7,126.2h0M524.5,126.2h0M528.3,126.2h0" stroke="#4a62b8" stroke-width="2.1" stroke-linecap="round" fill="none" stroke-opacity="0.85"/>
<polyline points="348.4,123.8 348.6,123.8 348.8,123.8 349,123.8 349.2,123.8 349.4,123.8 349.5,123.8 349.7,123.8 349.9,123.8 350.1,123.8 350.3,123.7 350.5,123.7 350.7,123.7 350.9,123.7 351.1,123.7 351.3,123.7 351.4,123.7 351.6,123.7 351.8,123.7 352,123.7 352.2,123.7 352.4,123.7 352.6,123.7 352.8,123.7 353,123.7 353.2,123.7 353.4,123.7 353.5,123.7 353.7,123.7 353.9,123.7 354.1,123.7 354.3,123.7 354.5,123.7 354.7,123.7 354.9,123.7 355.1,123.7 355.3,123.7 355.4,123.7 355.6,123.7 355.8,123.7 356,123.7 356.2,123.7 356.4,123.7 356.6,123.7 356.8,123.7 357,123.7 357.2,123.7 357.4,123.7 357.5,123.7 357.7,123.7 357.9,123.7 358.1,123.7 358.3,123.7 358.5,123.7 358.7,123.7 358.9,123.7 359.1,123.7 359.3,123.7 359.4,123.7 359.6,123.8 359.8,123.8 360,123.8 360.2,123.8 360.4,123.8 360.6,123.8 360.8,123.8 361,123.8 361.2,123.8 361.4,123.8 361.5,123.8 361.7,123.9 361.9,123.9 362.1,123.9 362.3,123.9 362.5,123.9 362.7,123.9 362.9,123.9 363.1,123.9 363.3,124 363.4,124 363.6,124 363.8,124 364,124 364.2,124 364.4,124.1 364.6,124.1 364.8,124.1 365,124.1 365.2,124.2 365.4,124.2 365.5,124.2 365.7,124.3 365.9,124.3 366.1,124.3 366.3,124.4 366.5,124.4 366.7,124.4 366.9,124.5 367.1,124.5 367.3,124.6 367.4,124.6 367.6,124.6 367.8,124.7 368,124.7 368.2,124.8 368.4,124.8 368.6,124.9 368.8,124.9 369,125 369.2,125 369.4,125 369.5,125.1 369.7,125.1 369.9,125.2 370.1,125.3 370.3,125.3 370.5,125.4 370.7,125.4 370.9,125.5 371.1,125.5 371.3,125.6 371.5,125.7 371.6,125.7 371.8,125.8 372,125.9 372.2,126 372.4,126 372.6,126.1 372.8,126.2 373,126.3 373.2,126.4 373.4,126.5 373.5,126.6 373.7,126.7 373.9,126.9 374.1,127 374.3,127.1 374.5,127.3 374.7,127.4 374.9,127.6 375.1,127.8 375.3,127.9 375.5,128.1 375.6,128.3 375.8,128.4 376,128.6 376.2,128.8 376.4,129 376.6,129.1 376.8,129.3 377,129.5 377.2,129.6 377.4,129.8 377.5,130 377.7,130.1 377.9,130.3 378.1,130.4 378.3,130.6 378.5,130.7 378.7,130.8 378.9,130.9 379.1,131.1 379.3,131.2 379.5,131.3 379.6,131.4 379.8,131.5 380,131.7 380.2,131.8 380.4,131.9 380.6,132 380.8,132.2 381,132.3 381.2,132.4 381.4,132.5 381.5,132.7 381.7,132.8 381.9,132.9 382.1,133 382.3,133.1 382.5,133.3 382.7,133.4 382.9,133.5 383.1,133.6 383.3,133.7 383.5,133.8 383.6,133.9 383.8,134 384,134.1 384.2,134.2 384.4,134.3 384.6,134.3 384.8,134.4 385,134.5 385.2,134.5 385.4,134.6 385.5,134.6 385.7,134.7 385.9,134.7 386.1,134.8 386.3,134.8 386.5,134.8 386.7,134.8 386.9,134.8 387.1,134.8 387.3,134.8 387.5,134.8 387.6,134.7 387.8,134.6 388,134.6 388.2,134.5 388.4,134.4 388.6,134.3 388.8,134.1 389,134 389.2,133.9 389.4,133.7 389.5,133.6 389.7,133.4 389.9,133.2 390.1,133.1 390.3,132.9 390.5,132.7 390.7,132.5 390.9,132.3 391.1,132.1 391.3,131.9 391.5,131.7 391.6,131.5 391.8,131.3 392,131.1 392.2,130.9 392.4,130.7 392.6,130.5 392.8,130.2 393,129.9 393.2,129.6 393.4,129.3 393.5,129 393.7,128.7 393.9,128.3 394.1,128 394.3,127.7 394.5,127.3 394.7,127 394.9,126.7 395.1,126.5 395.3,126.2 395.5,126 395.6,125.7 395.8,125.5 396,125.3 396.2,125 396.4,124.8 396.6,124.6 396.8,124.4 397,124.2 397.2,123.9 397.4,123.7 397.5,123.5 397.7,123.4 397.9,123.2 398.1,123 398.3,122.8 398.5,122.7 398.7,122.5 398.9,122.4 399.1,122.2 399.3,122.1 399.5,122 399.6,121.9 399.8,121.7 400,121.6 400.2,121.5 400.4,121.3 400.6,121.2 400.8,121.1 401,121 401.2,120.9 401.4,120.8 401.5,120.7 401.7,120.6 401.9,120.5 402.1,120.4 402.3,120.4 402.5,120.3 402.7,120.3 402.9,120.3 403.1,120.3 403.3,120.3 403.5,120.3 403.6,120.3 403.8,120.4 404,120.4 404.2,120.5 404.4,120.6 404.6,120.7 404.8,120.8 405,120.9 405.2,121 405.4,121.1 405.5,121.2 405.7,121.4 405.9,121.5 406.1,121.6 406.3,121.7 406.5,121.9 406.7,122 406.9,122.1 407.1,122.2 407.3,122.4 407.5,122.5 407.6,122.7 407.8,122.8 408,123 408.2,123.2 408.4,123.4 408.6,123.5 408.8,123.7 409,123.9 409.2,124.1 409.4,124.3 409.6,124.5 409.7,124.7 409.9,124.9 410.1,125.1 410.3,125.3 410.5,125.4 410.7,125.6 410.9,125.7 411.1,125.9 411.3,126 411.5,126.1 411.6,126.2 411.8,126.3 412,126.4 412.2,126.4 412.4,126.5 412.6,126.6 412.8,126.7 413,126.7 413.2,126.8 413.4,126.9 413.6,126.9 413.7,127 413.9,127.1 414.1,127.1 414.3,127.2 414.5,127.2 414.7,127.3 414.9,127.4 415.1,127.4 415.3,127.4 415.5,127.5 415.6,127.5 415.8,127.6 416,127.6 416.2,127.7 416.4,127.7 416.6,127.7 416.8,127.8 417,127.8 417.2,127.8 417.4,127.8 417.6,127.9 417.7,127.9 417.9,127.9 418.1,127.9 418.3,128 418.5,128 418.7,128 418.9,128 419.1,128.1 419.3,128.1 419.5,128.1 419.6,128.1 419.8,128.2 420,128.2 420.2,128.2 420.4,128.2 420.6,128.2 420.8,128.3 421,128.3 421.2,128.3 421.4,128.3 421.6,128.3 421.7,128.3 421.9,128.3 422.1,128.3 422.3,128.3 422.5,128.3 422.7,128.3 422.9,128.3 423.1,128.3 423.3,128.3 423.5,128.3 423.6,128.3 423.8,128.3 424,128.3 424.2,128.3 424.4,128.3 424.6,128.3 424.8,128.3 425,128.3 425.2,128.3 425.4,128.3 425.6,128.3 425.7,128.3 425.9,128.3 426.1,128.2 426.3,128.2 426.5,128.2 426.7,128.2 426.9,128.2 427.1,128.2 427.3,128.2 427.5,128.2 427.6,128.2 427.8,128.1 428,128.1 428.2,128.1 428.4,128.1 428.6,128.1 428.8,128.1 429,128.1 429.2,128.1 429.4,128 429.6,128 429.7,128 429.9,128 430.1,128 430.3,128 430.5,128 430.7,127.9 430.9,127.9 431.1,127.9 431.3,127.9 431.5,127.9 431.6,127.9 431.8,127.9 432,127.8 432.2,127.8 432.4,127.8 432.6,127.8 432.8,127.8 433,127.8 433.2,127.8 433.4,127.8 433.6,127.7 433.7,127.7 433.9,127.7 434.1,127.7 434.3,127.7 434.5,127.7 434.7,127.7 434.9,127.7 435.1,127.7 435.3,127.7 435.5,127.6 435.6,127.6 435.8,127.6 436,127.6 436.2,127.6 436.4,127.6 436.6,127.6 436.8,127.6 437,127.6 437.2,127.6 437.4,127.6 437.6,127.6 437.7,127.6 437.9,127.6 438.1,127.6 438.3,127.5 438.5,127.5 438.7,127.5 438.9,127.5 439.1,127.5 439.3,127.5 439.5,127.5 439.6,127.5 439.8,127.5 440,127.5 440.2,127.5 440.4,127.5 440.6,127.5 440.8,127.5 441,127.5 441.2,127.5 441.4,127.4 441.6,127.4 441.7,127.4 441.9,127.4 442.1,127.4 442.3,127.4 442.5,127.4 442.7,127.4 442.9,127.4 443.1,127.4 443.3,127.4 443.5,127.4 443.6,127.4 443.8,127.4 444,127.4 444.2,127.4 444.4,127.4 444.6,127.4 444.8,127.3 445,127.3 445.2,127.3 445.4,127.3 445.6,127.3 445.7,127.3 445.9,127.3 446.1,127.3 446.3,127.3 446.5,127.3 446.7,127.3 446.9,127.3 447.1,127.3 447.3,127.3 447.5,127.3 447.7,127.3 447.8,127.3 448,127.3 448.2,127.3 448.4,127.3 448.6,127.2 448.8,127.2 449,127.2 449.2,127.2 449.4,127.2 449.6,127.2 449.7,127.2 449.9,127.2 450.1,127.2 450.3,127.2 450.5,127.2 450.7,127.2 450.9,127.2 451.1,127.2 451.3,127.2 451.5,127.2 451.7,127.2 451.8,127.2 452,127.2 452.2,127.2 452.4,127.2 452.6,127.2 452.8,127.1 453,127.1 453.2,127.1 453.4,127.1 453.6,127.1 453.7,127.1 453.9,127.1 454.1,127.1 454.3,127.1 454.5,127.1 454.7,127.1 454.9,127.1 455.1,127.1 455.3,127.1 455.5,127.1 455.7,127.1 455.8,127.1 456,127.1 456.2,127.1 456.4,127.1 456.6,127.1 456.8,127.1 457,127.1 457.2,127.1 457.4,127.1 457.6,127.1 457.7,127.1 457.9,127.1 458.1,127.1 458.3,127 458.5,127 458.7,127 458.9,127 459.1,127 459.3,127 459.5,127 459.7,127 459.8,127 460,127 460.2,127 460.4,127 460.6,127 460.8,127 461,127 461.2,127 461.4,127 461.6,127 461.7,127 461.9,127 462.1,127 462.3,127 462.5,127 462.7,127 462.9,127 463.1,127 463.3,127 463.5,127 463.7,127 463.8,127 464,127 464.2,127 464.4,127 464.6,127 464.8,127 465,127 465.2,127 465.4,127 465.6,127 465.7,127 465.9,127 466.1,127 466.3,127 466.5,127 466.7,127 466.9,126.9 467.1,126.9 467.3,126.9 467.5,126.9 467.7,126.9 467.8,126.9 468,126.9 468.2,126.9 468.4,126.9 468.6,126.9 468.8,126.9 469,126.9 469.2,126.9 469.4,126.9 469.6,126.9 469.7,126.9 469.9,126.9 470.1,126.9 470.3,126.9 470.5,126.9 470.7,126.9 470.9,126.9 471.1,126.9 471.3,126.9 471.5,126.9 471.7,126.9 471.8,126.9 472,126.9 472.2,126.9 472.4,126.9 472.6,126.9 472.8,126.9 473,126.9 473.2,126.9 473.4,126.9 473.6,126.9 473.7,126.9 473.9,126.9 474.1,126.9 474.3,126.9 474.5,126.9 474.7,126.9 474.9,126.9 475.1,126.9 475.3,126.9 475.5,126.9 475.7,126.9 475.8,126.9 476,126.9 476.2,126.9 476.4,126.9 476.6,126.9 476.8,126.9 477,126.9 477.2,126.9 477.4,126.8 477.6,126.8 477.7,126.8 477.9,126.8 478.1,126.8 478.3,126.8 478.5,126.8 478.7,126.8 478.9,126.8 479.1,126.8 479.3,126.8 479.5,126.8 479.7,126.8 479.8,126.8 480,126.8 480.2,126.8 480.4,126.8 480.6,126.8 480.8,126.8 481,126.8 481.2,126.8 481.4,126.8 481.6,126.8 481.8,126.8 481.9,126.8 482.1,126.8 482.3,126.8 482.5,126.8 482.7,126.8 482.9,126.8 483.1,126.8 483.3,126.8 483.5,126.8 483.7,126.8 483.8,126.8 484,126.8 484.2,126.8 484.4,126.8 484.6,126.8 484.8,126.8 485,126.8 485.2,126.8 485.4,126.8 485.6,126.8 485.8,126.8 485.9,126.8 486.1,126.8 486.3,126.8 486.5,126.8 486.7,126.8 486.9,126.8 487.1,126.8 487.3,126.8 487.5,126.8 487.7,126.8 487.8,126.8 488,126.8 488.2,126.8 488.4,126.8 488.6,126.8 488.8,126.8 489,126.8 489.2,126.8 489.4,126.8 489.6,126.8 489.8,126.7 489.9,126.7 490.1,126.7 490.3,126.7 490.5,126.7 490.7,126.7 490.9,126.7 491.1,126.7 491.3,126.7 491.5,126.7 491.7,126.7 491.8,126.7 492,126.7 492.2,126.7 492.4,126.7 492.6,126.7 492.8,126.7 493,126.7 493.2,126.7 493.4,126.7 493.6,126.7 493.8,126.7 493.9,126.7 494.1,126.7 494.3,126.7 494.5,126.7 494.7,126.7 494.9,126.7 495.1,126.7 495.3,126.7 495.5,126.7 495.7,126.7 495.8,126.7 496,126.7 496.2,126.7 496.4,126.7 496.6,126.7 496.8,126.7 497,126.7 497.2,126.7 497.4,126.7 497.6,126.7 497.8,126.7 497.9,126.7 498.1,126.7 498.3,126.7 498.5,126.7 498.7,126.7 498.9,126.7 499.1,126.7 499.3,126.7 499.5,126.7 499.7,126.7 499.8,126.7 500,126.7 500.2,126.7 500.4,126.7 500.6,126.7 500.8,126.7 501,126.7 501.2,126.7 501.4,126.7 501.6,126.7 501.8,126.7 501.9,126.7 502.1,126.7 502.3,126.7 502.5,126.7 502.7,126.7 502.9,126.7 503.1,126.7 503.3,126.7 503.5,126.7 503.7,126.7 503.8,126.7 504,126.7 504.2,126.7 504.4,126.7 504.6,126.7 504.8,126.7 505,126.7 505.2,126.7 505.4,126.7 505.6,126.7 505.8,126.7 505.9,126.7 506.1,126.7 506.3,126.7 506.5,126.6 506.7,126.6 506.9,126.6 507.1,126.6 507.3,126.6 507.5,126.6 507.7,126.6 507.8,126.6 508,126.6 508.2,126.6 508.4,126.6 508.6,126.6 508.8,126.6 509,126.6 509.2,126.6 509.4,126.6 509.6,126.6 509.8,126.6 509.9,126.6 510.1,126.6 510.3,126.6 510.5,126.6 510.7,126.6 510.9,126.6 511.1,126.6 511.3,126.6 511.5,126.6 511.7,126.6 511.8,126.6 512,126.6 512.2,126.6 512.4,126.6 512.6,126.6 512.8,126.6 513,126.6 513.2,126.6 513.4,126.6 513.6,126.6 513.8,126.6 513.9,126.6 514.1,126.6 514.3,126.6 514.5,126.6 514.7,126.6 514.9,126.6 515.1,126.6 515.3,126.6 515.5,126.6 515.7,126.6 515.8,126.6 516,126.6 516.2,126.6 516.4,126.6 516.6,126.6 516.8,126.6 517,126.6 517.2,126.6 517.4,126.6 517.6,126.6 517.8,126.6 517.9,126.6 518.1,126.6 518.3,126.6 518.5,126.6 518.7,126.6 518.9,126.6 519.1,126.6 519.3,126.6 519.5,126.6 519.7,126.6 519.8,126.6 520,126.6 520.2,126.6 520.4,126.6 520.6,126.6 520.8,126.6 521,126.6 521.2,126.6 521.4,126.6 521.6,126.6 521.8,126.6 521.9,126.6 522.1,126.6 522.3,126.6 522.5,126.6 522.7,126.6 522.9,126.6 523.1,126.6 523.3,126.6 523.5,126.6 523.7,126.6 523.9,126.6 524,126.6 524.2,126.6 524.4,126.6 524.6,126.6 524.8,126.6 525,126.6 525.2,126.6 525.4,126.6 525.6,126.6 525.8,126.6 525.9,126.6 526.1,126.6 526.3,126.6 526.5,126.6 526.7,126.6 526.9,126.6 527.1,126.6 527.3,126.6 527.5,126.6 527.7,126.6 527.9,126.6 528,126.6 528.2,126.6 528.4,126.6 528.6,126.6 528.8,126.6 529,126.6 529.2,126.6 529.4,126.6" fill="none" stroke="#7E2F8E" stroke-width="0.9" stroke-opacity="0.75"/>
<path d="M348.4,123.8h0M352.3,123.7h0M356.2,123.7h0M360.1,123.8h0M364,124h0M367.9,124.7h0M371.8,125.8h0M375.7,128.3h0M379.6,131.4h0M383.5,133.8h0M387.4,134.8h0M391.3,131.9h0M395.2,126.2h0M399.1,122.2h0M403,120.3h0M406.8,122.1h0M410.6,125.5h0M414.4,127.2h0M418.2,128h0M422,128.3h0M425.8,128.3h0M429.6,128h0M433.4,127.8h0M437.2,127.6h0M441,127.5h0M444.8,127.3h0M448.6,127.2h0M452.4,127.2h0M456.2,127.1h0M460,127h0M463.8,127h0M467.6,126.9h0M471.4,126.9h0M475.2,126.9h0M479,126.8h0M482.8,126.8h0M486.6,126.8h0M490.3,126.7h0M494.1,126.7h0M497.9,126.7h0M501.7,126.7h0M505.5,126.7h0M509.3,126.6h0M513.1,126.6h0M516.9,126.6h0M520.7,126.6h0M524.5,126.6h0M528.3,126.6h0" stroke="#D95319" stroke-width="2.1" stroke-linecap="round" fill="none" stroke-opacity="0.85"/>
<polyline points="348.4,117.1 348.6,117 348.8,117 349,116.9 349.2,116.8 349.4,116.8 349.5,116.7 349.7,116.6 349.9,116.6 350.1,116.5 350.3,116.4 350.5,116.4 350.7,116.3 350.9,116.3 351.1,116.2 351.3,116.2 351.4,116.1 351.6,116.1 351.8,116.1 352,116 352.2,116 352.4,116 352.6,115.9 352.8,115.9 353,115.9 353.2,115.9 353.4,115.8 353.5,115.8 353.7,115.8 353.9,115.7 354.1,115.7 354.3,115.7 354.5,115.7 354.7,115.7 354.9,115.7 355.1,115.6 355.3,115.6 355.4,115.6 355.6,115.6 355.8,115.6 356,115.6 356.2,115.6 356.4,115.6 356.6,115.6 356.8,115.6 357,115.6 357.2,115.6 357.4,115.7 357.5,115.7 357.7,115.7 357.9,115.7 358.1,115.7 358.3,115.8 358.5,115.8 358.7,115.8 358.9,115.8 359.1,115.9 359.3,115.9 359.4,115.9 359.6,116 359.8,116 360,116 360.2,116.1 360.4,116.1 360.6,116.2 360.8,116.3 361,116.4 361.2,116.5 361.4,116.6 361.5,116.7 361.7,116.8 361.9,116.9 362.1,117 362.3,117.1 362.5,117.2 362.7,117.3 362.9,117.4 363.1,117.6 363.3,117.7 363.4,117.8 363.6,117.9 363.8,118 364,118.1 364.2,118.2 364.4,118.3 364.6,118.5 364.8,118.6 365,118.7 365.2,118.8 365.4,118.9 365.5,119.1 365.7,119.2 365.9,119.3 366.1,119.4 366.3,119.6 366.5,119.7 366.7,119.8 366.9,120 367.1,120.1 367.3,120.2 367.4,120.4 367.6,120.5 367.8,120.7 368,120.8 368.2,120.9 368.4,121.1 368.6,121.2 368.8,121.4 369,121.5 369.2,121.6 369.4,121.8 369.5,121.9 369.7,122.1 369.9,122.2 370.1,122.4 370.3,122.5 370.5,122.7 370.7,122.9 370.9,123 371.1,123.2 371.3,123.4 371.5,123.6 371.6,123.8 371.8,124.1 372,124.3 372.2,124.6 372.4,124.8 372.6,125.2 372.8,125.5 373,125.8 373.2,126.2 373.4,126.6 373.5,127.1 373.7,127.6 373.9,128.2 374.1,128.8 374.3,129.4 374.5,130.1 374.7,130.7 374.9,131.4 375.1,132 375.3,132.6 375.5,133.2 375.6,133.8 375.8,134.3 376,134.8 376.2,135.4 376.4,135.9 376.6,136.4 376.8,136.9 377,137.4 377.2,137.9 377.4,138.4 377.5,138.9 377.7,139.4 377.9,139.9 378.1,140.4 378.3,140.9 378.5,141.4 378.7,141.9 378.9,142.4 379.1,142.9 379.3,143.4 379.5,143.9 379.6,144.4 379.8,144.9 380,145.5 380.2,146 380.4,146.5 380.6,147 380.8,147.5 381,148.1 381.2,148.6 381.4,149.1 381.5,149.6 381.7,150.1 381.9,150.6 382.1,151 382.3,151.5 382.5,151.9 382.7,152.4 382.9,152.8 383.1,153.2 383.3,153.6 383.5,154.1 383.6,154.5 383.8,155 384,155.5 384.2,155.9 384.4,156.4 384.6,156.8 384.8,157.3 385,157.7 385.2,158.1 385.4,158.4 385.5,158.8 385.7,159.1 385.9,159.3 386.1,159.5 386.3,159.7 386.5,159.8 386.7,159.9 386.9,159.9 387.1,159.9 387.3,159.8 387.5,159.7 387.6,159.6 387.8,159.5 388,159.3 388.2,159.1 388.4,158.9 388.6,158.7 388.8,158.4 389,158.1 389.2,157.9 389.4,157.6 389.5,157.3 389.7,156.9 389.9,156.6 390.1,156.3 390.3,156 390.5,155.6 390.7,155.3 390.9,154.9 391.1,154.6 391.3,154.2 391.5,153.9 391.6,153.5 391.8,153.1 392,152.7 392.2,152.2 392.4,151.7 392.6,151.2 392.8,150.7 393,150.1 393.2,149.5 393.4,148.9 393.5,148.2 393.7,147.5 393.9,146.7 394.1,145.9 394.3,145 394.5,144 394.7,142.6 394.9,141 395.1,139.2 395.3,137.3 395.5,135.3 395.6,133.3 395.8,131.3 396,129.4 396.2,127.7 396.4,126.2 396.6,124.8 396.8,123.4 397,122 397.2,120.6 397.4,119.2 397.5,117.9 397.7,116.6 397.9,115.4 398.1,114.3 398.3,113.3 398.5,112.3 398.7,111.5 398.9,110.9 399.1,110.3 399.3,109.8 399.5,109.4 399.6,108.9 399.8,108.4 400,108 400.2,107.6 400.4,107.2 400.6,106.8 400.8,106.4 401,106 401.2,105.7 401.4,105.4 401.5,105.1 401.7,104.9 401.9,104.6 402.1,104.4 402.3,104.3 402.5,104.1 402.7,104 402.9,103.9 403.1,103.9 403.3,103.9 403.5,104 403.6,104.1 403.8,104.3 404,104.6 404.2,104.9 404.4,105.2 404.6,105.6 404.8,106.1 405,106.5 405.2,107 405.4,107.5 405.5,108.1 405.7,108.6 405.9,109.2 406.1,109.7 406.3,110.3 406.5,110.8 406.7,111.3 406.9,111.8 407.1,112.3 407.3,112.8 407.5,113.4 407.6,113.9 407.8,114.5 408,115.1 408.2,115.7 408.4,116.3 408.6,117 408.8,117.6 409,118.3 409.2,118.9 409.4,119.6 409.6,120.2 409.7,120.9 409.9,121.5 410.1,122.1 410.3,122.7 410.5,123.3 410.7,123.8 410.9,124.4 411.1,124.9 411.3,125.4 411.5,125.8 411.6,126.2 411.8,126.6 412,126.9 412.2,127.3 412.4,127.7 412.6,128 412.8,128.3 413,128.6 413.2,128.9 413.4,129.2 413.6,129.5 413.7,129.8 413.9,130 414.1,130.3 414.3,130.5 414.5,130.7 414.7,130.9 414.9,131.1 415.1,131.3 415.3,131.5 415.5,131.7 415.6,131.9 415.8,132.1 416,132.2 416.2,132.4 416.4,132.6 416.6,132.7 416.8,132.9 417,133 417.2,133.2 417.4,133.3 417.6,133.4 417.7,133.5 417.9,133.6 418.1,133.8 418.3,133.9 418.5,133.9 418.7,134 418.9,134.1 419.1,134.2 419.3,134.3 419.5,134.3 419.6,134.4 419.8,134.5 420,134.5 420.2,134.6 420.4,134.7 420.6,134.7 420.8,134.8 421,134.9 421.2,134.9 421.4,135 421.6,135 421.7,135.1 421.9,135.1 422.1,135.2 422.3,135.2 422.5,135.2 422.7,135.2 422.9,135.3 423.1,135.3 423.3,135.3 423.5,135.3 423.6,135.3 423.8,135.3 424,135.2 424.2,135.2 424.4,135.2 424.6,135.1 424.8,135 425,135 425.2,134.9 425.4,134.8 425.6,134.7 425.7,134.6 425.9,134.5 426.1,134.4 426.3,134.3 426.5,134.2 426.7,134.1 426.9,134 427.1,133.9 427.3,133.8 427.5,133.7 427.6,133.6 427.8,133.5 428,133.5 428.2,133.4 428.4,133.3 428.6,133.3 428.8,133.2 429,133.1 429.2,133 429.4,133 429.6,132.9 429.7,132.8 429.9,132.8 430.1,132.7 430.3,132.6 430.5,132.6 430.7,132.5 430.9,132.4 431.1,132.4 431.3,132.3 431.5,132.2 431.6,132.2 431.8,132.1 432,132 432.2,132 432.4,131.9 432.6,131.8 432.8,131.8 433,131.7 433.2,131.7 433.4,131.6 433.6,131.5 433.7,131.5 433.9,131.4 434.1,131.4 434.3,131.3 434.5,131.3 434.7,131.2 434.9,131.2 435.1,131.1 435.3,131.1 435.5,131.1 435.6,131 435.8,131 436,130.9 436.2,130.9 436.4,130.9 436.6,130.8 436.8,130.8 437,130.8 437.2,130.7 437.4,130.7 437.6,130.7 437.7,130.6 437.9,130.6 438.1,130.6 438.3,130.6 438.5,130.5 438.7,130.5 438.9,130.5 439.1,130.4 439.3,130.4 439.5,130.4 439.6,130.3 439.8,130.3 440,130.3 440.2,130.3 440.4,130.2 440.6,130.2 440.8,130.2 441,130.2 441.2,130.1 441.4,130.1 441.6,130.1 441.7,130 441.9,130 442.1,130 442.3,130 442.5,129.9 442.7,129.9 442.9,129.9 443.1,129.9 443.3,129.8 443.5,129.8 443.6,129.8 443.8,129.8 444,129.8 444.2,129.7 444.4,129.7 444.6,129.7 444.8,129.7 445,129.6 445.2,129.6 445.4,129.6 445.6,129.6 445.7,129.6 445.9,129.5 446.1,129.5 446.3,129.5 446.5,129.5 446.7,129.5 446.9,129.4 447.1,129.4 447.3,129.4 447.5,129.4 447.7,129.4 447.8,129.3 448,129.3 448.2,129.3 448.4,129.3 448.6,129.3 448.8,129.2 449,129.2 449.2,129.2 449.4,129.2 449.6,129.2 449.7,129.2 449.9,129.1 450.1,129.1 450.3,129.1 450.5,129.1 450.7,129.1 450.9,129.1 451.1,129 451.3,129 451.5,129 451.7,129 451.8,129 452,129 452.2,128.9 452.4,128.9 452.6,128.9 452.8,128.9 453,128.9 453.2,128.9 453.4,128.9 453.6,128.8 453.7,128.8 453.9,128.8 454.1,128.8 454.3,128.8 454.5,128.8 454.7,128.8 454.9,128.7 455.1,128.7 455.3,128.7 455.5,128.7 455.7,128.7 455.8,128.7 456,128.7 456.2,128.6 456.4,128.6 456.6,128.6 456.8,128.6 457,128.6 457.2,128.6 457.4,128.6 457.6,128.6 457.7,128.5 457.9,128.5 458.1,128.5 458.3,128.5 458.5,128.5 458.7,128.5 458.9,128.5 459.1,128.5 459.3,128.5 459.5,128.4 459.7,128.4 459.8,128.4 460,128.4 460.2,128.4 460.4,128.4 460.6,128.4 460.8,128.4 461,128.4 461.2,128.3 461.4,128.3 461.6,128.3 461.7,128.3 461.9,128.3 462.1,128.3 462.3,128.3 462.5,128.3 462.7,128.3 462.9,128.3 463.1,128.3 463.3,128.2 463.5,128.2 463.7,128.2 463.8,128.2 464,128.2 464.2,128.2 464.4,128.2 464.6,128.2 464.8,128.2 465,128.2 465.2,128.2 465.4,128.2 465.6,128.2 465.7,128.1 465.9,128.1 466.1,128.1 466.3,128.1 466.5,128.1 466.7,128.1 466.9,128.1 467.1,128.1 467.3,128.1 467.5,128.1 467.7,128.1 467.8,128.1 468,128.1 468.2,128.1 468.4,128.1 468.6,128 468.8,128 469,128 469.2,128 469.4,128 469.6,128 469.7,128 469.9,128 470.1,128 470.3,128 470.5,128 470.7,128 470.9,128 471.1,128 471.3,128 471.5,127.9 471.7,127.9 471.8,127.9 472,127.9 472.2,127.9 472.4,127.9 472.6,127.9 472.8,127.9 473,127.9 473.2,127.9 473.4,127.9 473.6,127.9 473.7,127.9 473.9,127.9 474.1,127.9 474.3,127.9 474.5,127.9 474.7,127.8 474.9,127.8 475.1,127.8 475.3,127.8 475.5,127.8 475.7,127.8 475.8,127.8 476,127.8 476.2,127.8 476.4,127.8 476.6,127.8 476.8,127.8 477,127.8 477.2,127.8 477.4,127.8 477.6,127.8 477.7,127.8 477.9,127.8 478.1,127.8 478.3,127.7 478.5,127.7 478.7,127.7 478.9,127.7 479.1,127.7 479.3,127.7 479.5,127.7 479.7,127.7 479.8,127.7 480,127.7 480.2,127.7 480.4,127.7 480.6,127.7 480.8,127.7 481,127.7 481.2,127.7 481.4,127.7 481.6,127.7 481.8,127.7 481.9,127.7 482.1,127.6 482.3,127.6 482.5,127.6 482.7,127.6 482.9,127.6 483.1,127.6 483.3,127.6 483.5,127.6 483.7,127.6 483.8,127.6 484,127.6 484.2,127.6 484.4,127.6 484.6,127.6 484.8,127.6 485,127.6 485.2,127.6 485.4,127.6 485.6,127.6 485.8,127.6 485.9,127.6 486.1,127.6 486.3,127.6 486.5,127.5 486.7,127.5 486.9,127.5 487.1,127.5 487.3,127.5 487.5,127.5 487.7,127.5 487.8,127.5 488,127.5 488.2,127.5 488.4,127.5 488.6,127.5 488.8,127.5 489,127.5 489.2,127.5 489.4,127.5 489.6,127.5 489.8,127.5 489.9,127.5 490.1,127.5 490.3,127.5 490.5,127.5 490.7,127.5 490.9,127.5 491.1,127.5 491.3,127.5 491.5,127.4 491.7,127.4 491.8,127.4 492,127.4 492.2,127.4 492.4,127.4 492.6,127.4 492.8,127.4 493,127.4 493.2,127.4 493.4,127.4 493.6,127.4 493.8,127.4 493.9,127.4 494.1,127.4 494.3,127.4 494.5,127.4 494.7,127.4 494.9,127.4 495.1,127.4 495.3,127.4 495.5,127.4 495.7,127.4 495.8,127.4 496,127.4 496.2,127.4 496.4,127.4 496.6,127.4 496.8,127.4 497,127.4 497.2,127.4 497.4,127.3 497.6,127.3 497.8,127.3 497.9,127.3 498.1,127.3 498.3,127.3 498.5,127.3 498.7,127.3 498.9,127.3 499.1,127.3 499.3,127.3 499.5,127.3 499.7,127.3 499.8,127.3 500,127.3 500.2,127.3 500.4,127.3 500.6,127.3 500.8,127.3 501,127.3 501.2,127.3 501.4,127.3 501.6,127.3 501.8,127.3 501.9,127.3 502.1,127.3 502.3,127.3 502.5,127.3 502.7,127.3 502.9,127.3 503.1,127.3 503.3,127.3 503.5,127.3 503.7,127.3 503.8,127.2 504,127.2 504.2,127.2 504.4,127.2 504.6,127.2 504.8,127.2 505,127.2 505.2,127.2 505.4,127.2 505.6,127.2 505.8,127.2 505.9,127.2 506.1,127.2 506.3,127.2 506.5,127.2 506.7,127.2 506.9,127.2 507.1,127.2 507.3,127.2 507.5,127.2 507.7,127.2 507.8,127.2 508,127.2 508.2,127.2 508.4,127.2 508.6,127.2 508.8,127.2 509,127.2 509.2,127.2 509.4,127.2 509.6,127.2 509.8,127.2 509.9,127.2 510.1,127.2 510.3,127.2 510.5,127.2 510.7,127.2 510.9,127.2 511.1,127.1 511.3,127.1 511.5,127.1 511.7,127.1 511.8,127.1 512,127.1 512.2,127.1 512.4,127.1 512.6,127.1 512.8,127.1 513,127.1 513.2,127.1 513.4,127.1 513.6,127.1 513.8,127.1 513.9,127.1 514.1,127.1 514.3,127.1 514.5,127.1 514.7,127.1 514.9,127.1 515.1,127.1 515.3,127.1 515.5,127.1 515.7,127.1 515.8,127.1 516,127.1 516.2,127.1 516.4,127.1 516.6,127.1 516.8,127.1 517,127.1 517.2,127.1 517.4,127.1 517.6,127.1 517.8,127.1 517.9,127.1 518.1,127.1 518.3,127.1 518.5,127.1 518.7,127.1 518.9,127.1 519.1,127.1 519.3,127.1 519.5,127.1 519.7,127.1 519.8,127.1 520,127.1 520.2,127 520.4,127 520.6,127 520.8,127 521,127 521.2,127 521.4,127 521.6,127 521.8,127 521.9,127 522.1,127 522.3,127 522.5,127 522.7,127 522.9,127 523.1,127 523.3,127 523.5,127 523.7,127 523.9,127 524,127 524.2,127 524.4,127 524.6,127 524.8,127 525,127 525.2,127 525.4,127 525.6,127 525.8,127 525.9,127 526.1,127 526.3,127 526.5,127 526.7,127 526.9,127 527.1,127 527.3,127 527.5,127 527.7,127 527.9,127 528,127 528.2,127 528.4,127 528.6,127 528.8,127 529,127 529.2,127 529.4,127" fill="none" stroke="#4DBEEE" stroke-width="0.9" stroke-opacity="0.75"/>
<path d="M348.4,117.1h0M352.3,116h0M356.2,115.6h0M360.1,116.1h0M364,118.1h0M367.9,120.7h0M371.8,124h0M375.7,134h0M379.6,144.4h0M383.5,154.2h0M387.4,159.7h0M391.3,154.1h0M395.2,137.6h0M399.1,110.2h0M403,103.9h0M406.8,111.7h0M410.6,123.7h0M414.4,130.7h0M418.2,133.8h0M422,135.1h0M425.8,134.6h0M429.6,132.9h0M433.4,131.6h0M437.2,130.7h0M441,130.2h0M444.8,129.7h0M448.6,129.3h0M452.4,128.9h0M456.2,128.7h0M460,128.4h0M463.8,128.2h0M467.6,128.1h0M471.4,128h0M475.2,127.8h0M479,127.7h0M482.8,127.6h0M486.6,127.5h0M490.3,127.5h0M494.1,127.4h0M497.9,127.3h0M501.7,127.3h0M505.5,127.2h0M509.3,127.2h0M513.1,127.1h0M516.9,127.1h0M520.7,127h0M524.5,127h0M528.3,127h0" stroke="#77AC30" stroke-width="2.1" stroke-linecap="round" fill="none" stroke-opacity="0.85"/>
<polyline points="348.4,104.6 348.6,104.5 348.8,104.3 349,104.2 349.2,104 349.4,103.9 349.5,103.7 349.7,103.6 349.9,103.5 350.1,103.3 350.3,103.2 350.5,103.1 350.7,103 350.9,102.9 351.1,102.8 351.3,102.7 351.4,102.6 351.6,102.5 351.8,102.4 352,102.3 352.2,102.2 352.4,102.2 352.6,102.1 352.8,102 353,101.9 353.2,101.9 353.4,101.8 353.5,101.7 353.7,101.7 353.9,101.6 354.1,101.5 354.3,101.5 354.5,101.4 354.7,101.4 354.9,101.3 355.1,101.3 355.3,101.3 355.4,101.2 355.6,101.2 355.8,101.2 356,101.2 356.2,101.2 356.4,101.2 356.6,101.2 356.8,101.2 357,101.2 357.2,101.2 357.4,101.2 357.5,101.3 357.7,101.3 357.9,101.3 358.1,101.3 358.3,101.3 358.5,101.3 358.7,101.4 358.9,101.4 359.1,101.4 359.3,101.4 359.4,101.5 359.6,101.5 359.8,101.5 360,101.6 360.2,101.6 360.4,101.7 360.6,101.9 360.8,102 361,102.2 361.2,102.4 361.4,102.6 361.5,102.8 361.7,103.1 361.9,103.3 362.1,103.6 362.3,103.8 362.5,104.1 362.7,104.4 362.9,104.7 363.1,104.9 363.3,105.2 363.4,105.5 363.6,105.7 363.8,106 364,106.2 364.2,106.5 364.4,106.8 364.6,107 364.8,107.3 365,107.6 365.2,107.9 365.4,108.2 365.5,108.5 365.7,108.8 365.9,109.1 366.1,109.5 366.3,109.8 366.5,110.1 366.7,110.5 366.9,110.8 367.1,111.2 367.3,111.6 367.4,112 367.6,112.4 367.8,112.8 368,113.2 368.2,113.7 368.4,114.2 368.6,114.7 368.8,115.2 369,115.7 369.2,116.2 369.4,116.7 369.5,117.2 369.7,117.8 369.9,118.3 370.1,118.8 370.3,119.4 370.5,119.9 370.7,120.4 370.9,120.9 371.1,121.3 371.3,121.8 371.5,122.3 371.6,122.7 371.8,123.2 372,123.8 372.2,124.3 372.4,124.9 372.6,125.5 372.8,126.2 373,126.9 373.2,127.8 373.4,128.7 373.5,129.7 373.7,130.7 373.9,131.8 374.1,132.9 374.3,134.1 374.5,135.3 374.7,136.6 374.9,137.8 375.1,139.1 375.3,140.4 375.5,141.7 375.6,142.9 375.8,144.2 376,145.4 376.2,146.7 376.4,148 376.6,149.3 376.8,150.6 377,152 377.2,153.3 377.4,154.7 377.5,156.1 377.7,157.5 377.9,158.9 378.1,160.3 378.3,161.7 378.5,163.1 378.7,164.4 378.9,165.8 379.1,167.1 379.3,168.4 379.5,169.7 379.6,171 379.8,172.3 380,173.7 380.2,175 380.4,176.3 380.6,177.6 380.8,178.9 381,180.2 381.2,181.5 381.4,182.8 381.5,184 381.7,185.2 381.9,186.5 382.1,187.7 382.3,188.8 382.5,190 382.7,191.1 382.9,192.2 383.1,193.3 383.3,194.4 383.5,195.6 383.6,196.8 383.8,198 384,199.3 384.2,200.5 384.4,201.8 384.6,203 384.8,204.1 385,205.2 385.2,206.3 385.4,207.3 385.5,208.2 385.7,209.1 385.9,209.8 386.1,210.4 386.3,210.9 386.5,211.3 386.7,211.5 386.9,211.6 387.1,211.6 387.3,211.4 387.5,211.1 387.6,210.7 387.8,210.2 388,209.7 388.2,209 388.4,208.3 388.6,207.5 388.8,206.6 389,205.7 389.2,204.7 389.4,203.6 389.5,202.6 389.7,201.4 389.9,200.3 390.1,199.1 390.3,197.9 390.5,196.7 390.7,195.4 390.9,194.2 391.1,192.9 391.3,191.4 391.5,189.7 391.6,187.9 391.8,186 392,183.9 392.2,181.7 392.4,179.5 392.6,177.1 392.8,174.7 393,172.2 393.2,169.6 393.4,167 393.5,164.4 393.7,161.8 393.9,159 394.1,156 394.3,152.8 394.5,149.4 394.7,146 394.9,142.5 395.1,139 395.3,135.5 395.5,132.2 395.6,129.1 395.8,126.2 396,123.4 396.2,120.6 396.4,117.7 396.6,114.9 396.8,112 397,109.3 397.2,106.5 397.4,103.9 397.5,101.3 397.7,98.8 397.9,96.5 398.1,94.3 398.3,92.3 398.5,90.4 398.7,88.8 398.9,87.4 399.1,86.2 399.3,85 399.5,83.9 399.6,82.8 399.8,81.7 400,80.7 400.2,79.6 400.4,78.6 400.6,77.7 400.8,76.7 401,75.9 401.2,75.1 401.4,74.3 401.5,73.6 401.7,72.9 401.9,72.3 402.1,71.8 402.3,71.4 402.5,71 402.7,70.8 402.9,70.6 403.1,70.5 403.3,70.5 403.5,70.6 403.6,71 403.8,71.5 404,72.1 404.2,72.9 404.4,73.8 404.6,74.8 404.8,75.9 405,77.1 405.2,78.4 405.4,79.7 405.5,81 405.7,82.4 405.9,83.8 406.1,85.2 406.3,86.6 406.5,88 406.7,89.4 406.9,90.7 407.1,91.9 407.3,93.2 407.5,94.6 407.6,96.1 407.8,97.6 408,99.2 408.2,100.8 408.4,102.5 408.6,104.2 408.8,105.9 409,107.6 409.2,109.3 409.4,111 409.6,112.7 409.7,114.3 409.9,116 410.1,117.5 410.3,119 410.5,120.4 410.7,121.8 410.9,123 411.1,124.2 411.3,125.3 411.5,126.2 411.6,127.1 411.8,127.9 412,128.7 412.2,129.4 412.4,130.1 412.6,130.8 412.8,131.5 413,132.2 413.2,132.8 413.4,133.4 413.6,134 413.7,134.6 413.9,135.1 414.1,135.7 414.3,136.2 414.5,136.7 414.7,137.2 414.9,137.8 415.1,138.3 415.3,138.8 415.5,139.3 415.6,139.8 415.8,140.4 416,140.9 416.2,141.4 416.4,142 416.6,142.5 416.8,143.1 417,143.6 417.2,144.1 417.4,144.6 417.6,145 417.7,145.5 417.9,145.9 418.1,146.3 418.3,146.7 418.5,147 418.7,147.3 418.9,147.5 419.1,147.7 419.3,147.8 419.5,148 419.6,148.1 419.8,148.2 420,148.4 420.2,148.5 420.4,148.6 420.6,148.7 420.8,148.8 421,148.9 421.2,149 421.4,149.1 421.6,149.2 421.7,149.3 421.9,149.3 422.1,149.4 422.3,149.5 422.5,149.5 422.7,149.5 422.9,149.6 423.1,149.6 423.3,149.6 423.5,149.6 423.6,149.6 423.8,149.6 424,149.5 424.2,149.5 424.4,149.4 424.6,149.3 424.8,149.2 425,149.1 425.2,149 425.4,148.8 425.6,148.7 425.7,148.5 425.9,148.4 426.1,148.2 426.3,148.1 426.5,147.9 426.7,147.8 426.9,147.7 427.1,147.5 427.3,147.4 427.5,147.3 427.6,147.1 427.8,147 428,146.9 428.2,146.8 428.4,146.6 428.6,146.5 428.8,146.4 429,146.2 429.2,146.1 429.4,145.9 429.6,145.8 429.7,145.7 429.9,145.5 430.1,145.4 430.3,145.2 430.5,145.1 430.7,145 430.9,144.8 431.1,144.7 431.3,144.5 431.5,144.4 431.6,144.2 431.8,144.1 432,144 432.2,143.8 432.4,143.7 432.6,143.5 432.8,143.4 433,143.2 433.2,143 433.4,142.9 433.6,142.7 433.7,142.6 433.9,142.4 434.1,142.3 434.3,142.1 434.5,142 434.7,141.9 434.9,141.7 435.1,141.6 435.3,141.5 435.5,141.3 435.6,141.2 435.8,141.1 436,141 436.2,140.9 436.4,140.8 436.6,140.7 436.8,140.6 437,140.5 437.2,140.4 437.4,140.3 437.6,140.2 437.7,140.1 437.9,140 438.1,139.9 438.3,139.8 438.5,139.7 438.7,139.7 438.9,139.6 439.1,139.5 439.3,139.4 439.5,139.3 439.6,139.2 439.8,139.1 440,139 440.2,138.9 440.4,138.8 440.6,138.7 440.8,138.6 441,138.5 441.2,138.4 441.4,138.3 441.6,138.2 441.7,138.1 441.9,138 442.1,137.9 442.3,137.8 442.5,137.7 442.7,137.6 442.9,137.5 443.1,137.4 443.3,137.3 443.5,137.2 443.6,137.1 443.8,137 444,136.9 444.2,136.8 444.4,136.7 444.6,136.6 444.8,136.5 445,136.4 445.2,136.3 445.4,136.2 445.6,136.1 445.7,136.1 445.9,136 446.1,135.9 446.3,135.8 446.5,135.7 446.7,135.6 446.9,135.5 447.1,135.4 447.3,135.4 447.5,135.3 447.7,135.2 447.8,135.1 448,135 448.2,134.9 448.4,134.9 448.6,134.8 448.8,134.7 449,134.6 449.2,134.6 449.4,134.5 449.6,134.4 449.7,134.4 449.9,134.3 450.1,134.2 450.3,134.2 450.5,134.1 450.7,134.1 450.9,134 451.1,133.9 451.3,133.9 451.5,133.8 451.7,133.8 451.8,133.7 452,133.7 452.2,133.6 452.4,133.6 452.6,133.5 452.8,133.4 453,133.4 453.2,133.3 453.4,133.3 453.6,133.2 453.7,133.2 453.9,133.1 454.1,133.1 454.3,133 454.5,133 454.7,132.9 454.9,132.9 455.1,132.8 455.3,132.8 455.5,132.7 455.7,132.7 455.8,132.6 456,132.6 456.2,132.5 456.4,132.5 456.6,132.5 456.8,132.4 457,132.4 457.2,132.3 457.4,132.3 457.6,132.2 457.7,132.2 457.9,132.2 458.1,132.1 458.3,132.1 458.5,132 458.7,132 458.9,131.9 459.1,131.9 459.3,131.9 459.5,131.8 459.7,131.8 459.8,131.8 460,131.7 460.2,131.7 460.4,131.6 460.6,131.6 460.8,131.6 461,131.5 461.2,131.5 461.4,131.5 461.6,131.4 461.7,131.4 461.9,131.4 462.1,131.3 462.3,131.3 462.5,131.3 462.7,131.3 462.9,131.2 463.1,131.2 463.3,131.2 463.5,131.1 463.7,131.1 463.8,131.1 464,131.1 464.2,131 464.4,131 464.6,131 464.8,131 465,130.9 465.2,130.9 465.4,130.9 465.6,130.9 465.7,130.9 465.9,130.8 466.1,130.8 466.3,130.8 466.5,130.8 466.7,130.7 466.9,130.7 467.1,130.7 467.3,130.7 467.5,130.7 467.7,130.6 467.8,130.6 468,130.6 468.2,130.6 468.4,130.6 468.6,130.5 468.8,130.5 469,130.5 469.2,130.5 469.4,130.5 469.6,130.4 469.7,130.4 469.9,130.4 470.1,130.4 470.3,130.4 470.5,130.3 470.7,130.3 470.9,130.3 471.1,130.3 471.3,130.3 471.5,130.2 471.7,130.2 471.8,130.2 472,130.2 472.2,130.2 472.4,130.2 472.6,130.1 472.8,130.1 473,130.1 473.2,130.1 473.4,130.1 473.6,130 473.7,130 473.9,130 474.1,130 474.3,130 474.5,130 474.7,129.9 474.9,129.9 475.1,129.9 475.3,129.9 475.5,129.9 475.7,129.9 475.8,129.8 476,129.8 476.2,129.8 476.4,129.8 476.6,129.8 476.8,129.8 477,129.7 477.2,129.7 477.4,129.7 477.6,129.7 477.7,129.7 477.9,129.7 478.1,129.6 478.3,129.6 478.5,129.6 478.7,129.6 478.9,129.6 479.1,129.6 479.3,129.6 479.5,129.5 479.7,129.5 479.8,129.5 480,129.5 480.2,129.5 480.4,129.5 480.6,129.5 480.8,129.4 481,129.4 481.2,129.4 481.4,129.4 481.6,129.4 481.8,129.4 481.9,129.4 482.1,129.4 482.3,129.3 482.5,129.3 482.7,129.3 482.9,129.3 483.1,129.3 483.3,129.3 483.5,129.3 483.7,129.2 483.8,129.2 484,129.2 484.2,129.2 484.4,129.2 484.6,129.2 484.8,129.2 485,129.2 485.2,129.2 485.4,129.1 485.6,129.1 485.8,129.1 485.9,129.1 486.1,129.1 486.3,129.1 486.5,129.1 486.7,129.1 486.9,129.1 487.1,129.1 487.3,129 487.5,129 487.7,129 487.8,129 488,129 488.2,129 488.4,129 488.6,129 488.8,129 489,129 489.2,128.9 489.4,128.9 489.6,128.9 489.8,128.9 489.9,128.9 490.1,128.9 490.3,128.9 490.5,128.9 490.7,128.9 490.9,128.9 491.1,128.9 491.3,128.9 491.5,128.8 491.7,128.8 491.8,128.8 492,128.8 492.2,128.8 492.4,128.8 492.6,128.8 492.8,128.8 493,128.8 493.2,128.8 493.4,128.8 493.6,128.8 493.8,128.8 493.9,128.8 494.1,128.8 494.3,128.8 494.5,128.7 494.7,128.7 494.9,128.7 495.1,128.7 495.3,128.7 495.5,128.7 495.7,128.7 495.8,128.7 496,128.7 496.2,128.7 496.4,128.7 496.6,128.7 496.8,128.7 497,128.7 497.2,128.7 497.4,128.7 497.6,128.7 497.8,128.7 497.9,128.7 498.1,128.7 498.3,128.6 498.5,128.6 498.7,128.6 498.9,128.6 499.1,128.6 499.3,128.6 499.5,128.6 499.7,128.6 499.8,128.6 500,128.6 500.2,128.6 500.4,128.6 500.6,128.6 500.8,128.6 501,128.6 501.2,128.6 501.4,128.6 501.6,128.6 501.8,128.6 501.9,128.6 502.1,128.6 502.3,128.5 502.5,128.5 502.7,128.5 502.9,128.5 503.1,128.5 503.3,128.5 503.5,128.5 503.7,128.5 503.8,128.5 504,128.5 504.2,128.5 504.4,128.5 504.6,128.5 504.8,128.5 505,128.5 505.2,128.5 505.4,128.5 505.6,128.5 505.8,128.5 505.9,128.5 506.1,128.5 506.3,128.5 506.5,128.5 506.7,128.4 506.9,128.4 507.1,128.4 507.3,128.4 507.5,128.4 507.7,128.4 507.8,128.4 508,128.4 508.2,128.4 508.4,128.4 508.6,128.4 508.8,128.4 509,128.4 509.2,128.4 509.4,128.4 509.6,128.4 509.8,128.4 509.9,128.4 510.1,128.4 510.3,128.4 510.5,128.4 510.7,128.4 510.9,128.4 511.1,128.4 511.3,128.4 511.5,128.4 511.7,128.3 511.8,128.3 512,128.3 512.2,128.3 512.4,128.3 512.6,128.3 512.8,128.3 513,128.3 513.2,128.3 513.4,128.3 513.6,128.3 513.8,128.3 513.9,128.3 514.1,128.3 514.3,128.3 514.5,128.3 514.7,128.3 514.9,128.3 515.1,128.3 515.3,128.3 515.5,128.3 515.7,128.3 515.8,128.3 516,128.3 516.2,128.3 516.4,128.3 516.6,128.3 516.8,128.3 517,128.3 517.2,128.3 517.4,128.3 517.6,128.3 517.8,128.3 517.9,128.3 518.1,128.3 518.3,128.2 518.5,128.2 518.7,128.2 518.9,128.2 519.1,128.2 519.3,128.2 519.5,128.2 519.7,128.2 519.8,128.2 520,128.2 520.2,128.2 520.4,128.2 520.6,128.2 520.8,128.2 521,128.2 521.2,128.2 521.4,128.2 521.6,128.2 521.8,128.2 521.9,128.2 522.1,128.2 522.3,128.2 522.5,128.2 522.7,128.2 522.9,128.2 523.1,128.2 523.3,128.2 523.5,128.2 523.7,128.2 523.9,128.2 524,128.2 524.2,128.2 524.4,128.2 524.6,128.2 524.8,128.2 525,128.2 525.2,128.2 525.4,128.2 525.6,128.2 525.8,128.2 525.9,128.2 526.1,128.2 526.3,128.2 526.5,128.2 526.7,128.2 526.9,128.2 527.1,128.2 527.3,128.2 527.5,128.2 527.7,128.2 527.9,128.2 528,128.2 528.2,128.2 528.4,128.2 528.6,128.2 528.8,128.2 529,128.2 529.2,128.2 529.4,128.2" fill="none" stroke="#0072BD" stroke-width="0.9" stroke-opacity="0.75"/>
<path d="M348.4,104.6h0M352.3,102.2h0M356.2,101.2h0M360.1,101.6h0M364,106.2h0M367.9,113h0M371.8,123.2h0M375.7,143.4h0M379.6,170.9h0M383.5,196h0M387.4,211.2h0M391.3,190.8h0M395.2,136.1h0M399.1,85.8h0M403,70.5h0M406.8,90.3h0M410.6,121.3h0M414.4,136.5h0M418.2,146.5h0M422,149.4h0M425.8,148.5h0M429.6,145.8h0M433.4,142.9h0M437.2,140.4h0M441,138.5h0M444.8,136.5h0M448.6,134.8h0M452.4,133.6h0M456.2,132.6h0M460,131.7h0M463.8,131.1h0M467.6,130.7h0M471.4,130.3h0M475.2,129.9h0M479,129.6h0M482.8,129.3h0M486.6,129.1h0M490.3,128.9h0M494.1,128.8h0M497.9,128.7h0M501.7,128.6h0M505.5,128.5h0M509.3,128.4h0M513.1,128.3h0M516.9,128.3h0M520.7,128.2h0M524.5,128.2h0M528.3,128.2h0" stroke="#7E2F8E" stroke-width="2.1" stroke-linecap="round" fill="none" stroke-opacity="0.85"/>
<polyline points="348.4,87.1 348.6,86.9 348.8,86.6 349,86.4 349.2,86.1 349.4,85.9 349.5,85.6 349.7,85.4 349.9,85.2 350.1,84.9 350.3,84.7 350.5,84.5 350.7,84.3 350.9,84.1 351.1,83.9 351.3,83.7 351.4,83.6 351.6,83.4 351.8,83.2 352,83.1 352.2,82.9 352.4,82.8 352.6,82.7 352.8,82.5 353,82.4 353.2,82.2 353.4,82.1 353.5,82 353.7,81.8 353.9,81.7 354.1,81.6 354.3,81.4 354.5,81.3 354.7,81.2 354.9,81.2 355.1,81.1 355.3,81 355.4,81 355.6,80.9 355.8,80.9 356,80.9 356.2,80.9 356.4,80.9 356.6,80.9 356.8,80.9 357,80.9 357.2,81 357.4,81 357.5,81 357.7,81.1 357.9,81.1 358.1,81.2 358.3,81.2 358.5,81.3 358.7,81.3 358.9,81.4 359.1,81.5 359.3,81.5 359.4,81.6 359.6,81.7 359.8,81.8 360,81.8 360.2,82 360.4,82.1 360.6,82.3 360.8,82.5 361,82.7 361.2,83 361.4,83.3 361.5,83.5 361.7,83.9 361.9,84.2 362.1,84.5 362.3,84.9 362.5,85.2 362.7,85.6 362.9,86 363.1,86.4 363.3,86.8 363.4,87.2 363.6,87.6 363.8,88 364,88.4 364.2,88.8 364.4,89.2 364.6,89.7 364.8,90.2 365,90.7 365.2,91.2 365.4,91.7 365.5,92.3 365.7,92.9 365.9,93.4 366.1,94.1 366.3,94.7 366.5,95.3 366.7,96 366.9,96.6 367.1,97.3 367.3,98 367.4,98.7 367.6,99.4 367.8,100.1 368,100.8 368.2,101.6 368.4,102.4 368.6,103.3 368.8,104.1 369,105 369.2,105.9 369.4,106.9 369.5,107.8 369.7,108.8 369.9,109.8 370.1,110.8 370.3,111.8 370.5,112.8 370.7,113.7 370.9,114.7 371.1,115.7 371.3,116.7 371.5,117.7 371.6,118.7 371.8,119.8 372,120.9 372.2,122.1 372.4,123.4 372.6,124.7 372.8,126.2 373,127.9 373.2,129.8 373.4,132 373.5,134.3 373.7,136.8 373.9,139.5 374.1,142.2 374.3,145 374.5,147.8 374.7,150.5 374.9,153.2 375.1,155.9 375.3,158.4 375.5,160.7 375.6,163 375.8,165.3 376,167.6 376.2,169.8 376.4,172 376.6,174.2 376.8,176.4 377,178.5 377.2,180.7 377.4,182.8 377.5,185 377.7,187.1 377.9,189.2 378.1,191.4 378.3,193.6 378.5,195.7 378.7,197.9 378.9,200.1 379.1,202.4 379.3,204.6 379.5,206.9 379.6,209.3 379.8,211.7 380,214.2 380.2,216.7 380.4,219.2 380.6,221.7 380.8,224.2 381,226.7 381.2,229.2 381.4,231.6 381.5,234.1 381.7,236.4 381.9,238.7 382.1,240.9 382.3,243 382.5,245 382.7,247 382.9,248.8 383.1,250.6 383.3,252.4 383.5,254.3 383.6,256.2 383.8,258.1 384,260 384.2,261.9 384.4,263.7 384.6,265.5 384.8,267.2 385,268.8 385.2,270.3 385.4,271.7 385.5,273 385.7,274.1 385.9,275.1 386.1,275.8 386.3,276.4 386.5,276.7 386.7,276.9 386.9,276.8 387.1,276.5 387.3,276 387.5,275.3 387.6,274.5 387.8,273.5 388,272.3 388.2,271.1 388.4,269.7 388.6,268.1 388.8,266.5 389,264.8 389.2,263 389.4,261.1 389.5,259.1 389.7,257.1 389.9,255.1 390.1,253 390.3,250.9 390.5,248.8 390.7,246.5 390.9,243.7 391.1,240.6 391.3,237.1 391.5,233.4 391.6,229.3 391.8,225 392,220.5 392.2,215.8 392.4,211 392.6,206.1 392.8,201 393,196 393.2,190.9 393.4,185.8 393.5,180.8 393.7,175.8 393.9,171 394.1,166.3 394.3,161.8 394.5,157.4 394.7,152.9 394.9,148.5 395.1,144 395.3,139.6 395.5,135.1 395.6,130.6 395.8,126.2 396,121.6 396.2,116.9 396.4,111.9 396.6,106.9 396.8,101.8 397,96.6 397.2,91.5 397.4,86.5 397.5,81.7 397.7,77 397.9,72.6 398.1,68.4 398.3,64.6 398.5,61.2 398.7,58.3 398.9,55.8 399.1,53.6 399.3,51.5 399.5,49.3 399.6,47.2 399.8,45.2 400,43.2 400.2,41.3 400.4,39.4 400.6,37.6 400.8,35.9 401,34.3 401.2,32.7 401.4,31.3 401.5,30 401.7,28.8 401.9,27.8 402.1,26.9 402.3,26.1 402.5,25.5 402.7,25 402.9,24.7 403.1,24.6 403.3,24.7 403.5,25 403.6,25.7 403.8,26.6 404,27.7 404.2,29 404.4,30.5 404.6,32.2 404.8,34 405,36 405.2,38.1 405.4,40.3 405.5,42.6 405.7,44.9 405.9,47.3 406.1,49.7 406.3,52.2 406.5,54.6 406.7,57 406.9,59.3 407.1,61.6 407.3,63.8 407.5,66.2 407.6,68.8 407.8,71.5 408,74.4 408.2,77.4 408.4,80.4 408.6,83.6 408.8,86.9 409,90.1 409.2,93.4 409.4,96.7 409.6,99.9 409.7,103.1 409.9,106.3 410.1,109.3 410.3,112.2 410.5,115 410.7,117.7 410.9,120.1 411.1,122.4 411.3,124.4 411.5,126.2 411.6,127.8 411.8,129.4 412,130.9 412.2,132.3 412.4,133.7 412.6,135 412.8,136.3 413,137.5 413.2,138.7 413.4,139.9 413.6,141 413.7,142.1 413.9,143.1 414.1,144.2 414.3,145.2 414.5,146.2 414.7,147.1 414.9,148.1 415.1,149 415.3,150 415.5,151 415.6,151.9 415.8,152.9 416,153.9 416.2,154.9 416.4,155.9 416.6,156.8 416.8,157.8 417,158.7 417.2,159.6 417.4,160.4 417.6,161.2 417.7,162 417.9,162.6 418.1,163.3 418.3,163.9 418.5,164.4 418.7,164.8 418.9,165.1 419.1,165.4 419.3,165.6 419.5,165.8 419.6,166 419.8,166.3 420,166.5 420.2,166.7 420.4,166.9 420.6,167 420.8,167.2 421,167.4 421.2,167.5 421.4,167.7 421.6,167.8 421.7,168 421.9,168.1 422.1,168.2 422.3,168.3 422.5,168.4 422.7,168.4 422.9,168.5 423.1,168.5 423.3,168.6 423.5,168.6 423.6,168.6 423.8,168.6 424,168.5 424.2,168.4 424.4,168.3 424.6,168.2 424.8,168 425,167.8 425.2,167.6 425.4,167.4 425.6,167.2 425.7,167 425.9,166.7 426.1,166.5 426.3,166.2 426.5,166 426.7,165.7 426.9,165.5 427.1,165.2 427.3,165 427.5,164.8 427.6,164.6 427.8,164.3 428,164.1 428.2,163.9 428.4,163.6 428.6,163.4 428.8,163.1 429,162.8 429.2,162.6 429.4,162.3 429.6,162 429.7,161.8 429.9,161.5 430.1,161.2 430.3,161 430.5,160.7 430.7,160.4 430.9,160.2 431.1,159.9 431.3,159.7 431.5,159.4 431.6,159.2 431.8,158.9 432,158.7 432.2,158.4 432.4,158.2 432.6,158 432.8,157.7 433,157.5 433.2,157.2 433.4,157 433.6,156.8 433.7,156.5 433.9,156.3 434.1,156.1 434.3,155.8 434.5,155.6 434.7,155.4 434.9,155.1 435.1,154.9 435.3,154.7 435.5,154.4 435.6,154.2 435.8,154 436,153.7 436.2,153.5 436.4,153.3 436.6,153 436.8,152.8 437,152.5 437.2,152.3 437.4,152.1 437.6,151.8 437.7,151.6 437.9,151.4 438.1,151.1 438.3,150.9 438.5,150.7 438.7,150.5 438.9,150.2 439.1,150 439.3,149.8 439.5,149.6 439.6,149.4 439.8,149.2 440,149 440.2,148.8 440.4,148.6 440.6,148.4 440.8,148.3 441,148.1 441.2,147.9 441.4,147.7 441.6,147.5 441.7,147.4 441.9,147.2 442.1,147 442.3,146.8 442.5,146.7 442.7,146.5 442.9,146.3 443.1,146.1 443.3,146 443.5,145.8 443.6,145.6 443.8,145.5 444,145.3 444.2,145.1 444.4,144.9 444.6,144.8 444.8,144.6 445,144.4 445.2,144.3 445.4,144.1 445.6,143.9 445.7,143.8 445.9,143.6 446.1,143.5 446.3,143.3 446.5,143.2 446.7,143 446.9,142.9 447.1,142.7 447.3,142.6 447.5,142.5 447.7,142.3 447.8,142.2 448,142.1 448.2,141.9 448.4,141.8 448.6,141.7 448.8,141.6 449,141.4 449.2,141.3 449.4,141.2 449.6,141.1 449.7,141 449.9,140.9 450.1,140.7 450.3,140.6 450.5,140.5 450.7,140.4 450.9,140.3 451.1,140.2 451.3,140 451.5,139.9 451.7,139.8 451.8,139.7 452,139.6 452.2,139.5 452.4,139.4 452.6,139.2 452.8,139.1 453,139 453.2,138.9 453.4,138.8 453.6,138.7 453.7,138.6 453.9,138.5 454.1,138.4 454.3,138.3 454.5,138.2 454.7,138.1 454.9,138 455.1,137.9 455.3,137.8 455.5,137.7 455.7,137.6 455.8,137.5 456,137.5 456.2,137.4 456.4,137.3 456.6,137.2 456.8,137.1 457,137 457.2,136.9 457.4,136.8 457.6,136.8 457.7,136.7 457.9,136.6 458.1,136.5 458.3,136.4 458.5,136.3 458.7,136.3 458.9,136.2 459.1,136.1 459.3,136 459.5,135.9 459.7,135.9 459.8,135.8 460,135.7 460.2,135.6 460.4,135.6 460.6,135.5 460.8,135.4 461,135.3 461.2,135.3 461.4,135.2 461.6,135.1 461.7,135.1 461.9,135 462.1,134.9 462.3,134.9 462.5,134.8 462.7,134.7 462.9,134.7 463.1,134.6 463.3,134.6 463.5,134.5 463.7,134.4 463.8,134.4 464,134.3 464.2,134.3 464.4,134.2 464.6,134.2 464.8,134.2 465,134.1 465.2,134.1 465.4,134 465.6,134 465.7,133.9 465.9,133.9 466.1,133.9 466.3,133.8 466.5,133.8 466.7,133.7 466.9,133.7 467.1,133.7 467.3,133.6 467.5,133.6 467.7,133.6 467.8,133.5 468,133.5 468.2,133.5 468.4,133.4 468.6,133.4 468.8,133.4 469,133.3 469.2,133.3 469.4,133.3 469.6,133.2 469.7,133.2 469.9,133.2 470.1,133.1 470.3,133.1 470.5,133.1 470.7,133.1 470.9,133 471.1,133 471.3,133 471.5,132.9 471.7,132.9 471.8,132.9 472,132.9 472.2,132.8 472.4,132.8 472.6,132.8 472.8,132.8 473,132.7 473.2,132.7 473.4,132.7 473.6,132.7 473.7,132.6 473.9,132.6 474.1,132.6 474.3,132.6 474.5,132.5 474.7,132.5 474.9,132.5 475.1,132.5 475.3,132.4 475.5,132.4 475.7,132.4 475.8,132.4 476,132.4 476.2,132.3 476.4,132.3 476.6,132.3 476.8,132.3 477,132.2 477.2,132.2 477.4,132.2 477.6,132.2 477.7,132.2 477.9,132.1 478.1,132.1 478.3,132.1 478.5,132.1 478.7,132 478.9,132 479.1,132 479.3,132 479.5,132 479.7,131.9 479.8,131.9 480,131.9 480.2,131.9 480.4,131.9 480.6,131.8 480.8,131.8 481,131.8 481.2,131.8 481.4,131.7 481.6,131.7 481.8,131.7 481.9,131.7 482.1,131.7 482.3,131.6 482.5,131.6 482.7,131.6 482.9,131.6 483.1,131.6 483.3,131.5 483.5,131.5 483.7,131.5 483.8,131.5 484,131.5 484.2,131.4 484.4,131.4 484.6,131.4 484.8,131.4 485,131.4 485.2,131.4 485.4,131.3 485.6,131.3 485.8,131.3 485.9,131.3 486.1,131.3 486.3,131.2 486.5,131.2 486.7,131.2 486.9,131.2 487.1,131.2 487.3,131.2 487.5,131.1 487.7,131.1 487.8,131.1 488,131.1 488.2,131.1 488.4,131.1 488.6,131 488.8,131 489,131 489.2,131 489.4,131 489.6,131 489.8,130.9 489.9,130.9 490.1,130.9 490.3,130.9 490.5,130.9 490.7,130.9 490.9,130.8 491.1,130.8 491.3,130.8 491.5,130.8 491.7,130.8 491.8,130.8 492,130.8 492.2,130.7 492.4,130.7 492.6,130.7 492.8,130.7 493,130.7 493.2,130.7 493.4,130.7 493.6,130.6 493.8,130.6 493.9,130.6 494.1,130.6 494.3,130.6 494.5,130.6 494.7,130.6 494.9,130.6 495.1,130.5 495.3,130.5 495.5,130.5 495.7,130.5 495.8,130.5 496,130.5 496.2,130.5 496.4,130.5 496.6,130.5 496.8,130.4 497,130.4 497.2,130.4 497.4,130.4 497.6,130.4 497.8,130.4 497.9,130.4 498.1,130.4 498.3,130.4 498.5,130.4 498.7,130.3 498.9,130.3 499.1,130.3 499.3,130.3 499.5,130.3 499.7,130.3 499.8,130.3 500,130.3 500.2,130.3 500.4,130.3 500.6,130.2 500.8,130.2 501,130.2 501.2,130.2 501.4,130.2 501.6,130.2 501.8,130.2 501.9,130.2 502.1,130.2 502.3,130.2 502.5,130.2 502.7,130.1 502.9,130.1 503.1,130.1 503.3,130.1 503.5,130.1 503.7,130.1 503.8,130.1 504,130.1 504.2,130.1 504.4,130.1 504.6,130.1 504.8,130.1 505,130 505.2,130 505.4,130 505.6,130 505.8,130 505.9,130 506.1,130 506.3,130 506.5,130 506.7,130 506.9,130 507.1,130 507.3,130 507.5,129.9 507.7,129.9 507.8,129.9 508,129.9 508.2,129.9 508.4,129.9 508.6,129.9 508.8,129.9 509,129.9 509.2,129.9 509.4,129.9 509.6,129.9 509.8,129.9 509.9,129.8 510.1,129.8 510.3,129.8 510.5,129.8 510.7,129.8 510.9,129.8 511.1,129.8 511.3,129.8 511.5,129.8 511.7,129.8 511.8,129.8 512,129.8 512.2,129.8 512.4,129.8 512.6,129.7 512.8,129.7 513,129.7 513.2,129.7 513.4,129.7 513.6,129.7 513.8,129.7 513.9,129.7 514.1,129.7 514.3,129.7 514.5,129.7 514.7,129.7 514.9,129.7 515.1,129.7 515.3,129.6 515.5,129.6 515.7,129.6 515.8,129.6 516,129.6 516.2,129.6 516.4,129.6 516.6,129.6 516.8,129.6 517,129.6 517.2,129.6 517.4,129.6 517.6,129.6 517.8,129.6 517.9,129.6 518.1,129.5 518.3,129.5 518.5,129.5 518.7,129.5 518.9,129.5 519.1,129.5 519.3,129.5 519.5,129.5 519.7,129.5 519.8,129.5 520,129.5 520.2,129.5 520.4,129.5 520.6,129.5 520.8,129.5 521,129.4 521.2,129.4 521.4,129.4 521.6,129.4 521.8,129.4 521.9,129.4 522.1,129.4 522.3,129.4 522.5,129.4 522.7,129.4 522.9,129.4 523.1,129.4 523.3,129.4 523.5,129.4 523.7,129.4 523.9,129.4 524,129.4 524.2,129.3 524.4,129.3 524.6,129.3 524.8,129.3 525,129.3 525.2,129.3 525.4,129.3 525.6,129.3 525.8,129.3 525.9,129.3 526.1,129.3 526.3,129.3 526.5,129.3 526.7,129.3 526.9,129.3 527.1,129.3 527.3,129.3 527.5,129.3 527.7,129.3 527.9,129.2 528,129.2 528.2,129.2 528.4,129.2 528.6,129.2 528.8,129.2 529,129.2 529.2,129.2 529.4,129.2" fill="none" stroke="#EDB120" stroke-width="0.9" stroke-opacity="0.75"/>
<path d="M348.4,87.1h0M352.3,82.9h0M356.2,80.9h0M360.1,81.9h0M364,88.4h0M367.9,100.4h0M371.8,119.7h0M375.7,164h0M379.6,209h0M383.5,255h0M387.4,275.4h0M391.3,235.9h0M395.2,140.3h0M399.1,52.9h0M403,24.6h0M406.8,58.7h0M410.6,116.8h0M414.4,145.8h0M418.2,163.6h0M422,168.1h0M425.8,166.9h0M429.6,162h0M433.4,157h0M437.2,152.3h0M441,148.1h0M444.8,144.6h0M448.6,141.7h0M452.4,139.4h0M456.2,137.4h0M460,135.7h0M463.8,134.4h0M467.6,133.6h0M471.4,133h0M475.2,132.5h0M479,132h0M482.8,131.6h0M486.6,131.2h0M490.3,130.9h0M494.1,130.6h0M497.9,130.4h0M501.7,130.2h0M505.5,130h0M509.3,129.9h0M513.1,129.7h0M516.9,129.6h0M520.7,129.5h0M524.5,129.3h0M528.3,129.2h0" stroke="#D95319" stroke-width="2.1" stroke-linecap="round" fill="none" stroke-opacity="0.85"/>
</g>
<rect x="348.4" y="7.6" width="190.10000000000002" height="276.79999999999995" fill="none" stroke="#8c8c8c" stroke-width="1"/>
<path d="M348.4,284.4v-2M348.4,7.6v2M386.5,284.4v-2M386.5,7.6v2M424.6,284.4v-2M424.6,7.6v2M462.7,284.4v-2M462.7,7.6v2M500.8,284.4v-2M500.8,7.6v2M538.9,284.4v-2M538.9,7.6v2M348.4,7.6h2M538.5,7.6h-2M348.4,47.1h2M538.5,47.1h-2M348.4,86.7h2M538.5,86.7h-2M348.4,126.2h2M538.5,126.2h-2M348.4,165.7h2M538.5,165.7h-2M348.4,205.3h2M538.5,205.3h-2M348.4,244.8h2M538.5,244.8h-2M348.4,284.4h2M538.5,284.4h-2" stroke="#8c8c8c" stroke-width="1"/>
<g style="font-family:&quot;Liberation Sans&quot;,Arial,Helvetica,sans-serif;font-size:10.2px" fill="#454545" stroke="#454545" stroke-width="0.22" text-anchor="end">
<text x="344" y="12.2">1.5</text>
<text x="344" y="51.7">1</text>
<text x="344" y="91.3">0.5</text>
<text x="344" y="130.8">0</text>
<text x="344" y="170.3">-0.5</text>
<text x="344" y="209.9">-1</text>
<text x="344" y="249.4">-1.5</text>
<text x="344" y="289">-2</text>
</g>
<g style="font-family:&quot;Liberation Sans&quot;,Arial,Helvetica,sans-serif;font-size:10.2px" fill="#454545" stroke="#454545" stroke-width="0.22" text-anchor="middle">
<text x="348.4" y="299.3">0</text>
<text x="386.5" y="299.3">100</text>
<text x="424.6" y="299.3">200</text>
<text x="462.7" y="299.3">300</text>
<text x="500.8" y="299.3">400</text>
<text x="538.9" y="299.3">500</text>
</g>
<text x="445.9" y="313.2" style="font-family:&quot;Liberation Sans&quot;,Arial,Helvetica,sans-serif;font-size:11.2px" fill="#454545" stroke="#454545" stroke-width="0.22" text-anchor="middle">s in mm</text>
<text transform="translate(316.8,172.2) rotate(-90)" style="font-family:&quot;Liberation Sans&quot;,Arial,Helvetica,sans-serif;font-size:11.2px" fill="#454545" stroke="#454545" stroke-width="0.22"><tspan font-size="12.5px">ε</tspan><tspan dy="3.6" font-size="7.5px">ξξ</tspan><tspan dy="-3.6"> in </tspan><tspan font-style="italic" style="font-family:&quot;Liberation Serif&quot;,&quot;Times New Roman&quot;,serif">μ</tspan>m/m</text>
<text x="459.4" y="332.2" style="font-family:&quot;Liberation Serif&quot;,&quot;Times New Roman&quot;,serif;font-size:13.5px" fill="#222" stroke="#222" stroke-width="0.3" text-anchor="middle">(b)</text>
<path d="M413.1,179.6L399.2,134.2" stroke="#555" stroke-width="0.8" fill="none"/>
<path d="M397.3,129.3L396.9,134.8L401.3,133.5Z" fill="#222"/>
<text x="407.8" y="192.1" style="font-family:&quot;Liberation Serif&quot;,&quot;Times New Roman&quot;,serif;font-size:11.3px" fill="#333">hole normal to trajectory</text>
<rect x="368.2" y="207.4" width="160.8" height="66.9" fill="#fff" stroke="#8c8c8c" stroke-width="1"/>
<path d="M374.5,215.7H405.3" stroke="#D95319" stroke-width="0.8" stroke-opacity="0.8"/>
<text x="410.2" y="220.8" style="font-family:&quot;Liberation Sans&quot;,Arial,Helvetica,sans-serif;font-size:11.4px" fill="#333">FE: R=0</text>
<path d="M374.5,228.4H405.3" stroke="#7E2F8E" stroke-width="0.8" stroke-opacity="0.8"/>
<text x="410.2" y="233.5" style="font-family:&quot;Liberation Sans&quot;,Arial,Helvetica,sans-serif;font-size:11.4px" fill="#333">FE: R=1.25 mm</text>
<path d="M374.5,241.2H405.3" stroke="#4DBEEE" stroke-width="0.8" stroke-opacity="0.8"/>
<text x="410.2" y="246.3" style="font-family:&quot;Liberation Sans&quot;,Arial,Helvetica,sans-serif;font-size:11.4px" fill="#333">FE: R=2.50 mm</text>
<path d="M374.5,253.9H405.3" stroke="#0072BD" stroke-width="0.8" stroke-opacity="0.8"/>
<text x="410.2" y="259.1" style="font-family:&quot;Liberation Sans&quot;,Arial,Helvetica,sans-serif;font-size:11.4px" fill="#333">FE: R=3.75 mm</text>
<path d="M374.5,266.7H405.3" stroke="#EDB120" stroke-width="0.8" stroke-opacity="0.8"/>
<text x="410.2" y="271.8" style="font-family:&quot;Liberation Sans&quot;,Arial,Helvetica,sans-serif;font-size:11.4px" fill="#333">FE: R=5.00 mm</text>
</svg>
</body></html>
